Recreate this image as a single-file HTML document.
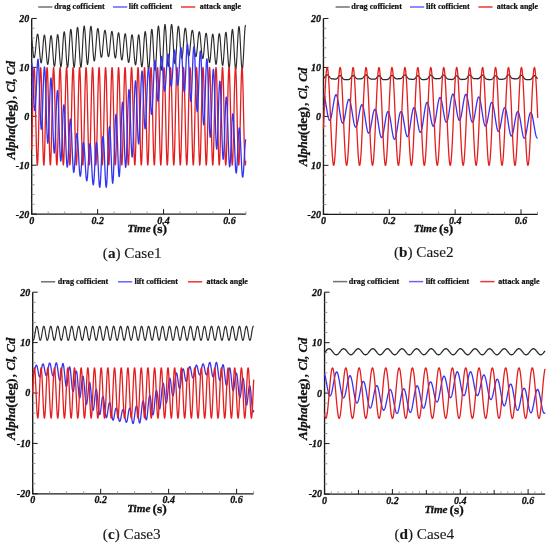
<!DOCTYPE html>
<html><head><meta charset="utf-8"><style>
html,body{margin:0;padding:0;background:#fff;width:550px;height:544px;overflow:hidden}
svg{display:block;will-change:transform}
text{font-family:"Liberation Serif", serif;fill:#111;stroke:#111;stroke-width:0.2px}
.cap{stroke-width:0.12px;stroke:#1a1a1a}
.tl{font-size:10px;font-style:italic;font-weight:bold;stroke-width:0.3px}
.lg{font-size:7.4px;font-weight:bold}
.yt{font-size:12px;font-weight:bold;stroke-width:0.3px}
.xt{font-size:11.2px}
.al{font-size:12.8px}
.upd{font-style:normal;font-size:13px}
.it{font-style:italic}
.up{font-style:normal;font-size:13.5px}
.cap{font-size:13.6px;fill:#1a1a1a}
</style></head><body>
<svg width="550" height="544" viewBox="0 0 550 544">
<rect width="550" height="544" fill="#fff"/>
<path d="M31.70,18.45 V214.10 H245.90" fill="none" stroke="#1a1a1a" stroke-width="1.35"/>
<path d="M31.70,214.10h5 M31.70,165.19h5 M31.70,116.28h5 M31.70,67.36h5 M31.70,18.45h5 M31.70,214.10v-5 M97.63,214.10v-5 M163.57,214.10v-5 M229.50,214.10v-5" fill="none" stroke="#1a1a1a" stroke-width="1"/>
<path d="M31.70,204.32h2.8 M31.70,194.53h2.8 M31.70,184.75h2.8 M31.70,174.97h2.8 M31.70,155.41h2.8 M31.70,145.62h2.8 M31.70,135.84h2.8 M31.70,126.06h2.8 M31.70,106.49h2.8 M31.70,96.71h2.8 M31.70,86.93h2.8 M31.70,77.15h2.8 M31.70,57.58h2.8 M31.70,47.80h2.8 M31.70,38.02h2.8 M31.70,28.23h2.8 M48.18,214.10v-2.5 M64.67,214.10v-2.5 M81.15,214.10v-2.5 M114.12,214.10v-2.5 M130.60,214.10v-2.5 M147.08,214.10v-2.5 M180.05,214.10v-2.5 M196.53,214.10v-2.5 M213.02,214.10v-2.5 M245.98,214.10v-2.5" fill="none" stroke="#8a8a8a" stroke-width="0.9"/>
<text x="29.20" y="21.85" text-anchor="end" class="tl">20</text>
<text x="29.20" y="70.76" text-anchor="end" class="tl">10</text>
<text x="29.20" y="119.68" text-anchor="end" class="tl">0</text>
<text x="29.20" y="168.59" text-anchor="end" class="tl">-10</text>
<text x="29.20" y="217.50" text-anchor="end" class="tl">-20</text>
<text x="31.70" y="223.60" text-anchor="middle" class="tl">0</text>
<text x="97.63" y="223.60" text-anchor="middle" class="tl">0.2</text>
<text x="163.57" y="223.60" text-anchor="middle" class="tl">0.4</text>
<text x="229.50" y="223.60" text-anchor="middle" class="tl">0.6</text>
<polyline points="31.70,38.46 31.95,40.78 32.20,43.38 32.45,46.12 32.70,48.83 32.95,51.39 33.20,53.64 33.45,55.47 33.70,56.76 33.95,57.46 34.20,57.61 34.45,57.27 34.70,56.35 34.95,54.89 35.20,52.96 35.45,50.67 35.70,48.11 35.95,45.44 36.20,42.77 36.45,40.26 36.70,38.04 36.95,36.23 37.20,34.93 37.45,34.22 37.70,34.17 37.95,34.80 38.20,36.07 38.45,37.92 38.70,40.29 38.95,43.06 39.20,46.09 39.45,49.25 39.70,52.39 39.95,55.35 40.20,57.98 40.45,60.15 40.70,61.76 40.95,62.72 41.20,62.92 41.45,62.26 41.70,60.84 41.95,58.75 42.20,56.09 42.45,53.04 42.70,49.75 42.95,46.42 43.20,43.24 43.45,40.39 43.70,38.03 43.95,36.31 44.20,35.31 44.45,35.10 44.70,35.68 44.95,37.04 45.20,39.11 45.45,41.77 45.70,44.87 45.95,48.25 46.20,51.71 46.45,55.06 46.70,58.13 46.95,60.72 47.20,62.70 47.45,63.96 47.70,64.43 47.95,64.10 48.20,63.00 48.45,61.17 48.70,58.73 48.95,55.81 49.20,52.55 49.45,49.16 49.70,45.81 49.95,42.69 50.20,39.98 50.45,37.82 50.70,36.34 50.95,35.63 51.20,35.69 51.45,36.55 51.70,38.18 51.95,40.51 52.20,43.40 52.45,46.71 52.70,50.25 52.95,53.84 53.20,57.28 53.45,60.37 53.70,62.96 53.95,64.89 54.20,66.05 54.45,66.37 54.70,65.75 54.95,64.26 55.20,61.97 55.45,59.02 55.70,55.58 55.95,51.83 56.20,48.01 56.45,44.34 56.70,41.02 56.95,38.25 57.20,36.19 57.45,34.97 57.70,34.65 57.95,35.27 58.20,36.72 58.45,38.98 58.70,41.93 58.95,45.41 59.20,49.21 59.45,53.11 59.70,56.88 59.95,60.30 60.20,63.16 60.45,65.29 60.70,66.55 60.95,66.86 61.20,66.21 61.45,64.64 61.70,62.23 61.95,59.10 62.20,55.43 62.45,51.41 62.70,47.26 62.95,43.22 63.20,39.52 63.45,36.36 63.70,33.93 63.95,32.36 64.20,31.75 64.45,32.14 64.70,33.52 64.95,35.82 65.20,38.88 65.45,42.56 65.70,46.64 65.95,50.88 66.20,55.06 66.45,58.93 66.70,62.26 66.95,64.87 67.20,66.60 67.45,67.34 67.70,67.03 67.95,65.69 68.20,63.39 68.45,60.26 68.70,56.46 68.95,52.20 69.20,47.73 69.45,43.28 69.70,39.11 69.95,35.45 70.20,32.51 70.45,30.46 70.70,29.41 70.95,29.42 71.20,30.52 71.45,32.63 71.70,35.62 71.95,39.34 72.20,43.57 72.45,48.07 72.70,52.59 72.95,56.87 73.20,60.67 73.45,63.76 73.70,65.97 73.95,67.16 74.20,67.28 74.45,66.35 74.70,64.42 74.95,61.60 75.20,58.03 75.45,53.90 75.70,49.41 75.95,44.82 76.20,40.35 76.45,36.24 76.70,32.72 76.95,29.97 77.20,28.14 77.45,27.32 77.70,27.58 77.95,28.90 78.20,31.21 78.45,34.37 78.70,38.23 78.95,42.57 79.20,47.16 79.45,51.77 79.70,56.14 79.95,60.04 80.20,63.26 80.45,65.63 80.70,67.02 80.95,67.32 81.20,66.41 81.45,64.40 81.70,61.41 81.95,57.61 82.20,53.21 82.45,48.44 82.70,43.59 82.95,38.91 83.20,34.67 83.45,31.09 83.70,28.38 83.95,26.67 84.20,26.07 84.45,26.59 84.70,28.25 84.95,30.88 85.20,34.33 85.45,38.41 85.70,42.87 85.95,47.46 86.20,51.91 86.45,55.99 86.70,59.44 86.95,62.09 87.20,63.78 87.45,64.43 87.70,64.00 87.95,62.58 88.20,60.25 88.45,57.13 88.70,53.39 88.95,49.24 89.20,44.89 89.45,40.57 89.70,36.51 89.95,32.91 90.20,29.97 90.45,27.82 90.70,26.58 90.95,26.29 91.20,27.03 91.45,28.69 91.70,31.17 91.95,34.31 92.20,37.96 92.45,41.90 92.70,45.92 92.95,49.81 93.20,53.36 93.45,56.39 93.70,58.74 93.95,60.30 94.20,60.98 94.45,60.78 94.70,59.76 94.95,58.00 95.20,55.58 95.45,52.63 95.70,49.30 95.95,45.76 96.20,42.17 96.45,38.72 96.70,35.56 96.95,32.85 97.20,30.70 97.45,29.22 97.70,28.47 97.95,28.47 98.20,29.21 98.45,30.64 98.70,32.68 98.95,35.23 99.20,38.16 99.45,41.31 99.70,44.53 99.95,47.65 100.20,50.54 100.45,53.04 100.70,55.05 100.95,56.46 101.20,57.22 101.45,57.32 101.70,56.82 101.95,55.67 102.20,53.93 102.45,51.69 102.70,49.07 102.95,46.19 103.20,43.20 103.45,40.25 103.70,37.48 103.95,35.02 104.20,32.99 104.45,31.49 104.70,30.56 104.95,30.27 105.20,30.63 105.45,31.62 105.70,33.20 105.95,35.27 106.20,37.74 106.45,40.48 106.70,43.37 106.95,46.26 107.20,49.00 107.45,51.48 107.70,53.56 107.95,55.15 108.20,56.18 108.45,56.59 108.70,56.43 108.95,55.60 109.20,54.14 109.45,52.14 109.70,49.69 109.95,46.93 110.20,44.01 110.45,41.09 110.70,38.32 110.95,35.85 111.20,33.83 111.45,32.37 111.70,31.54 111.95,31.38 112.20,31.91 112.45,33.11 112.70,34.91 112.95,37.23 113.20,39.93 113.45,42.88 113.70,45.93 113.95,48.91 114.20,51.68 114.45,54.08 114.70,55.99 114.95,57.32 115.20,57.99 115.45,57.98 115.70,57.23 115.95,55.78 116.20,53.71 116.45,51.15 116.70,48.25 116.95,45.17 117.20,42.12 117.45,39.25 117.70,36.75 117.95,34.77 118.20,33.41 118.45,32.76 118.70,32.88 118.95,33.75 119.20,35.34 119.45,37.56 119.70,40.27 119.95,43.34 120.20,46.58 120.45,49.81 120.70,52.85 120.95,55.51 121.20,57.66 121.45,59.16 121.70,59.93 121.95,59.95 122.20,59.26 122.45,57.90 122.70,55.94 122.95,53.50 123.20,50.69 123.45,47.67 123.70,44.61 123.95,41.67 124.20,39.01 124.45,36.78 124.70,35.09 124.95,34.06 125.20,33.73 125.45,34.13 125.70,35.25 125.95,37.03 126.20,39.39 126.45,42.20 126.70,45.31 126.95,48.58 127.20,51.82 127.45,54.87 127.70,57.57 127.95,59.78 128.20,61.38 128.45,62.28 128.70,62.45 128.95,61.88 129.20,60.62 129.45,58.73 129.70,56.30 129.95,53.47 130.20,50.38 130.45,47.19 130.70,44.08 130.95,41.21 131.20,38.71 131.45,36.72 131.70,35.37 131.95,34.72 132.20,34.81 132.45,35.65 132.70,37.19 132.95,39.38 133.20,42.08 133.45,45.19 133.70,48.52 133.95,51.93 134.20,55.23 134.45,58.26 134.70,60.85 134.95,62.89 135.20,64.26 135.45,64.88 135.70,64.68 135.95,63.57 136.20,61.60 136.45,58.92 136.70,55.67 136.95,52.07 137.20,48.34 137.45,44.71 137.70,41.42 137.95,38.66 138.20,36.51 138.45,35.17 138.70,34.76 138.95,35.31 139.20,36.81 139.45,39.16 139.70,42.24 139.95,45.86 140.20,49.79 140.45,53.79 140.70,57.62 140.95,61.03 141.20,63.81 141.45,65.76 141.70,66.76 141.95,66.77 142.20,65.87 142.45,64.11 142.70,61.58 142.95,58.40 143.20,54.72 143.45,50.75 143.70,46.68 143.95,42.74 144.20,39.14 144.45,36.07 144.70,33.70 144.95,32.16 145.20,31.59 145.45,31.99 145.70,33.34 145.95,35.60 146.20,38.63 146.45,42.30 146.70,46.40 146.95,50.72 147.20,55.04 147.45,59.12 147.70,62.75 147.95,65.72 148.20,67.87 148.45,69.08 148.70,69.24 148.95,68.23 149.20,66.11 149.45,62.99 149.70,59.05 149.95,54.54 150.20,49.70 150.45,44.84 150.70,40.23 150.95,36.16 151.20,32.88 151.45,30.58 151.70,29.41 151.95,29.45 152.20,30.66 152.45,33.01 152.70,36.37 152.95,40.54 153.20,45.28 153.45,50.30 153.70,55.29 153.95,59.96 154.20,64.02 154.45,67.21 154.70,69.34 154.95,70.26 155.20,69.93 155.45,68.47 155.70,65.96 155.95,62.52 156.20,58.33 156.45,53.61 156.70,48.59 156.95,43.54 157.20,38.73 157.45,34.41 157.70,30.81 157.95,28.13 158.20,26.51 158.45,26.04 158.70,26.80 158.95,28.70 159.20,31.64 159.45,35.46 159.70,39.95 159.95,44.89 160.20,50.01 160.45,55.03 160.70,59.68 160.95,63.72 161.20,66.93 161.45,69.13 161.70,70.20 161.95,69.96 162.20,68.34 162.45,65.49 162.70,61.56 162.95,56.81 163.20,51.50 163.45,45.95 163.70,40.49 163.95,35.44 164.20,31.09 164.45,27.69 164.70,25.44 164.95,24.46 165.20,24.79 165.45,26.42 165.70,29.27 165.95,33.10 166.20,37.68 166.45,42.72 166.70,47.92 166.95,52.95 167.20,57.51 167.45,61.33 167.70,64.19 167.95,65.90 168.20,66.38 168.45,65.73 168.70,63.99 168.95,61.27 169.20,57.71 169.45,53.50 169.70,48.87 169.95,44.05 170.20,39.31 170.45,34.89 170.70,31.02 170.95,27.91 171.20,25.70 171.45,24.52 171.70,24.41 171.95,25.37 172.20,27.41 172.45,30.35 172.70,34.02 172.95,38.21 173.20,42.71 173.45,47.26 173.70,51.63 173.95,55.58 174.20,58.92 174.45,61.46 174.70,63.07 174.95,63.69 175.20,63.22 175.45,61.73 175.70,59.35 175.95,56.21 176.20,52.47 176.45,48.35 176.70,44.06 176.95,39.83 177.20,35.89 177.45,32.42 177.70,29.61 177.95,27.59 178.20,26.46 178.45,26.25 178.70,26.96 178.95,28.54 179.20,30.89 179.45,33.87 179.70,37.30 179.95,41.00 180.20,44.77 180.45,48.39 180.70,51.69 180.95,54.47 181.20,56.61 181.45,58.00 181.70,58.57 181.95,58.36 182.20,57.43 182.45,55.77 182.70,53.48 182.95,50.69 183.20,47.53 183.45,44.17 183.70,40.77 183.95,37.51 184.20,34.55 184.45,32.03 184.70,30.07 184.95,28.77 185.20,28.18 185.45,28.32 185.70,29.18 185.95,30.71 186.20,32.83 186.45,35.41 186.70,38.33 186.95,41.43 187.20,44.56 187.45,47.56 187.70,50.29 187.95,52.60 188.20,54.39 188.45,55.57 188.70,56.09 188.95,56.00 189.20,55.31 189.45,54.00 189.70,52.15 189.95,49.85 190.20,47.22 190.45,44.40 190.70,41.51 190.95,38.70 191.20,36.12 191.45,33.88 191.70,32.11 191.95,30.87 192.20,30.25 192.45,30.25 192.70,30.88 192.95,32.11 193.20,33.88 193.45,36.11 193.70,38.69 193.95,41.50 194.20,44.40 194.45,47.24 194.70,49.90 194.95,52.24 195.20,54.16 195.45,55.57 195.70,56.39 195.95,56.60 196.20,56.20 196.45,55.14 196.70,53.48 196.95,51.32 197.20,48.76 197.45,45.96 197.70,43.06 197.95,40.21 198.20,37.58 198.45,35.31 198.70,33.52 198.95,32.31 199.20,31.76 199.45,31.88 199.70,32.69 199.95,34.13 200.20,36.15 200.45,38.64 200.70,41.46 200.95,44.47 201.20,47.52 201.45,50.45 201.70,53.10 201.95,55.34 202.20,57.05 202.45,58.14 202.70,58.56 202.95,58.35 203.20,57.47 203.45,55.95 203.70,53.88 203.95,51.37 204.20,48.56 204.45,45.60 204.70,42.65 204.95,39.88 205.20,37.43 205.45,35.46 205.70,34.05 205.95,33.30 206.20,33.27 206.45,33.95 206.70,35.34 206.95,37.37 207.20,39.93 207.45,42.90 207.70,46.13 207.95,49.46 208.20,52.71 208.45,55.70 208.70,58.30 208.95,60.35 209.20,61.75 209.45,62.43 209.70,62.26 209.95,61.26 210.20,59.50 210.45,57.07 210.70,54.12 210.95,50.83 211.20,47.39 211.45,44.00 211.70,40.86 211.95,38.16 212.20,36.06 212.45,34.69 212.70,34.11 212.95,34.35 213.20,35.43 213.45,37.30 213.70,39.86 213.95,42.96 214.20,46.42 214.45,50.05 214.70,53.64 214.95,56.98 215.20,59.88 215.45,62.17 215.70,63.70 215.95,64.39 216.20,64.18 216.45,63.11 216.70,61.24 216.95,58.69 217.20,55.59 217.45,52.12 217.70,48.47 217.95,44.85 218.20,41.46 218.45,38.50 218.70,36.14 218.95,34.50 219.20,33.70 219.45,33.76 219.70,34.67 219.95,36.41 220.20,38.89 220.45,41.97 220.70,45.48 220.95,49.21 221.20,52.98 221.45,56.55 221.70,59.72 221.95,62.32 222.20,64.19 222.45,65.22 222.70,65.36 222.95,64.60 223.20,62.92 223.45,60.43 223.70,57.27 223.95,53.60 224.20,49.65 224.45,45.64 224.70,41.81 224.95,38.39 225.20,35.57 225.45,33.53 225.70,32.39 225.95,32.24 226.20,33.04 226.45,34.80 226.70,37.43 226.95,40.78 227.20,44.66 227.45,48.86 227.70,53.13 227.95,57.23 228.20,60.90 228.45,63.92 228.70,66.13 228.95,67.36 229.20,67.55 229.45,66.68 229.70,64.81 229.95,62.04 230.20,58.52 230.45,54.43 230.70,50.00 230.95,45.48 231.20,41.13 231.45,37.18 231.70,33.88 231.95,31.40 232.20,29.90 232.45,29.46 232.70,30.13 232.95,31.87 233.20,34.58 233.45,38.13 233.70,42.32 233.95,46.91 234.20,51.66 234.45,56.29 234.70,60.53 234.95,64.14 235.20,66.91 235.45,68.67 235.70,69.32 235.95,68.74 236.20,66.97 236.45,64.13 236.70,60.35 236.95,55.86 237.20,50.90 237.45,45.76 237.70,40.74 237.95,36.13 238.20,32.19 238.45,29.16 238.70,27.22 238.95,26.48 239.20,27.00 239.45,28.75 239.70,31.68 239.95,35.56 240.20,40.17 240.45,45.25 240.70,50.50 240.95,55.60 241.20,60.28 241.45,64.24 241.70,67.26 241.95,69.15 242.20,69.81 242.45,69.20 242.70,67.43 242.95,64.56 243.20,60.77 243.45,56.26 243.70,51.26 243.95,46.06 244.20,40.93 244.45,36.16 244.70,32.00 244.95,28.68 245.20,26.39 245.45,25.25 245.70,25.33" fill="none" stroke="#2a2a2a" stroke-width="1.15" stroke-linejoin="round"/>
<polyline points="31.70,149.62 31.95,140.09 32.20,129.16 32.45,117.49 32.70,105.75 32.95,94.62 33.20,84.75 33.45,76.71 33.70,70.98 33.95,67.88 34.20,67.59 34.45,70.14 34.70,75.37 34.95,82.98 35.20,92.53 35.45,103.45 35.70,115.13 35.95,126.87 36.20,137.99 36.45,147.86 36.70,155.88 36.95,161.60 37.20,164.68 37.45,164.95 37.70,162.39 37.95,157.14 38.20,149.52 38.45,139.96 38.70,129.03 38.95,117.35 39.20,105.61 39.45,94.49 39.70,84.64 39.95,76.63 40.20,70.92 40.45,67.86 40.70,67.60 40.95,70.19 41.20,75.45 41.45,83.08 41.70,92.65 41.95,103.59 42.20,115.27 42.45,127.01 42.70,138.12 42.95,147.96 43.20,155.96 43.45,161.65 43.70,164.70 43.95,164.94 44.20,162.34 44.45,157.06 44.70,149.42 44.95,139.84 45.20,128.89 45.45,117.21 45.70,105.47 45.95,94.37 46.20,84.53 46.45,76.55 46.70,70.87 46.95,67.84 47.20,67.62 47.45,70.23 47.70,75.52 47.95,83.19 48.20,92.77 48.45,103.73 48.70,115.41 48.95,127.15 49.20,138.25 49.45,148.07 49.70,156.05 49.95,161.71 50.20,164.72 50.45,164.92 50.70,162.29 50.95,156.99 51.20,149.31 51.45,139.71 51.70,128.75 51.95,117.07 52.20,105.33 52.45,94.24 52.70,84.42 52.95,76.46 53.20,70.82 53.45,67.82 53.70,67.63 53.95,70.28 54.20,75.60 54.45,83.29 54.70,92.90 54.95,103.87 55.20,115.55 55.45,127.28 55.70,138.37 55.95,148.18 56.20,156.13 56.45,161.76 56.70,164.74 56.95,164.91 57.20,162.24 57.45,156.91 57.70,149.21 57.95,139.59 58.20,128.62 58.45,116.93 58.70,105.20 58.95,94.11 59.20,84.32 59.45,76.38 59.70,70.77 59.95,67.80 60.20,67.65 60.45,70.33 60.70,75.68 60.95,83.40 61.20,93.02 61.45,104.00 61.70,115.70 61.95,127.42 62.20,138.50 62.45,148.29 62.70,156.21 62.95,161.81 63.20,164.76 63.45,164.89 63.70,162.20 63.95,156.83 64.20,149.10 64.45,139.46 64.70,128.48 64.95,116.78 65.20,105.06 65.45,93.99 65.70,84.21 65.95,76.30 66.20,70.71 66.45,67.78 66.70,67.66 66.95,70.38 67.20,75.76 67.45,83.50 67.70,93.15 67.95,104.14 68.20,115.84 68.45,127.56 68.70,138.63 68.95,148.39 69.20,156.29 69.45,161.86 69.70,164.78 69.95,164.88 70.20,162.15 70.45,156.75 70.70,149.00 70.95,139.34 71.20,128.34 71.45,116.64 71.70,104.92 71.95,93.86 72.20,84.10 72.45,76.22 72.70,70.66 72.95,67.76 73.20,67.68 73.45,70.43 73.70,75.84 73.95,83.61 74.20,93.27 74.45,104.28 74.70,115.98 74.95,127.70 75.20,138.75 75.45,148.50 75.70,156.37 75.95,161.91 76.20,164.80 76.45,164.86 76.70,162.10 76.95,156.67 77.20,148.89 77.45,139.21 77.70,128.20 77.95,116.50 78.20,104.78 78.45,93.73 78.70,84.00 78.95,76.14 79.20,70.61 79.45,67.74 79.70,67.70 79.95,70.48 80.20,75.92 80.45,83.71 80.70,93.40 80.95,104.41 81.20,116.12 81.45,127.84 81.70,138.88 81.95,148.61 82.20,156.45 82.45,161.96 82.70,164.82 82.95,164.84 83.20,162.05 83.45,156.59 83.70,148.78 83.95,139.09 84.20,128.07 84.45,116.36 84.70,104.64 84.95,93.61 85.20,83.89 85.45,76.06 85.70,70.56 85.95,67.73 86.20,67.71 86.45,70.53 86.70,76.00 86.95,83.82 87.20,93.52 87.45,104.55 87.70,116.26 87.95,127.97 88.20,139.00 88.45,148.71 88.70,156.53 88.95,162.01 89.20,164.83 89.45,164.83 89.70,162.00 89.95,156.51 90.20,148.68 90.45,138.96 90.70,127.93 90.95,116.22 91.20,104.51 91.45,93.48 91.70,83.78 91.95,75.97 92.20,70.51 92.45,67.71 92.70,67.73 92.95,70.58 93.20,76.08 93.45,83.93 93.70,93.65 93.95,104.69 94.20,116.41 94.45,128.11 94.70,139.13 94.95,148.82 95.20,156.62 95.45,162.06 95.70,164.85 95.95,164.81 96.20,161.95 96.45,156.43 96.70,148.57 96.95,138.84 97.20,127.79 97.45,116.07 97.70,104.37 97.95,93.36 98.20,83.68 98.45,75.89 98.70,70.46 98.95,67.69 99.20,67.75 99.45,70.63 99.70,76.16 99.95,84.03 100.20,93.78 100.45,104.83 100.70,116.55 100.95,128.25 101.20,139.26 101.45,148.93 101.70,156.70 101.95,162.11 102.20,164.87 102.45,164.79 102.70,161.90 102.95,156.35 103.20,148.46 103.45,138.71 103.70,127.65 103.95,115.93 104.20,104.23 104.45,93.23 104.70,83.57 104.95,75.81 105.20,70.41 105.45,67.68 105.70,67.77 105.95,70.68 106.20,76.24 106.45,84.14 106.70,93.90 106.95,104.97 107.20,116.69 107.45,128.39 107.70,139.38 107.95,149.03 108.20,156.78 108.45,162.16 108.70,164.88 108.95,164.77 109.20,161.84 109.45,156.26 109.70,148.36 109.95,138.59 110.20,127.51 110.45,115.79 110.70,104.09 110.95,93.11 111.20,83.47 111.45,75.74 111.70,70.36 111.95,67.66 112.20,67.78 112.45,70.73 112.70,76.33 112.95,84.25 113.20,94.03 113.45,105.10 113.70,116.83 113.95,128.52 114.20,139.51 114.45,149.14 114.70,156.85 114.95,162.21 115.20,164.90 115.45,164.76 115.70,161.79 115.95,156.18 116.20,148.25 116.45,138.46 116.70,127.38 116.95,115.65 117.20,103.96 117.45,92.98 117.70,83.36 117.95,75.66 118.20,70.31 118.45,67.64 118.70,67.80 118.95,70.78 119.20,76.41 119.45,84.35 119.70,94.15 119.95,105.24 120.20,116.97 120.45,128.66 120.70,139.63 120.95,149.24 121.20,156.93 121.45,162.26 121.70,164.91 121.95,164.74 122.20,161.74 122.45,156.10 122.70,148.14 122.95,138.33 123.20,127.24 123.45,115.51 123.70,103.82 123.95,92.86 124.20,83.26 124.45,75.58 124.70,70.26 124.95,67.63 125.20,67.82 125.45,70.84 125.70,76.49 125.95,84.46 126.20,94.28 126.45,105.38 126.70,117.11 126.95,128.80 127.20,139.76 127.45,149.35 127.70,157.01 127.95,162.31 128.20,164.93 128.45,164.72 128.70,161.69 128.95,156.02 129.20,148.04 129.45,138.21 129.70,127.10 129.95,115.36 130.20,103.68 130.45,92.73 130.70,83.15 130.95,75.50 131.20,70.22 131.45,67.61 131.70,67.84 131.95,70.89 132.20,76.57 132.45,84.57 132.70,94.41 132.95,105.52 133.20,117.26 133.45,128.94 133.70,139.88 133.95,149.45 134.20,157.09 134.45,162.36 134.70,164.94 134.95,164.70 135.20,161.64 135.45,155.93 135.70,147.93 135.95,138.08 136.20,126.96 136.45,115.22 136.70,103.55 136.95,92.61 137.20,83.05 137.45,75.42 137.70,70.17 137.95,67.60 138.20,67.86 138.45,70.94 138.70,76.66 138.95,84.68 139.20,94.54 139.45,105.66 139.70,117.40 139.95,129.07 140.20,140.00 140.45,149.55 140.70,157.17 140.95,162.40 141.20,164.96 141.45,164.68 141.70,161.58 141.95,155.85 142.20,147.82 142.45,137.95 142.70,126.82 142.95,115.08 143.20,103.41 143.45,92.48 143.70,82.94 143.95,75.34 144.20,70.12 144.45,67.59 144.70,67.88 144.95,70.99 145.20,76.74 145.45,84.79 145.70,94.66 145.95,105.80 146.20,117.54 146.45,129.21 146.70,140.13 146.95,149.66 147.20,157.25 147.45,162.45 147.70,164.97 147.95,164.66 148.20,161.53 148.45,155.77 148.70,147.71 148.95,137.82 149.20,126.68 149.45,114.94 149.70,103.27 149.95,92.36 150.20,82.84 150.45,75.26 150.70,70.08 150.95,67.57 151.20,67.90 151.45,71.05 151.70,76.82 151.95,84.89 152.20,94.79 152.45,105.94 152.70,117.68 152.95,129.35 153.20,140.25 153.45,149.76 153.70,157.32 153.95,162.50 154.20,164.98 154.45,164.64 154.70,161.47 154.95,155.68 155.20,147.60 155.45,137.70 155.70,126.55 155.95,114.80 156.20,103.13 156.45,92.24 156.70,82.74 156.95,75.19 157.20,70.03 157.45,67.56 157.70,67.93 157.95,71.10 158.20,76.91 158.45,85.00 158.70,94.92 158.95,106.07 159.20,117.82 159.45,129.48 159.70,140.38 159.95,149.86 160.20,157.40 160.45,162.54 160.70,165.00 160.95,164.61 161.20,161.42 161.45,155.60 161.70,147.49 161.95,137.57 162.20,126.41 162.45,114.66 162.70,103.00 162.95,92.11 163.20,82.63 163.45,75.11 163.70,69.98 163.95,67.55 164.20,67.95 164.45,71.16 164.70,76.99 164.95,85.11 165.20,95.05 165.45,106.21 165.70,117.97 165.95,129.62 166.20,140.50 166.45,149.97 166.70,157.48 166.95,162.59 167.20,165.01 167.45,164.59 167.70,161.37 167.95,155.52 168.20,147.38 168.45,137.44 168.70,126.27 168.95,114.51 169.20,102.86 169.45,91.99 169.70,82.53 169.95,75.03 170.20,69.94 170.45,67.54 170.70,67.97 170.95,71.21 171.20,77.08 171.45,85.22 171.70,95.17 171.95,106.35 172.20,118.11 172.45,129.76 172.70,140.62 172.95,150.07 173.20,157.55 173.45,162.64 173.70,165.02 173.95,164.57 174.20,161.31 174.45,155.43 174.70,147.27 174.95,137.31 175.20,126.13 175.45,114.37 175.70,102.72 175.95,91.87 176.20,82.43 176.45,74.96 176.70,69.89 176.95,67.52 177.20,67.99 177.45,71.27 177.70,77.16 177.95,85.33 178.20,95.30 178.45,106.49 178.70,118.25 178.95,129.89 179.20,140.74 179.45,150.17 179.70,157.63 179.95,162.68 180.20,165.03 180.45,164.55 180.70,161.25 180.95,155.35 181.20,147.16 181.45,137.18 181.70,125.99 181.95,114.23 182.20,102.59 182.45,91.74 182.70,82.33 182.95,74.88 183.20,69.85 183.45,67.51 183.70,68.01 183.95,71.32 184.20,77.25 184.45,85.44 184.70,95.43 184.95,106.63 185.20,118.39 185.45,130.03 185.70,140.87 185.95,150.28 186.20,157.71 186.45,162.73 186.70,165.04 186.95,164.52 187.20,161.20 187.45,155.26 187.70,147.05 187.95,137.06 188.20,125.85 188.45,114.09 188.70,102.45 188.95,91.62 189.20,82.22 189.45,74.81 189.70,69.80 189.95,67.50 190.20,68.04 190.45,71.38 190.70,77.33 190.95,85.55 191.20,95.56 191.45,106.77 191.70,118.53 191.95,130.17 192.20,140.99 192.45,150.38 192.70,157.78 192.95,162.77 193.20,165.05 193.45,164.50 193.70,161.14 193.95,155.17 194.20,146.94 194.45,136.93 194.70,125.71 194.95,113.95 195.20,102.32 195.45,91.50 195.70,82.12 195.95,74.73 196.20,69.76 196.45,67.49 196.70,68.06 196.95,71.44 197.20,77.42 197.45,85.66 197.70,95.69 197.95,106.91 198.20,118.67 198.45,130.30 198.70,141.11 198.95,150.48 199.20,157.86 199.45,162.81 199.70,165.06 199.95,164.48 200.20,161.09 200.45,155.09 200.70,146.83 200.95,136.80 201.20,125.57 201.45,113.80 201.70,102.18 201.95,91.38 202.20,82.02 202.45,74.66 202.70,69.71 202.95,67.48 203.20,68.09 203.45,71.49 203.70,77.51 203.95,85.77 204.20,95.82 204.45,107.05 204.70,118.82 204.95,130.44 205.20,141.23 205.45,150.58 205.70,157.93 205.95,162.86 206.20,165.07 206.45,164.45 206.70,161.03 206.95,155.00 207.20,146.72 207.45,136.67 207.70,125.43 207.95,113.66 208.20,102.04 208.45,91.25 208.70,81.92 208.95,74.58 209.20,69.67 209.45,67.47 209.70,68.11 209.95,71.55 210.20,77.59 210.45,85.88 210.70,95.94 210.95,107.19 211.20,118.96 211.45,130.57 211.70,141.36 211.95,150.68 212.20,158.00 212.45,162.90 212.70,165.08 212.95,164.43 213.20,160.97 213.45,154.91 213.70,146.61 213.95,136.54 214.20,125.29 214.45,113.52 214.70,101.91 214.95,91.13 215.20,81.82 215.45,74.51 215.70,69.63 215.95,67.46 216.20,68.13 216.45,71.61 216.70,77.68 216.95,86.00 217.20,96.07 217.45,107.33 217.70,119.10 217.95,130.71 218.20,141.48 218.45,150.78 218.70,158.08 218.95,162.94 219.20,165.09 219.45,164.40 219.70,160.91 219.95,154.83 220.20,146.50 220.45,136.41 220.70,125.15 220.95,113.38 221.20,101.77 221.45,91.01 221.70,81.72 221.95,74.44 222.20,69.59 222.45,67.45 222.70,68.16 222.95,71.67 223.20,77.77 223.45,86.11 223.70,96.20 223.95,107.47 224.20,119.24 224.45,130.84 224.70,141.60 224.95,150.88 225.20,158.15 225.45,162.98 225.70,165.10 225.95,164.38 226.20,160.85 226.45,154.74 226.70,146.39 226.95,136.28 227.20,125.01 227.45,113.24 227.70,101.64 227.95,90.89 228.20,81.62 228.45,74.36 228.70,69.54 228.95,67.44 229.20,68.19 229.45,71.72 229.70,77.85 229.95,86.22 230.20,96.33 230.45,107.61 230.70,119.38 230.95,130.98 231.20,141.72 231.45,150.98 231.70,158.22 231.95,163.03 232.20,165.11 232.45,164.35 232.70,160.80 232.95,154.65 233.20,146.27 233.45,136.15 233.70,124.87 233.95,113.10 234.20,101.50 234.45,90.77 234.70,81.52 234.95,74.29 235.20,69.50 235.45,67.44 235.70,68.21 235.95,71.78 236.20,77.94 236.45,86.33 236.70,96.46 236.95,107.75 237.20,119.52 237.45,131.12 237.70,141.84 237.95,151.08 238.20,158.30 238.45,163.07 238.70,165.12 238.95,164.32 239.20,160.74 239.45,154.56 239.70,146.16 239.95,136.02 240.20,124.73 240.45,112.95 240.70,101.37 240.95,90.65 241.20,81.42 241.45,74.22 241.70,69.46 241.95,67.43 242.20,68.24 242.45,71.84 242.70,78.03 242.95,86.44 243.20,96.59 243.45,107.88 243.70,119.67 243.95,131.25 244.20,141.96 244.45,151.18 244.70,158.37 244.95,163.11 245.20,165.12 245.45,164.30 245.70,160.68" fill="none" stroke="#e41e1e" stroke-width="1.3" stroke-linejoin="round"/>
<polyline points="31.70,62.87 31.95,64.38 32.20,67.12 32.45,70.95 32.70,75.68 32.95,81.05 33.20,86.77 33.45,92.51 33.70,97.93 33.95,102.73 34.20,106.59 34.45,109.29 34.70,110.65 34.95,110.57 35.20,109.03 35.45,106.45 35.70,102.56 35.95,97.58 36.20,91.78 36.45,85.51 36.70,79.14 36.95,73.08 37.20,67.71 37.45,63.40 37.70,60.46 37.95,59.11 38.20,59.86 38.45,62.46 38.70,66.72 38.95,72.45 39.20,79.37 39.45,87.10 39.70,95.25 39.95,103.37 40.20,111.01 40.45,117.74 40.70,123.20 40.95,127.07 41.20,129.13 41.45,129.28 41.70,127.51 41.95,123.80 42.20,118.45 42.45,111.87 42.70,104.46 42.95,96.67 43.20,88.97 43.45,81.85 43.70,75.75 43.95,71.04 44.20,68.05 44.45,66.97 44.70,67.91 44.95,70.92 45.20,75.82 45.45,82.31 45.70,90.06 45.95,98.63 46.20,107.56 46.45,116.36 46.70,124.53 46.95,131.64 47.20,137.29 47.45,141.17 47.70,143.09 47.95,142.95 48.20,140.78 48.45,136.61 48.70,130.84 48.95,123.84 49.20,116.03 49.45,107.91 49.70,99.95 49.95,92.66 50.20,86.46 50.45,81.76 50.70,78.83 50.95,77.88 51.20,78.97 51.45,82.12 51.70,87.11 51.95,93.66 52.20,101.41 52.45,109.94 52.70,118.77 52.95,127.41 53.20,135.38 53.45,142.26 53.70,147.66 53.95,151.31 54.20,153.02 54.45,152.73 54.70,150.48 54.95,146.41 55.20,140.80 55.45,134.02 55.70,126.52 55.95,118.74 56.20,111.16 56.45,104.25 56.70,98.42 56.95,94.04 57.20,91.36 57.45,90.57 57.70,91.71 57.95,94.73 58.20,99.50 58.45,105.75 58.70,113.09 58.95,121.13 59.20,129.41 59.45,137.47 59.70,144.87 59.95,151.22 60.20,156.18 60.45,159.50 60.70,161.02 60.95,160.69 61.20,158.57 61.45,154.79 61.70,149.62 61.95,143.43 62.20,136.61 62.45,129.58 62.70,122.78 62.95,116.62 63.20,111.47 63.45,107.65 63.70,105.38 63.95,104.80 64.20,105.96 64.45,108.78 64.70,113.10 64.95,118.68 65.20,125.22 65.45,132.34 65.70,139.64 65.95,146.72 66.20,153.21 66.45,158.74 66.70,163.04 66.95,165.89 67.20,167.16 67.45,166.82 67.70,164.94 67.95,161.62 68.20,157.14 68.45,151.80 68.70,145.92 68.95,139.90 69.20,134.09 69.45,128.85 69.70,124.50 69.95,121.31 70.20,119.45 70.45,119.05 70.70,120.12 70.95,122.62 71.20,126.38 71.45,131.21 71.70,136.83 71.95,142.92 72.20,149.13 72.45,155.14 72.70,160.61 72.95,165.26 73.20,168.86 73.45,171.23 73.70,172.28 73.95,171.99 74.20,170.38 74.45,167.62 74.70,163.92 74.95,159.53 75.20,154.74 75.45,149.85 75.70,145.17 75.95,140.99 76.20,137.56 76.45,135.08 76.70,133.71 76.95,133.47 77.20,134.27 77.45,136.21 77.70,139.18 77.95,143.03 78.20,147.52 78.45,152.41 78.70,157.43 78.95,162.30 79.20,166.74 79.45,170.54 79.70,173.47 79.95,175.40 80.20,176.25 80.45,175.98 80.70,174.66 80.95,172.38 81.20,169.29 81.45,165.58 81.70,161.50 81.95,157.30 82.20,153.24 82.45,149.57 82.70,146.52 82.95,144.27 83.20,142.95 83.45,142.48 83.70,142.93 83.95,144.42 84.20,146.87 84.45,150.15 84.70,154.08 84.95,158.46 85.20,163.01 85.45,167.51 85.70,171.67 85.95,175.27 86.20,178.10 86.45,179.99 86.70,180.83 86.95,180.56 87.20,179.20 87.45,176.84 87.70,173.61 87.95,169.71 88.20,165.37 88.45,160.83 88.70,156.38 88.95,152.28 89.20,148.77 89.45,146.06 89.70,144.34 89.95,143.64 90.20,144.05 90.45,145.59 90.70,148.18 90.95,151.69 91.20,155.92 91.45,160.63 91.70,165.56 91.95,170.43 92.20,174.94 92.45,178.85 92.70,181.90 92.95,183.93 93.20,184.79 93.45,184.40 93.70,182.82 93.95,180.12 94.20,176.46 94.45,172.06 94.70,167.15 94.95,162.03 95.20,157.00 95.45,152.35 95.70,148.35 95.95,145.26 96.20,143.25 96.45,142.46 96.70,142.79 96.95,144.34 97.20,147.09 97.45,150.88 97.70,155.50 97.95,160.69 98.20,166.15 98.45,171.55 98.70,176.58 98.95,180.93 99.20,184.33 99.45,186.56 99.70,187.44 99.95,186.86 100.20,184.90 100.45,181.65 100.70,177.29 100.95,172.06 101.20,166.24 101.45,160.17 101.70,154.18 101.95,148.63 102.20,143.84 102.45,140.08 102.70,137.53 102.95,136.31 103.20,136.58 103.45,138.32 103.70,141.45 103.95,145.80 104.20,151.11 104.45,157.07 104.70,163.34 104.95,169.53 105.20,175.28 105.45,180.22 105.70,184.05 105.95,186.51 106.20,187.32 106.45,186.47 106.70,184.02 106.95,180.10 107.20,174.89 107.45,168.68 107.70,161.81 107.95,154.67 108.20,147.64 108.45,141.13 108.70,135.51 108.95,131.10 109.20,128.15 109.45,126.76 109.70,127.02 109.95,128.98 110.20,132.50 110.45,137.40 110.70,143.36 110.95,150.04 111.20,157.04 111.45,163.93 111.70,170.29 111.95,175.72 112.20,179.87 112.45,182.46 112.70,183.23 112.95,182.19 113.20,179.35 113.45,174.84 113.70,168.91 113.95,161.86 114.20,154.08 114.45,145.99 114.70,138.04 114.95,130.68 115.20,124.33 115.45,119.33 115.70,115.98 115.95,114.45 116.20,114.82 116.45,117.08 116.70,121.07 116.95,126.56 117.20,133.21 117.45,140.63 117.70,148.36 117.95,155.93 118.20,162.89 118.45,168.79 118.70,173.27 118.95,176.01 119.20,176.74 119.45,175.49 119.70,172.29 119.95,167.30 120.20,160.77 120.45,153.06 120.70,144.59 120.95,135.82 121.20,127.25 121.45,119.34 121.70,112.55 121.95,107.23 122.20,103.69 122.45,102.09 122.70,102.53 122.95,104.97 123.20,109.24 123.45,115.09 123.70,122.14 123.95,129.97 124.20,138.10 124.45,146.04 124.70,153.29 124.95,159.41 125.20,164.01 125.45,166.76 125.70,167.49 125.95,166.13 126.20,162.73 126.45,157.46 126.70,150.59 126.95,142.50 127.20,133.62 127.45,124.45 127.70,115.50 127.95,107.26 128.20,100.18 128.45,94.66 128.70,90.99 128.95,89.53 129.20,90.18 129.45,92.89 129.70,97.47 129.95,103.64 130.20,111.01 130.45,119.12 130.70,127.49 130.95,135.61 131.20,142.98 131.45,149.16 131.70,153.76 131.95,156.45 132.20,157.06 132.45,155.57 132.70,152.06 132.95,146.72 133.20,139.85 133.45,131.82 133.70,123.08 133.95,114.11 134.20,105.42 134.45,97.49 134.70,90.74 134.95,85.54 135.20,82.17 135.45,80.77 135.70,81.39 135.95,83.95 136.20,88.29 136.45,94.14 136.70,101.11 136.95,108.77 137.20,116.66 137.45,124.28 137.70,131.18 137.95,136.92 138.20,141.15 138.45,143.53 138.70,143.96 138.95,142.42 139.20,138.97 139.45,133.80 139.70,127.19 139.95,119.50 140.20,111.17 140.45,102.64 140.70,94.39 140.95,86.87 141.20,80.49 141.45,75.56 141.70,72.36 141.95,71.01 142.20,71.68 142.45,74.32 142.70,78.57 142.95,84.14 143.20,90.66 143.45,97.73 143.70,104.91 143.95,111.76 144.20,117.86 144.45,122.86 144.70,126.46 144.95,128.46 145.20,128.75 145.45,127.34 145.70,124.30 145.95,119.81 146.20,114.14 146.45,107.60 146.70,100.58 146.95,93.47 147.20,86.66 147.45,80.53 147.70,75.40 147.95,71.54 148.20,69.12 148.45,68.05 148.70,68.54 148.95,70.51 149.20,73.82 149.45,78.24 149.70,83.47 149.95,89.17 150.20,94.99 150.45,100.57 150.70,105.56 150.95,109.64 151.20,112.58 151.45,114.18 151.70,114.36 151.95,113.11 152.20,110.47 152.45,106.58 152.70,101.64 152.95,95.94 153.20,89.78 153.45,83.51 153.70,77.46 153.95,71.96 154.20,67.31 154.45,63.73 154.70,61.42 154.95,60.48 155.20,61.03 155.45,62.88 155.70,65.89 155.95,69.85 156.20,74.49 156.45,79.52 156.70,84.61 156.95,89.46 157.20,93.77 157.45,97.28 157.70,99.77 157.95,101.10 158.20,101.28 158.45,100.24 158.70,98.01 158.95,94.72 159.20,90.56 159.45,85.75 159.70,80.57 159.95,75.32 160.20,70.27 160.45,65.70 160.70,61.86 160.95,58.94 161.20,57.11 161.45,56.47 161.70,56.99 161.95,58.59 162.20,61.17 162.45,64.53 162.70,68.46 162.95,72.71 163.20,77.01 163.45,81.10 163.70,84.73 163.95,87.69 164.20,89.79 164.45,90.92 164.70,91.18 164.95,90.43 165.20,88.68 165.45,86.03 165.70,82.62 165.95,78.66 166.20,74.36 166.45,69.97 166.70,65.73 166.95,61.89 167.20,58.66 167.45,56.20 167.70,54.66 167.95,54.06 168.20,54.45 168.45,55.81 168.70,58.05 168.95,61.02 169.20,64.56 169.45,68.43 169.70,72.41 169.95,76.24 170.20,79.71 170.45,82.59 170.70,84.71 170.95,85.97 171.20,86.37 171.45,85.77 171.70,84.19 171.95,81.71 172.20,78.47 172.45,74.65 172.70,70.45 172.95,66.12 173.20,61.90 173.45,58.03 173.70,54.74 173.95,52.21 174.20,50.63 174.45,50.08 174.70,50.56 174.95,52.04 175.20,54.44 175.45,57.62 175.70,61.37 175.95,65.49 176.20,69.74 176.45,73.85 176.70,77.58 176.95,80.72 177.20,83.07 177.45,84.56 177.70,85.27 177.95,84.92 178.20,83.52 178.45,81.13 178.70,77.89 178.95,73.96 179.20,69.59 179.45,65.01 179.70,60.51 179.95,56.35 180.20,52.78 180.45,50.05 180.70,48.31 180.95,47.64 181.20,48.16 181.45,49.86 181.70,52.68 181.95,56.46 182.20,61.01 182.45,66.08 182.70,71.37 182.95,76.59 183.20,81.42 183.45,85.58 183.70,88.81 183.95,90.97 184.20,91.91 184.45,91.49 184.70,89.73 184.95,86.70 185.20,82.56 185.45,77.54 185.70,71.91 185.95,66.02 186.20,60.20 186.45,54.81 186.70,50.19 186.95,46.67 187.20,44.65 187.45,44.10 187.70,45.08 187.95,47.56 188.20,51.42 188.45,56.47 188.70,62.44 188.95,68.99 189.20,75.76 189.45,82.38 189.70,88.47 189.95,93.67 190.20,97.69 190.45,100.32 190.70,101.39 190.95,100.82 191.20,98.65 191.45,95.01 191.70,90.10 191.95,84.21 192.20,77.70 192.45,70.96 192.70,64.38 192.95,58.37 193.20,53.30 193.45,49.53 193.70,47.29 193.95,46.73 194.20,47.90 194.45,50.77 194.70,55.20 194.95,60.96 195.20,67.74 195.45,75.16 195.70,82.81 195.95,90.26 196.20,97.09 196.45,102.92 196.70,107.40 196.95,110.41 197.20,111.65 197.45,111.07 197.70,108.68 197.95,104.63 198.20,99.16 198.45,92.59 198.70,85.31 198.95,77.76 199.20,70.40 199.45,63.69 199.70,58.03 199.95,53.88 200.20,51.50 200.45,51.01 200.70,52.48 200.95,55.85 201.20,60.97 201.45,67.57 201.70,75.30 201.95,83.73 202.20,92.41 202.45,100.85 202.70,108.57 202.95,115.16 203.20,120.22 203.45,123.48 203.70,124.77 203.95,124.03 204.20,121.30 204.45,116.76 204.70,110.69 204.95,103.46 205.20,95.49 205.45,87.29 205.70,79.35 205.95,72.15 206.20,66.14 206.45,61.70 206.70,59.22 206.95,58.80 207.20,60.49 207.45,64.22 207.70,69.80 207.95,76.93 208.20,85.23 208.45,94.25 208.70,103.49 208.95,112.43 209.20,120.59 209.45,127.50 209.70,132.78 209.95,136.14 210.20,137.41 210.45,136.55 210.70,133.63 210.95,128.84 211.20,122.47 211.45,114.93 211.70,106.67 211.95,98.21 212.20,90.05 212.45,82.70 212.70,76.61 212.95,72.17 213.20,69.71 213.45,69.36 213.70,71.15 213.95,75.02 214.20,80.77 214.45,88.09 214.70,96.58 214.95,105.77 215.20,115.15 215.45,124.21 215.70,132.45 215.95,139.41 216.20,144.67 216.45,147.97 216.70,149.17 216.95,148.22 217.20,145.21 217.45,140.33 217.70,133.89 217.95,126.31 218.20,118.05 218.45,109.60 218.70,101.50 218.95,94.23 219.20,88.24 219.45,83.90 219.70,81.49 219.95,81.20 220.20,83.16 220.45,87.15 220.70,92.96 220.95,100.26 221.20,108.66 221.45,117.70 221.70,126.86 221.95,135.65 222.20,143.60 222.45,150.24 222.70,155.19 222.95,158.25 223.20,159.28 223.45,158.28 223.70,155.34 223.95,150.69 224.20,144.62 224.45,137.54 224.70,129.88 224.95,122.13 225.20,114.76 225.45,108.22 225.70,102.90 225.95,99.14 226.20,97.17 226.45,97.12 226.70,99.01 226.95,102.71 227.20,108.03 227.45,114.65 227.70,122.22 227.95,130.31 228.20,138.48 228.45,146.27 228.70,153.26 228.95,159.09 229.20,163.42 229.45,166.07 229.70,166.94 229.95,166.03 230.20,163.44 230.45,159.37 230.70,154.10 230.95,147.97 231.20,141.39 231.45,134.76 231.70,128.49 231.95,122.98 232.20,118.55 232.45,115.46 232.70,113.92 232.95,113.91 233.20,115.53 233.45,118.69 233.70,123.22 233.95,128.87 234.20,135.32 234.45,142.20 234.70,149.14 234.95,155.76 235.20,161.71 235.45,166.60 235.70,170.21 235.95,172.38 236.20,173.05 236.45,172.20 236.70,169.93 236.95,166.42 237.20,161.91 237.45,156.69 237.70,151.10 237.95,145.49 238.20,140.20 238.45,135.56 238.70,131.84 238.95,129.27 239.20,128.00 239.45,128.03 239.70,129.43 239.95,132.11 240.20,135.91 240.45,140.62 240.70,145.97 240.95,151.66 241.20,157.38 241.45,162.80 241.70,167.64 241.95,171.67 242.20,174.69 242.45,176.54 242.70,177.15 242.95,176.52 243.20,174.72 243.45,171.89 243.70,168.22 243.95,163.98 244.20,159.41 244.45,154.83 244.70,150.50 244.95,146.71 245.20,143.50 245.45,140.93 245.70,139.41" fill="none" stroke="#3434f0" stroke-width="1.3" stroke-linejoin="round"/>
<path d="M38.2,7.0h14.2" stroke="#707070" stroke-width="1.5"/>
<text x="54.2" y="9.3" class="lg" textLength="50.6" lengthAdjust="spacingAndGlyphs">drag cofficient</text>
<path d="M113.0,7.0h14.2" stroke="#6464ff" stroke-width="1.5"/>
<text x="128.7" y="9.3" class="lg" textLength="43.6" lengthAdjust="spacingAndGlyphs">lift cofficient</text>
<path d="M181.0,7.0h14.2" stroke="#f03434" stroke-width="1.5"/>
<text x="199.7" y="9.3" class="lg" textLength="41.4" lengthAdjust="spacingAndGlyphs">attack angle</text>
<text transform="translate(14.6,0) rotate(-90)" x="-159.60" y="0" class="yt it" style="font-size:12.80px" textLength="31.40" lengthAdjust="spacingAndGlyphs">Alpha</text>
<text transform="translate(14.6,0) rotate(-90)" x="-128.60" y="0" class="yt upd" style="font-size:13.00px" textLength="28.40" lengthAdjust="spacingAndGlyphs">(deg)</text>
<text transform="translate(14.6,0) rotate(-90)" x="-98.60" y="0" class="yt it" style="font-size:12.00px" textLength="37.60" lengthAdjust="spacingAndGlyphs">, Cl, Cd</text>
<text x="127.6" y="231.8" class="yt"><tspan class="it xt">Time</tspan><tspan class="up" dx="2" dy="0.8">(s)</tspan></text>
<text transform="translate(102.8,257.9) scale(1.12,1)" class="cap">(<tspan font-weight="bold">a</tspan>) Case1</text>
<path d="M323.45,18.50 V214.30 H537.70" fill="none" stroke="#1a1a1a" stroke-width="1.35"/>
<path d="M323.45,214.30h5 M323.45,165.35h5 M323.45,116.40h5 M323.45,67.45h5 M323.45,18.50h5 M323.45,214.30v-5 M389.30,214.30v-5 M455.15,214.30v-5 M521.00,214.30v-5" fill="none" stroke="#1a1a1a" stroke-width="1"/>
<path d="M323.45,204.51h2.8 M323.45,194.72h2.8 M323.45,184.93h2.8 M323.45,175.14h2.8 M323.45,155.56h2.8 M323.45,145.77h2.8 M323.45,135.98h2.8 M323.45,126.19h2.8 M323.45,106.61h2.8 M323.45,96.82h2.8 M323.45,87.03h2.8 M323.45,77.24h2.8 M323.45,57.66h2.8 M323.45,47.87h2.8 M323.45,38.08h2.8 M323.45,28.29h2.8 M339.91,214.30v-2.5 M356.38,214.30v-2.5 M372.84,214.30v-2.5 M405.76,214.30v-2.5 M422.23,214.30v-2.5 M438.69,214.30v-2.5 M471.61,214.30v-2.5 M488.08,214.30v-2.5 M504.54,214.30v-2.5 M537.46,214.30v-2.5" fill="none" stroke="#8a8a8a" stroke-width="0.9"/>
<text x="320.95" y="21.90" text-anchor="end" class="tl">20</text>
<text x="320.95" y="70.85" text-anchor="end" class="tl">10</text>
<text x="320.95" y="119.80" text-anchor="end" class="tl">0</text>
<text x="320.95" y="168.75" text-anchor="end" class="tl">10</text>
<text x="320.95" y="217.70" text-anchor="end" class="tl">-20</text>
<text x="323.45" y="223.80" text-anchor="middle" class="tl">0</text>
<text x="389.30" y="223.80" text-anchor="middle" class="tl">0.2</text>
<text x="455.15" y="223.80" text-anchor="middle" class="tl">0.4</text>
<text x="521.00" y="223.80" text-anchor="middle" class="tl">0.6</text>
<polyline points="323.45,78.46 323.70,78.30 323.95,78.10 324.20,77.86 324.45,77.59 324.70,77.29 324.95,76.96 325.20,76.62 325.45,76.27 325.70,75.93 325.95,75.62 326.20,75.34 326.45,75.11 326.70,74.94 326.95,74.83 327.20,74.79 327.45,74.83 327.70,74.94 327.95,75.11 328.20,75.34 328.45,75.62 328.70,75.93 328.95,76.27 329.20,76.62 329.45,76.96 329.70,77.29 329.95,77.59 330.20,77.86 330.45,78.10 330.70,78.30 330.95,78.46 331.20,78.59 331.45,78.69 331.70,78.76 331.95,78.82 332.20,78.85 332.45,78.88 332.70,78.90 332.95,78.92 333.20,78.94 333.45,78.96 333.70,78.98 333.95,79.00 334.20,79.02 334.45,79.03 334.70,79.05 334.95,79.06 335.20,79.07 335.45,79.07 335.70,79.04 335.95,79.00 336.20,78.93 336.45,78.83 336.70,78.69 336.95,78.52 337.20,78.30 337.45,78.05 337.70,77.77 337.95,77.47 338.20,77.15 338.45,76.83 338.70,76.53 338.95,76.24 339.20,75.99 339.45,75.79 339.70,75.65 339.95,75.58 340.20,75.57 340.45,75.64 340.70,75.78 340.95,75.97 341.20,76.23 341.45,76.52 341.70,76.85 341.95,77.20 342.20,77.55 342.45,77.89 342.70,78.22 342.95,78.52 343.20,78.78 343.45,79.01 343.70,79.20 343.95,79.35 344.20,79.47 344.45,79.55 344.70,79.61 344.95,79.65 345.20,79.67 345.45,79.68 345.70,79.69 345.95,79.69 346.20,79.69 346.45,79.68 346.70,79.68 346.95,79.68 347.20,79.67 347.45,79.66 347.70,79.66 347.95,79.64 348.20,79.62 348.45,79.58 348.70,79.52 348.95,79.44 349.20,79.34 349.45,79.19 349.70,79.01 349.95,78.80 350.20,78.54 350.45,78.25 350.70,77.93 350.95,77.59 351.20,77.23 351.45,76.88 351.70,76.54 351.95,76.22 352.20,75.95 352.45,75.72 352.70,75.56 352.95,75.46 353.20,75.43 353.45,75.48 353.70,75.59 353.95,75.76 354.20,75.99 354.45,76.26 354.70,76.56 354.95,76.87 355.20,77.19 355.45,77.50 355.70,77.79 355.95,78.05 356.20,78.28 356.45,78.47 356.70,78.63 356.95,78.74 357.20,78.83 357.45,78.88 357.70,78.91 357.95,78.93 358.20,78.93 358.45,78.92 358.70,78.91 358.95,78.89 359.20,78.87 359.45,78.86 359.70,78.84 359.95,78.83 360.20,78.82 360.45,78.80 360.70,78.79 360.95,78.77 361.20,78.74 361.45,78.70 361.70,78.64 361.95,78.56 362.20,78.45 362.45,78.30 362.70,78.12 362.95,77.91 363.20,77.65 363.45,77.37 363.70,77.05 363.95,76.72 364.20,76.38 364.45,76.05 364.70,75.73 364.95,75.44 365.20,75.20 365.45,75.01 365.70,74.88 365.95,74.82 366.20,74.83 366.45,74.92 366.70,75.07 366.95,75.29 367.20,75.56 367.45,75.86 367.70,76.20 367.95,76.55 368.20,76.90 368.45,77.24 368.70,77.56 368.95,77.85 369.20,78.11 369.45,78.33 369.70,78.51 369.95,78.66 370.20,78.77 370.45,78.86 370.70,78.92 370.95,78.97 371.20,79.00 371.45,79.03 371.70,79.05 371.95,79.07 372.20,79.09 372.45,79.12 372.70,79.14 372.95,79.16 373.20,79.18 373.45,79.20 373.70,79.21 373.95,79.22 374.20,79.22 374.45,79.21 374.70,79.17 374.95,79.12 375.20,79.03 375.45,78.90 375.70,78.74 375.95,78.54 376.20,78.30 376.45,78.03 376.70,77.73 376.95,77.42 377.20,77.10 377.45,76.78 377.70,76.48 377.95,76.21 378.20,75.99 378.45,75.82 378.70,75.71 378.95,75.68 379.20,75.71 379.45,75.81 379.70,75.98 379.95,76.21 380.20,76.49 380.45,76.80 380.70,77.13 380.95,77.48 381.20,77.82 381.45,78.15 381.70,78.45 381.95,78.72 382.20,78.96 382.45,79.16 382.70,79.32 382.95,79.44 383.20,79.53 383.45,79.59 383.70,79.63 383.95,79.65 384.20,79.66 384.45,79.66 384.70,79.66 384.95,79.65 385.20,79.64 385.45,79.64 385.70,79.63 385.95,79.61 386.20,79.60 386.45,79.59 386.70,79.57 386.95,79.54 387.20,79.51 387.45,79.46 387.70,79.38 387.95,79.28 388.20,79.15 388.45,78.98 388.70,78.77 388.95,78.53 389.20,78.25 389.45,77.93 389.70,77.59 389.95,77.24 390.20,76.88 390.45,76.53 390.70,76.20 390.95,75.91 391.20,75.66 391.45,75.47 391.70,75.34 391.95,75.28 392.20,75.30 392.45,75.38 392.70,75.53 392.95,75.74 393.20,75.99 393.45,76.28 393.70,76.59 393.95,76.91 394.20,77.23 394.45,77.53 394.70,77.81 394.95,78.05 395.20,78.26 395.45,78.43 395.70,78.57 395.95,78.67 396.20,78.73 396.45,78.78 396.70,78.80 396.95,78.81 397.20,78.81 397.45,78.80 397.70,78.79 397.95,78.78 398.20,78.77 398.45,78.76 398.70,78.75 398.95,78.74 399.20,78.74 399.45,78.73 399.70,78.71 399.95,78.70 400.20,78.67 400.45,78.62 400.70,78.56 400.95,78.46 401.20,78.34 401.45,78.18 401.70,77.99 401.95,77.75 402.20,77.49 402.45,77.19 402.70,76.87 402.95,76.54 403.20,76.21 403.45,75.89 403.70,75.59 403.95,75.34 404.20,75.13 404.45,74.98 404.70,74.90 404.95,74.89 405.20,74.95 405.45,75.09 405.70,75.28 405.95,75.54 406.20,75.83 406.45,76.16 406.70,76.51 406.95,76.87 407.20,77.22 407.45,77.55 407.70,77.86 407.95,78.14 408.20,78.37 408.45,78.58 408.70,78.74 408.95,78.87 409.20,78.97 409.45,79.04 409.70,79.10 409.95,79.14 410.20,79.17 410.45,79.20 410.70,79.22 410.95,79.24 411.20,79.26 411.45,79.28 411.70,79.30 411.95,79.32 412.20,79.34 412.45,79.36 412.70,79.37 412.95,79.37 413.20,79.36 413.45,79.33 413.70,79.28 413.95,79.20 414.20,79.09 414.45,78.94 414.70,78.75 414.95,78.53 415.20,78.27 415.45,77.97 415.70,77.66 415.95,77.33 416.20,77.01 416.45,76.70 416.70,76.41 416.95,76.16 417.20,75.97 417.45,75.83 417.70,75.76 417.95,75.76 418.20,75.83 418.45,75.96 418.70,76.16 418.95,76.41 419.20,76.71 419.45,77.03 419.70,77.36 419.95,77.70 420.20,78.03 420.45,78.34 420.70,78.62 420.95,78.86 421.20,79.07 421.45,79.24 421.70,79.37 421.95,79.46 422.20,79.53 422.45,79.57 422.70,79.59 422.95,79.60 423.20,79.60 423.45,79.59 423.70,79.58 423.95,79.57 424.20,79.55 424.45,79.54 424.70,79.52 424.95,79.51 425.20,79.49 425.45,79.47 425.70,79.44 425.95,79.40 426.20,79.35 426.45,79.29 426.70,79.19 426.95,79.07 427.20,78.91 427.45,78.72 427.70,78.49 427.95,78.22 428.20,77.91 428.45,77.58 428.70,77.23 428.95,76.87 429.20,76.52 429.45,76.18 429.70,75.87 429.95,75.60 430.20,75.38 430.45,75.23 430.70,75.14 430.95,75.13 431.20,75.19 431.45,75.32 431.70,75.50 431.95,75.74 432.20,76.02 432.45,76.33 432.70,76.65 432.95,76.97 433.20,77.28 433.45,77.57 433.70,77.83 433.95,78.06 434.20,78.25 434.45,78.41 434.70,78.52 434.95,78.61 435.20,78.67 435.45,78.70 435.70,78.72 435.95,78.73 436.20,78.73 436.45,78.73 436.70,78.72 436.95,78.72 437.20,78.72 437.45,78.71 437.70,78.71 437.95,78.71 438.20,78.71 438.45,78.70 438.70,78.69 438.95,78.67 439.20,78.64 439.45,78.59 439.70,78.52 439.95,78.41 440.20,78.28 440.45,78.10 440.70,77.89 440.95,77.64 441.20,77.37 441.45,77.06 441.70,76.74 441.95,76.41 442.20,76.09 442.45,75.79 442.70,75.52 442.95,75.30 443.20,75.13 443.45,75.03 443.70,74.99 443.95,75.03 444.20,75.14 444.45,75.32 444.70,75.55 444.95,75.84 445.20,76.16 445.45,76.51 445.70,76.87 445.95,77.22 446.20,77.57 446.45,77.89 446.70,78.18 446.95,78.43 447.20,78.65 447.45,78.83 447.70,78.97 447.95,79.08 448.20,79.17 448.45,79.23 448.70,79.28 448.95,79.31 449.20,79.34 449.45,79.36 449.70,79.38 449.95,79.40 450.20,79.42 450.45,79.44 450.70,79.45 450.95,79.47 451.20,79.49 451.45,79.50 451.70,79.50 451.95,79.49 452.20,79.47 452.45,79.43 452.70,79.35 452.95,79.25 453.20,79.11 453.45,78.93 453.70,78.72 453.95,78.46 454.20,78.18 454.45,77.87 454.70,77.54 454.95,77.21 455.20,76.88 455.45,76.58 455.70,76.31 455.95,76.08 456.20,75.91 456.45,75.81 456.70,75.77 456.95,75.81 457.20,75.91 457.45,76.08 457.70,76.31 457.95,76.58 458.20,76.88 458.45,77.21 458.70,77.54 458.95,77.87 459.20,78.18 459.45,78.46 459.70,78.72 459.95,78.93 460.20,79.11 460.45,79.25 460.70,79.35 460.95,79.43 461.20,79.47 461.45,79.49 461.70,79.50 461.95,79.50 462.20,79.49 462.45,79.47 462.70,79.45 462.95,79.44 463.20,79.42 463.45,79.40 463.70,79.38 463.95,79.36 464.20,79.34 464.45,79.31 464.70,79.28 464.95,79.23 465.20,79.17 465.45,79.08 465.70,78.97 465.95,78.83 466.20,78.65 466.45,78.43 466.70,78.18 466.95,77.89 467.20,77.57 467.45,77.22 467.70,76.87 467.95,76.51 468.20,76.16 468.45,75.84 468.70,75.55 468.95,75.32 469.20,75.14 469.45,75.03 469.70,74.99 469.95,75.03 470.20,75.13 470.45,75.30 470.70,75.52 470.95,75.79 471.20,76.09 471.45,76.41 471.70,76.74 471.95,77.06 472.20,77.37 472.45,77.64 472.70,77.89 472.95,78.10 473.20,78.28 473.45,78.41 473.70,78.52 473.95,78.59 474.20,78.64 474.45,78.67 474.70,78.69 474.95,78.70 475.20,78.71 475.45,78.71 475.70,78.71 475.95,78.71 476.20,78.72 476.45,78.72 476.70,78.72 476.95,78.73 477.20,78.73 477.45,78.73 477.70,78.72 477.95,78.70 478.20,78.67 478.45,78.61 478.70,78.52 478.95,78.41 479.20,78.25 479.45,78.06 479.70,77.83 479.95,77.57 480.20,77.28 480.45,76.97 480.70,76.65 480.95,76.33 481.20,76.02 481.45,75.74 481.70,75.50 481.95,75.32 482.20,75.19 482.45,75.13 482.70,75.14 482.95,75.23 483.20,75.38 483.45,75.60 483.70,75.87 483.95,76.18 484.20,76.52 484.45,76.87 484.70,77.23 484.95,77.58 485.20,77.91 485.45,78.22 485.70,78.49 485.95,78.72 486.20,78.91 486.45,79.07 486.70,79.19 486.95,79.29 487.20,79.35 487.45,79.40 487.70,79.44 487.95,79.47 488.20,79.49 488.45,79.51 488.70,79.52 488.95,79.54 489.20,79.55 489.45,79.57 489.70,79.58 489.95,79.59 490.20,79.60 490.45,79.60 490.70,79.59 490.95,79.57 491.20,79.53 491.45,79.46 491.70,79.37 491.95,79.24 492.20,79.07 492.45,78.86 492.70,78.62 492.95,78.34 493.20,78.03 493.45,77.70 493.70,77.36 493.95,77.03 494.20,76.71 494.45,76.41 494.70,76.16 494.95,75.96 495.20,75.83 495.45,75.76 495.70,75.76 495.95,75.83 496.20,75.97 496.45,76.16 496.70,76.41 496.95,76.70 497.20,77.01 497.45,77.33 497.70,77.66 497.95,77.97 498.20,78.27 498.45,78.53 498.70,78.75 498.95,78.94 499.20,79.09 499.45,79.20 499.70,79.28 499.95,79.33 500.20,79.36 500.45,79.37 500.70,79.37 500.95,79.36 501.20,79.34 501.45,79.32 501.70,79.30 501.95,79.28 502.20,79.26 502.45,79.24 502.70,79.22 502.95,79.20 503.20,79.17 503.45,79.14 503.70,79.10 503.95,79.04 504.20,78.97 504.45,78.87 504.70,78.74 504.95,78.58 505.20,78.37 505.45,78.14 505.70,77.86 505.95,77.55 506.20,77.22 506.45,76.87 506.70,76.51 506.95,76.16 507.20,75.83 507.45,75.54 507.70,75.28 507.95,75.09 508.20,74.95 508.45,74.89 508.70,74.90 508.95,74.98 509.20,75.13 509.45,75.34 509.70,75.59 509.95,75.89 510.20,76.21 510.45,76.54 510.70,76.87 510.95,77.19 511.20,77.49 511.45,77.75 511.70,77.99 511.95,78.18 512.20,78.34 512.45,78.46 512.70,78.56 512.95,78.62 513.20,78.67 513.45,78.70 513.70,78.71 513.95,78.73 514.20,78.74 514.45,78.74 514.70,78.75 514.95,78.76 515.20,78.77 515.45,78.78 515.70,78.79 515.95,78.80 516.20,78.81 516.45,78.81 516.70,78.80 516.95,78.78 517.20,78.73 517.45,78.67 517.70,78.57 517.95,78.43 518.20,78.26 518.45,78.05 518.70,77.81 518.95,77.53 519.20,77.23 519.45,76.91 519.70,76.59 519.95,76.28 520.20,75.99 520.45,75.74 520.70,75.53 520.95,75.38 521.20,75.30 521.45,75.28 521.70,75.34 521.95,75.47 522.20,75.66 522.45,75.91 522.70,76.20 522.95,76.53 523.20,76.88 523.45,77.24 523.70,77.59 523.95,77.93 524.20,78.25 524.45,78.53 524.70,78.77 524.95,78.98 525.20,79.15 525.45,79.28 525.70,79.38 525.95,79.46 526.20,79.51 526.45,79.54 526.70,79.57 526.95,79.59 527.20,79.60 527.45,79.61 527.70,79.63 527.95,79.64 528.20,79.64 528.45,79.65 528.70,79.66 528.95,79.66 529.20,79.66 529.45,79.65 529.70,79.63 529.95,79.59 530.20,79.53 530.45,79.44 530.70,79.32 530.95,79.16 531.20,78.96 531.45,78.72 531.70,78.45 531.95,78.15 532.20,77.82 532.45,77.48 532.70,77.13 532.95,76.80 533.20,76.49 533.45,76.21 533.70,75.98 533.95,75.81 534.20,75.71 534.45,75.68 534.70,75.71 534.95,75.82 535.20,75.99 535.45,76.21 535.70,76.48 535.95,76.78 536.20,77.10 536.45,77.42 536.70,77.73 536.95,78.03 537.20,78.30 537.45,78.54 537.70,78.74" fill="none" stroke="#2a2a2a" stroke-width="1.3" stroke-linejoin="round"/>
<polyline points="323.45,94.05 323.70,94.40 323.95,94.93 324.20,95.63 324.45,96.50 324.70,97.52 324.95,98.67 325.20,99.95 325.45,101.33 325.70,102.79 325.95,104.32 326.20,105.88 326.45,107.46 326.70,109.04 326.95,110.59 327.20,112.09 327.45,113.52 327.70,114.86 327.95,116.09 328.20,117.18 328.45,118.13 328.70,118.93 328.95,119.55 329.20,119.99 329.45,120.25 329.70,120.31 329.95,120.20 330.20,119.91 330.45,119.42 330.70,118.76 330.95,117.93 331.20,116.94 331.45,115.82 331.70,114.56 331.95,113.20 332.20,111.76 332.45,110.25 332.70,108.69 332.95,107.12 333.20,105.55 333.45,104.01 333.70,102.52 333.95,101.11 334.20,99.79 334.45,98.58 334.70,97.51 334.95,96.58 335.20,95.82 335.45,95.24 335.70,94.85 335.95,94.64 336.20,94.67 336.45,94.94 336.70,95.40 336.95,96.05 337.20,96.88 337.45,97.88 337.70,99.03 337.95,100.32 338.20,101.72 338.45,103.23 338.70,104.82 338.95,106.46 339.20,108.13 339.45,109.81 339.70,111.48 339.95,113.11 340.20,114.68 340.45,116.17 340.70,117.56 340.95,118.82 341.20,119.95 341.45,120.92 341.70,121.73 341.95,122.36 342.20,122.81 342.45,123.07 342.70,123.15 342.95,123.05 343.20,122.75 343.45,122.28 343.70,121.63 343.95,120.82 344.20,119.86 344.45,118.77 344.70,117.56 344.95,116.24 345.20,114.86 345.45,113.41 345.70,111.94 345.95,110.45 346.20,108.97 346.45,107.53 346.70,106.15 346.95,104.84 347.20,103.64 347.45,102.55 347.70,101.60 347.95,100.79 348.20,100.15 348.45,99.68 348.70,99.39 348.95,99.29 349.20,99.39 349.45,99.68 349.70,100.16 349.95,100.81 350.20,101.63 350.45,102.61 350.70,103.74 350.95,105.00 351.20,106.37 351.45,107.83 351.70,109.37 351.95,110.96 352.20,112.58 352.45,114.21 352.70,115.82 352.95,117.40 353.20,118.92 353.45,120.35 353.70,121.69 353.95,122.92 354.20,124.01 354.45,124.95 354.70,125.73 354.95,126.35 355.20,126.78 355.45,127.04 355.70,127.11 355.95,127.03 356.20,126.78 356.45,126.36 356.70,125.77 356.95,125.02 357.20,124.12 357.45,123.10 357.70,121.96 357.95,120.73 358.20,119.42 358.45,118.05 358.70,116.65 358.95,115.24 359.20,113.84 359.45,112.47 359.70,111.15 359.95,109.91 360.20,108.77 360.45,107.74 360.70,106.83 360.95,106.08 361.20,105.48 361.45,105.05 361.70,104.80 361.95,104.72 362.20,104.82 362.45,105.10 362.70,105.57 362.95,106.22 363.20,107.03 363.45,108.01 363.70,109.14 363.95,110.40 364.20,111.78 364.45,113.26 364.70,114.81 364.95,116.43 365.20,118.08 365.45,119.74 365.70,121.39 365.95,123.02 366.20,124.58 366.45,126.07 366.70,127.47 366.95,128.75 367.20,129.89 367.45,130.89 367.70,131.72 367.95,132.38 368.20,132.86 368.45,133.15 368.70,133.25 368.95,133.13 369.20,132.81 369.45,132.32 369.70,131.65 369.95,130.82 370.20,129.83 370.45,128.72 370.70,127.49 370.95,126.16 371.20,124.75 371.45,123.30 371.70,121.81 371.95,120.31 372.20,118.82 372.45,117.38 372.70,115.99 372.95,114.68 373.20,113.48 373.45,112.40 373.70,111.45 373.95,110.66 374.20,110.04 374.45,109.59 374.70,109.32 374.95,109.24 375.20,109.36 375.45,109.63 375.70,110.08 375.95,110.72 376.20,111.53 376.45,112.50 376.70,113.63 376.95,114.90 377.20,116.28 377.45,117.77 377.70,119.34 377.95,120.97 378.20,122.64 378.45,124.31 378.70,125.98 378.95,127.61 379.20,129.19 379.45,130.69 379.70,132.08 379.95,133.36 380.20,134.50 380.45,135.48 380.70,136.29 380.95,136.92 381.20,137.37 381.45,137.61 381.70,137.66 381.95,137.48 382.20,137.08 382.45,136.50 382.70,135.73 382.95,134.80 383.20,133.72 383.45,132.50 383.70,131.16 383.95,129.72 384.20,128.20 384.45,126.64 384.70,125.04 384.95,123.44 385.20,121.85 385.45,120.31 385.70,118.83 385.95,117.44 386.20,116.15 386.45,115.00 386.70,113.98 386.95,113.13 387.20,112.45 387.45,111.95 387.70,111.65 387.95,111.54 388.20,111.61 388.45,111.85 388.70,112.28 388.95,112.91 389.20,113.71 389.45,114.68 389.70,115.81 389.95,117.08 390.20,118.47 390.45,119.97 390.70,121.54 390.95,123.17 391.20,124.84 391.45,126.51 391.70,128.18 391.95,129.80 392.20,131.36 392.45,132.84 392.70,134.21 392.95,135.46 393.20,136.56 393.45,137.50 393.70,138.26 393.95,138.84 394.20,139.22 394.45,139.39 394.70,139.28 394.95,138.98 395.20,138.47 395.45,137.78 395.70,136.90 395.95,135.86 396.20,134.68 396.45,133.35 396.70,131.92 396.95,130.39 397.20,128.80 397.45,127.15 397.70,125.49 397.95,123.82 398.20,122.18 398.45,120.59 398.70,119.07 398.95,117.64 399.20,116.33 399.45,115.15 399.70,114.11 399.95,113.24 400.20,112.54 400.45,112.02 400.70,111.69 400.95,111.54 401.20,111.53 401.45,111.70 401.70,112.07 401.95,112.62 402.20,113.34 402.45,114.23 402.70,115.27 402.95,116.44 403.20,117.73 403.45,119.11 403.70,120.58 403.95,122.09 404.20,123.64 404.45,125.19 404.70,126.73 404.95,128.22 405.20,129.65 405.45,131.00 405.70,132.24 405.95,133.36 406.20,134.33 406.45,135.15 406.70,135.79 406.95,136.25 407.20,136.53 407.45,136.60 407.70,136.45 407.95,136.10 408.20,135.56 408.45,134.84 408.70,133.94 408.95,132.87 409.20,131.66 409.45,130.31 409.70,128.85 409.95,127.30 410.20,125.67 410.45,123.99 410.70,122.29 410.95,120.58 411.20,118.90 411.45,117.26 411.70,115.68 411.95,114.20 412.20,112.83 412.45,111.58 412.70,110.48 412.95,109.54 413.20,108.78 413.45,108.20 413.70,107.80 413.95,107.61 414.20,107.58 414.45,107.76 414.70,108.12 414.95,108.67 415.20,109.39 415.45,110.28 415.70,111.32 415.95,112.49 416.20,113.78 416.45,115.17 416.70,116.63 416.95,118.15 417.20,119.69 417.45,121.23 417.70,122.76 417.95,124.24 418.20,125.66 418.45,126.99 418.70,128.21 418.95,129.30 419.20,130.24 419.45,131.03 419.70,131.64 419.95,132.06 420.20,132.29 420.45,132.32 420.70,132.13 420.95,131.73 421.20,131.13 421.45,130.35 421.70,129.40 421.95,128.28 422.20,127.01 422.45,125.61 422.70,124.09 422.95,122.49 423.20,120.81 423.45,119.09 423.70,117.35 423.95,115.60 424.20,113.88 424.45,112.21 424.70,110.61 424.95,109.10 425.20,107.71 425.45,106.44 425.70,105.33 425.95,104.38 426.20,103.60 426.45,103.01 426.70,102.61 426.95,102.40 427.20,102.40 427.45,102.58 427.70,102.96 427.95,103.53 428.20,104.26 428.45,105.15 428.70,106.19 428.95,107.36 429.20,108.63 429.45,110.00 429.70,111.43 429.95,112.91 430.20,114.40 430.45,115.90 430.70,117.37 430.95,118.78 431.20,120.13 431.45,121.39 431.70,122.54 431.95,123.55 432.20,124.42 432.45,125.13 432.70,125.66 432.95,126.02 433.20,126.19 433.45,126.17 433.70,126.00 433.95,125.64 434.20,125.09 434.45,124.35 434.70,123.45 434.95,122.39 435.20,121.18 435.45,119.84 435.70,118.39 435.95,116.85 436.20,115.24 436.45,113.58 436.70,111.89 436.95,110.21 437.20,108.54 437.45,106.93 437.70,105.37 437.95,103.91 438.20,102.56 438.45,101.33 438.70,100.25 438.95,99.33 439.20,98.58 439.45,98.01 439.70,97.63 439.95,97.44 440.20,97.45 440.45,97.68 440.70,98.10 440.95,98.71 441.20,99.49 441.45,100.42 441.70,101.51 441.95,102.71 442.20,104.03 442.45,105.44 442.70,106.91 442.95,108.43 443.20,109.96 443.45,111.50 443.70,113.00 443.95,114.46 444.20,115.85 444.45,117.14 444.70,118.32 444.95,119.37 445.20,120.27 445.45,121.01 445.70,121.58 445.95,121.96 446.20,122.16 446.45,122.20 446.70,122.05 446.95,121.71 447.20,121.18 447.45,120.47 447.70,119.58 447.95,118.54 448.20,117.34 448.45,116.02 448.70,114.59 448.95,113.06 449.20,111.47 449.45,109.82 449.70,108.15 449.95,106.48 450.20,104.83 450.45,103.23 450.70,101.70 450.95,100.26 451.20,98.93 451.45,97.73 451.70,96.68 451.95,95.79 452.20,95.07 452.45,94.54 452.70,94.20 452.95,94.13 453.20,94.25 453.45,94.57 453.70,95.08 453.95,95.77 454.20,96.63 454.45,97.65 454.70,98.82 454.95,100.11 455.20,101.50 455.45,102.98 455.70,104.52 455.95,106.10 456.20,107.69 456.45,109.28 456.70,110.84 456.95,112.34 457.20,113.77 457.45,115.09 457.70,116.31 457.95,117.39 458.20,118.32 458.45,119.08 458.70,119.68 458.95,120.08 459.20,120.31 459.45,120.33 459.70,120.20 459.95,119.92 460.20,119.46 460.45,118.81 460.70,117.99 460.95,117.02 461.20,115.90 461.45,114.65 461.70,113.29 461.95,111.84 462.20,110.32 462.45,108.75 462.70,107.16 462.95,105.57 463.20,104.01 463.45,102.49 463.70,101.03 463.95,99.67 464.20,98.43 464.45,97.31 464.70,96.34 464.95,95.53 465.20,94.94 465.45,94.54 465.70,94.33 465.95,94.32 466.20,94.51 466.45,94.89 466.70,95.47 466.95,96.22 467.20,97.14 467.45,98.23 467.70,99.45 467.95,100.80 468.20,102.26 468.45,103.80 468.70,105.41 468.95,107.05 469.20,108.72 469.45,110.37 469.70,112.00 469.95,113.57 470.20,115.07 470.45,116.47 470.70,117.75 470.95,118.90 471.20,119.89 471.45,120.73 471.70,121.38 471.95,121.86 472.20,122.14 472.45,122.23 472.70,122.16 472.95,121.90 473.20,121.45 473.45,120.82 473.70,120.01 473.95,119.05 474.20,117.94 474.45,116.71 474.70,115.36 474.95,113.93 475.20,112.43 475.45,110.88 475.70,109.32 475.95,107.76 476.20,106.22 476.45,104.74 476.70,103.33 476.95,102.01 477.20,100.81 477.45,99.75 477.70,98.83 477.95,98.08 478.20,97.51 478.45,97.13 478.70,97.00 478.95,97.06 479.20,97.32 479.45,97.77 479.70,98.42 479.95,99.24 480.20,100.24 480.45,101.39 480.70,102.68 480.95,104.09 481.20,105.61 481.45,107.21 481.70,108.86 481.95,110.56 482.20,112.27 482.45,113.96 482.70,115.62 482.95,117.23 483.20,118.75 483.45,120.18 483.70,121.49 483.95,122.66 484.20,123.67 484.45,124.53 484.70,125.20 484.95,125.69 485.20,126.00 485.45,126.11 485.70,126.02 485.95,125.78 486.20,125.35 486.45,124.75 486.70,123.98 486.95,123.05 487.20,121.99 487.45,120.80 487.70,119.51 487.95,118.14 488.20,116.71 488.45,115.24 488.70,113.75 488.95,112.28 489.20,110.83 489.45,109.44 489.70,108.12 489.95,106.90 490.20,105.79 490.45,104.82 490.70,104.00 490.95,103.34 491.20,102.86 491.45,102.55 491.70,102.44 491.95,102.51 492.20,102.78 492.45,103.24 492.70,103.88 492.95,104.69 493.20,105.68 493.45,106.82 493.70,108.09 493.95,109.49 494.20,110.99 494.45,112.58 494.70,114.22 494.95,115.90 495.20,117.60 495.45,119.29 495.70,120.95 495.95,122.55 496.20,124.08 496.45,125.51 496.70,126.82 496.95,128.00 497.20,129.03 497.45,129.89 497.70,130.58 497.95,131.09 498.20,131.41 498.45,131.53 498.70,131.46 498.95,131.20 499.20,130.75 499.45,130.11 499.70,129.31 499.95,128.35 500.20,127.26 500.45,126.05 500.70,124.73 500.95,123.34 501.20,121.89 501.45,120.40 501.70,118.91 501.95,117.42 502.20,115.97 502.45,114.58 502.70,113.26 502.95,112.04 503.20,110.95 503.45,109.98 503.70,109.17 503.95,108.52 504.20,108.05 504.45,107.76 504.70,107.65 504.95,107.72 505.20,107.97 505.45,108.42 505.70,109.05 505.95,109.86 506.20,110.83 506.45,111.95 506.70,113.21 506.95,114.59 507.20,116.07 507.45,117.63 507.70,119.26 507.95,120.91 508.20,122.59 508.45,124.25 508.70,125.88 508.95,127.45 509.20,128.95 509.45,130.35 509.70,131.63 509.95,132.78 510.20,133.78 510.45,134.61 510.70,135.27 510.95,135.74 511.20,135.99 511.45,136.03 511.70,135.89 511.95,135.55 512.20,135.04 512.45,134.35 512.70,133.49 512.95,132.49 513.20,131.36 513.45,130.11 513.70,128.77 513.95,127.36 514.20,125.89 514.45,124.39 514.70,122.88 514.95,121.39 515.20,119.94 515.45,118.55 515.70,117.24 515.95,116.03 516.20,114.94 516.45,113.99 516.70,113.19 516.95,112.55 517.20,112.08 517.45,111.79 517.70,111.64 517.95,111.66 518.20,111.87 518.45,112.26 518.70,112.83 518.95,113.57 519.20,114.48 519.45,115.53 519.70,116.72 519.95,118.02 520.20,119.43 520.45,120.91 520.70,122.45 520.95,124.03 521.20,125.62 521.45,127.20 521.70,128.75 521.95,130.25 522.20,131.67 522.45,132.99 522.70,134.20 522.95,135.27 523.20,136.20 523.45,136.96 523.70,137.55 523.95,137.96 524.20,138.18 524.45,138.20 524.70,137.99 524.95,137.60 525.20,137.02 525.45,136.27 525.70,135.37 525.95,134.31 526.20,133.12 526.45,131.82 526.70,130.43 526.95,128.96 527.20,127.44 527.45,125.89 527.70,124.33 527.95,122.79 528.20,121.29 528.45,119.84 528.70,118.48 528.95,117.23 529.20,116.09 529.45,115.08 529.70,114.23 529.95,113.54 530.20,113.03 530.45,112.69 530.70,112.54 530.95,112.58 531.20,112.80 531.45,113.20 531.70,113.78 531.95,114.53 532.20,115.43 532.45,116.48 532.70,117.66 532.95,118.94 533.20,120.32 533.45,121.77 533.70,123.27 533.95,124.79 534.20,126.33 534.45,127.84 534.70,129.32 534.95,130.74 535.20,132.07 535.45,133.31 535.70,134.43 535.95,135.42 536.20,136.26 536.45,136.93 536.70,137.44 536.95,137.77 537.20,137.93 537.45,137.90 537.70,137.69" fill="none" stroke="#3434f0" stroke-width="1.3" stroke-linejoin="round"/>
<polyline points="323.45,128.45 323.70,122.62 323.95,116.70 324.20,110.77 324.45,104.93 324.70,99.26 324.95,93.83 325.20,88.74 325.45,84.06 325.70,79.85 325.95,76.18 326.20,73.10 326.45,70.66 326.70,68.88 326.95,67.81 327.20,67.45 327.45,67.81 327.70,68.88 327.95,70.66 328.20,73.10 328.45,76.18 328.70,79.85 328.95,84.06 329.20,88.74 329.45,93.83 329.70,99.26 329.95,104.93 330.20,110.77 330.45,116.70 330.70,122.62 330.95,128.45 331.20,134.10 331.45,139.49 331.70,144.54 331.95,149.18 332.20,153.34 332.45,156.96 332.70,159.97 332.95,162.35 333.20,164.06 333.45,165.06 333.70,165.35 333.95,164.91 334.20,163.77 334.45,161.93 334.70,159.42 334.95,156.28 335.20,152.55 335.45,148.29 335.70,143.56 335.95,138.44 336.20,132.99 336.45,127.29 336.70,121.44 336.95,115.51 337.20,109.59 337.45,103.78 337.70,98.15 337.95,92.79 338.20,87.77 338.45,83.18 338.70,79.07 338.95,75.51 339.20,72.56 339.45,70.25 339.70,68.61 339.95,67.68 340.20,67.46 340.45,67.97 340.70,69.18 340.95,71.09 341.20,73.67 341.45,76.87 341.70,80.65 341.95,84.96 342.20,89.73 342.45,94.89 342.70,100.37 342.95,106.09 343.20,111.95 343.45,117.88 343.70,123.79 343.95,129.59 344.20,135.20 344.45,140.53 344.70,145.51 344.95,150.06 345.20,154.11 345.45,157.61 345.70,160.50 345.95,162.75 346.20,164.31 346.45,165.17 346.70,165.32 346.95,164.74 347.20,163.46 347.45,161.48 347.70,158.84 347.95,155.58 348.20,151.74 348.45,147.38 348.70,142.57 348.95,137.37 349.20,131.86 349.45,126.13 349.70,120.26 349.95,114.32 350.20,108.42 350.45,102.64 350.70,97.05 350.95,91.75 351.20,86.82 351.45,82.32 351.70,78.32 351.95,74.87 352.20,72.04 352.45,69.86 352.70,68.37 352.95,67.58 353.20,67.51 353.45,68.15 353.70,69.51 353.95,71.55 354.20,74.26 354.45,77.58 354.70,81.47 354.95,85.88 355.20,90.74 355.45,95.97 355.70,101.50 355.95,107.25 356.20,113.14 356.45,119.07 356.70,124.97 356.95,130.73 357.20,136.29 357.45,141.56 357.70,146.45 357.95,150.91 358.20,154.86 358.45,158.24 358.70,161.00 358.95,163.12 359.20,164.54 359.45,165.26 359.70,165.26 359.95,164.54 360.20,163.12 360.45,161.00 360.70,158.24 360.95,154.86 361.20,150.91 361.45,146.45 361.70,141.56 361.95,136.29 362.20,130.73 362.45,124.97 362.70,119.07 362.95,113.14 363.20,107.25 363.45,101.50 363.70,95.97 363.95,90.74 364.20,85.88 364.45,81.47 364.70,77.58 364.95,74.26 365.20,71.55 365.45,69.51 365.70,68.15 365.95,67.51 366.20,67.58 366.45,68.37 366.70,69.86 366.95,72.04 367.20,74.87 367.45,78.32 367.70,82.32 367.95,86.82 368.20,91.75 368.45,97.05 368.70,102.64 368.95,108.42 369.20,114.32 369.45,120.26 369.70,126.13 369.95,131.86 370.20,137.37 370.45,142.57 370.70,147.38 370.95,151.74 371.20,155.58 371.45,158.84 371.70,161.48 371.95,163.46 372.20,164.74 372.45,165.32 372.70,165.17 372.95,164.31 373.20,162.75 373.45,160.50 373.70,157.61 373.95,154.11 374.20,150.06 374.45,145.51 374.70,140.53 374.95,135.20 375.20,129.59 375.45,123.79 375.70,117.88 375.95,111.95 376.20,106.09 376.45,100.37 376.70,94.89 376.95,89.73 377.20,84.96 377.45,80.65 377.70,76.87 377.95,73.67 378.20,71.09 378.45,69.18 378.70,67.97 378.95,67.46 379.20,67.68 379.45,68.61 379.70,70.25 379.95,72.56 380.20,75.51 380.45,79.07 380.70,83.18 380.95,87.77 381.20,92.79 381.45,98.15 381.70,103.78 381.95,109.59 382.20,115.51 382.45,121.44 382.70,127.29 382.95,132.99 383.20,138.44 383.45,143.56 383.70,148.29 383.95,152.55 384.20,156.28 384.45,159.42 384.70,161.93 384.95,163.77 385.20,164.91 385.45,165.35 385.70,165.06 385.95,164.06 386.20,162.35 386.45,159.97 386.70,156.96 386.95,153.34 387.20,149.18 387.45,144.54 387.70,139.49 387.95,134.10 388.20,128.45 388.45,122.62 388.70,116.70 388.95,110.77 389.20,104.93 389.45,99.26 389.70,93.83 389.95,88.74 390.20,84.06 390.45,79.85 390.70,76.18 390.95,73.10 391.20,70.66 391.45,68.88 391.70,67.81 391.95,67.45 392.20,67.81 392.45,68.88 392.70,70.66 392.95,73.10 393.20,76.18 393.45,79.85 393.70,84.06 393.95,88.74 394.20,93.83 394.45,99.26 394.70,104.93 394.95,110.77 395.20,116.70 395.45,122.62 395.70,128.45 395.95,134.10 396.20,139.49 396.45,144.54 396.70,149.18 396.95,153.34 397.20,156.96 397.45,159.97 397.70,162.35 397.95,164.06 398.20,165.06 398.45,165.35 398.70,164.91 398.95,163.77 399.20,161.93 399.45,159.42 399.70,156.28 399.95,152.55 400.20,148.29 400.45,143.56 400.70,138.44 400.95,132.99 401.20,127.29 401.45,121.44 401.70,115.51 401.95,109.59 402.20,103.78 402.45,98.15 402.70,92.79 402.95,87.77 403.20,83.18 403.45,79.07 403.70,75.51 403.95,72.56 404.20,70.25 404.45,68.61 404.70,67.68 404.95,67.46 405.20,67.97 405.45,69.18 405.70,71.09 405.95,73.67 406.20,76.87 406.45,80.65 406.70,84.96 406.95,89.73 407.20,94.89 407.45,100.37 407.70,106.09 407.95,111.95 408.20,117.88 408.45,123.79 408.70,129.59 408.95,135.20 409.20,140.53 409.45,145.51 409.70,150.06 409.95,154.11 410.20,157.61 410.45,160.50 410.70,162.75 410.95,164.31 411.20,165.17 411.45,165.32 411.70,164.74 411.95,163.46 412.20,161.48 412.45,158.84 412.70,155.58 412.95,151.74 413.20,147.38 413.45,142.57 413.70,137.37 413.95,131.86 414.20,126.13 414.45,120.26 414.70,114.32 414.95,108.42 415.20,102.64 415.45,97.05 415.70,91.75 415.95,86.82 416.20,82.32 416.45,78.32 416.70,74.87 416.95,72.04 417.20,69.86 417.45,68.37 417.70,67.58 417.95,67.51 418.20,68.15 418.45,69.51 418.70,71.55 418.95,74.26 419.20,77.58 419.45,81.47 419.70,85.88 419.95,90.74 420.20,95.97 420.45,101.50 420.70,107.25 420.95,113.14 421.20,119.07 421.45,124.97 421.70,130.73 421.95,136.29 422.20,141.56 422.45,146.45 422.70,150.91 422.95,154.86 423.20,158.24 423.45,161.00 423.70,163.12 423.95,164.54 424.20,165.26 424.45,165.26 424.70,164.54 424.95,163.12 425.20,161.00 425.45,158.24 425.70,154.86 425.95,150.91 426.20,146.45 426.45,141.56 426.70,136.29 426.95,130.73 427.20,124.97 427.45,119.07 427.70,113.14 427.95,107.25 428.20,101.50 428.45,95.97 428.70,90.74 428.95,85.88 429.20,81.47 429.45,77.58 429.70,74.26 429.95,71.55 430.20,69.51 430.45,68.15 430.70,67.51 430.95,67.58 431.20,68.37 431.45,69.86 431.70,72.04 431.95,74.87 432.20,78.32 432.45,82.32 432.70,86.82 432.95,91.75 433.20,97.05 433.45,102.64 433.70,108.42 433.95,114.32 434.20,120.26 434.45,126.13 434.70,131.86 434.95,137.37 435.20,142.57 435.45,147.38 435.70,151.74 435.95,155.58 436.20,158.84 436.45,161.48 436.70,163.46 436.95,164.74 437.20,165.32 437.45,165.17 437.70,164.31 437.95,162.75 438.20,160.50 438.45,157.61 438.70,154.11 438.95,150.06 439.20,145.51 439.45,140.53 439.70,135.20 439.95,129.59 440.20,123.79 440.45,117.88 440.70,111.95 440.95,106.09 441.20,100.37 441.45,94.89 441.70,89.73 441.95,84.96 442.20,80.65 442.45,76.87 442.70,73.67 442.95,71.09 443.20,69.18 443.45,67.97 443.70,67.46 443.95,67.68 444.20,68.61 444.45,70.25 444.70,72.56 444.95,75.51 445.20,79.07 445.45,83.18 445.70,87.77 445.95,92.79 446.20,98.15 446.45,103.78 446.70,109.59 446.95,115.51 447.20,121.44 447.45,127.29 447.70,132.99 447.95,138.44 448.20,143.56 448.45,148.29 448.70,152.55 448.95,156.28 449.20,159.42 449.45,161.93 449.70,163.77 449.95,164.91 450.20,165.35 450.45,165.06 450.70,164.06 450.95,162.35 451.20,159.97 451.45,156.96 451.70,153.34 451.95,149.18 452.20,144.54 452.45,139.49 452.70,134.10 452.95,128.45 453.20,122.62 453.45,116.70 453.70,110.77 453.95,104.93 454.20,99.26 454.45,93.83 454.70,88.74 454.95,84.06 455.20,79.85 455.45,76.18 455.70,73.10 455.95,70.66 456.20,68.88 456.45,67.81 456.70,67.45 456.95,67.81 457.20,68.88 457.45,70.66 457.70,73.10 457.95,76.18 458.20,79.85 458.45,84.06 458.70,88.74 458.95,93.83 459.20,99.26 459.45,104.93 459.70,110.77 459.95,116.70 460.20,122.62 460.45,128.45 460.70,134.10 460.95,139.49 461.20,144.54 461.45,149.18 461.70,153.34 461.95,156.96 462.20,159.97 462.45,162.35 462.70,164.06 462.95,165.06 463.20,165.35 463.45,164.91 463.70,163.77 463.95,161.93 464.20,159.42 464.45,156.28 464.70,152.55 464.95,148.29 465.20,143.56 465.45,138.44 465.70,132.99 465.95,127.29 466.20,121.44 466.45,115.51 466.70,109.59 466.95,103.78 467.20,98.15 467.45,92.79 467.70,87.77 467.95,83.18 468.20,79.07 468.45,75.51 468.70,72.56 468.95,70.25 469.20,68.61 469.45,67.68 469.70,67.46 469.95,67.97 470.20,69.18 470.45,71.09 470.70,73.67 470.95,76.87 471.20,80.65 471.45,84.96 471.70,89.73 471.95,94.89 472.20,100.37 472.45,106.09 472.70,111.95 472.95,117.88 473.20,123.79 473.45,129.59 473.70,135.20 473.95,140.53 474.20,145.51 474.45,150.06 474.70,154.11 474.95,157.61 475.20,160.50 475.45,162.75 475.70,164.31 475.95,165.17 476.20,165.32 476.45,164.74 476.70,163.46 476.95,161.48 477.20,158.84 477.45,155.58 477.70,151.74 477.95,147.38 478.20,142.57 478.45,137.37 478.70,131.86 478.95,126.13 479.20,120.26 479.45,114.32 479.70,108.42 479.95,102.64 480.20,97.05 480.45,91.75 480.70,86.82 480.95,82.32 481.20,78.32 481.45,74.87 481.70,72.04 481.95,69.86 482.20,68.37 482.45,67.58 482.70,67.51 482.95,68.15 483.20,69.51 483.45,71.55 483.70,74.26 483.95,77.58 484.20,81.47 484.45,85.88 484.70,90.74 484.95,95.97 485.20,101.50 485.45,107.25 485.70,113.14 485.95,119.07 486.20,124.97 486.45,130.73 486.70,136.29 486.95,141.56 487.20,146.45 487.45,150.91 487.70,154.86 487.95,158.24 488.20,161.00 488.45,163.12 488.70,164.54 488.95,165.26 489.20,165.26 489.45,164.54 489.70,163.12 489.95,161.00 490.20,158.24 490.45,154.86 490.70,150.91 490.95,146.45 491.20,141.56 491.45,136.29 491.70,130.73 491.95,124.97 492.20,119.07 492.45,113.14 492.70,107.25 492.95,101.50 493.20,95.97 493.45,90.74 493.70,85.88 493.95,81.47 494.20,77.58 494.45,74.26 494.70,71.55 494.95,69.51 495.20,68.15 495.45,67.51 495.70,67.58 495.95,68.37 496.20,69.86 496.45,72.04 496.70,74.87 496.95,78.32 497.20,82.32 497.45,86.82 497.70,91.75 497.95,97.05 498.20,102.64 498.45,108.42 498.70,114.32 498.95,120.26 499.20,126.13 499.45,131.86 499.70,137.37 499.95,142.57 500.20,147.38 500.45,151.74 500.70,155.58 500.95,158.84 501.20,161.48 501.45,163.46 501.70,164.74 501.95,165.32 502.20,165.17 502.45,164.31 502.70,162.75 502.95,160.50 503.20,157.61 503.45,154.11 503.70,150.06 503.95,145.51 504.20,140.53 504.45,135.20 504.70,129.59 504.95,123.79 505.20,117.88 505.45,111.95 505.70,106.09 505.95,100.37 506.20,94.89 506.45,89.73 506.70,84.96 506.95,80.65 507.20,76.87 507.45,73.67 507.70,71.09 507.95,69.18 508.20,67.97 508.45,67.46 508.70,67.68 508.95,68.61 509.20,70.25 509.45,72.56 509.70,75.51 509.95,79.07 510.20,83.18 510.45,87.77 510.70,92.79 510.95,98.15 511.20,103.78 511.45,109.59 511.70,115.51 511.95,121.44 512.20,127.29 512.45,132.99 512.70,138.44 512.95,143.56 513.20,148.29 513.45,152.55 513.70,156.28 513.95,159.42 514.20,161.93 514.45,163.77 514.70,164.91 514.95,165.35 515.20,165.06 515.45,164.06 515.70,162.35 515.95,159.97 516.20,156.96 516.45,153.34 516.70,149.18 516.95,144.54 517.20,139.49 517.45,134.10 517.70,128.45 517.95,122.62 518.20,116.70 518.45,110.77 518.70,104.93 518.95,99.26 519.20,93.83 519.45,88.74 519.70,84.06 519.95,79.85 520.20,76.18 520.45,73.10 520.70,70.66 520.95,68.88 521.20,67.81 521.45,67.45 521.70,67.81 521.95,68.88 522.20,70.66 522.45,73.10 522.70,76.18 522.95,79.85 523.20,84.06 523.45,88.74 523.70,93.83 523.95,99.26 524.20,104.93 524.45,110.77 524.70,116.70 524.95,122.62 525.20,128.45 525.45,134.10 525.70,139.49 525.95,144.54 526.20,149.18 526.45,153.34 526.70,156.96 526.95,159.97 527.20,162.35 527.45,164.06 527.70,165.06 527.95,165.35 528.20,164.91 528.45,163.77 528.70,161.93 528.95,159.42 529.20,156.28 529.45,152.55 529.70,148.29 529.95,143.56 530.20,138.44 530.45,132.99 530.70,127.29 530.95,121.44 531.20,115.51 531.45,109.59 531.70,103.78 531.95,98.15 532.20,92.79 532.45,87.77 532.70,83.18 532.95,79.07 533.20,75.51 533.45,72.56 533.70,70.25 533.95,68.61 534.20,67.68 534.45,67.46 534.70,67.97 534.95,69.18 535.20,71.09 535.45,73.67 535.70,76.87 535.95,80.65 536.20,84.96 536.45,89.73 536.70,94.89 536.95,100.37 537.20,106.09 537.45,111.95 537.70,117.88" fill="none" stroke="#e41e1e" stroke-width="1.3" stroke-linejoin="round"/>
<path d="M335.6,7.0h14.2" stroke="#707070" stroke-width="1.5"/>
<text x="351.3" y="9.3" class="lg" textLength="50.6" lengthAdjust="spacingAndGlyphs">drag cofficient</text>
<path d="M410.0,7.0h14.2" stroke="#6464ff" stroke-width="1.5"/>
<text x="426.1" y="9.3" class="lg" textLength="43.6" lengthAdjust="spacingAndGlyphs">lift cofficient</text>
<path d="M478.4,7.0h14.2" stroke="#f03434" stroke-width="1.5"/>
<text x="496.7" y="9.3" class="lg" textLength="41.4" lengthAdjust="spacingAndGlyphs">attack angle</text>
<text transform="translate(306.6,0) rotate(-90)" x="-166.30" y="0" class="yt it" style="font-size:12.80px" textLength="31.40" lengthAdjust="spacingAndGlyphs">Alpha</text>
<text transform="translate(306.6,0) rotate(-90)" x="-135.30" y="0" class="yt upd" style="font-size:13.00px" textLength="28.40" lengthAdjust="spacingAndGlyphs">(deg)</text>
<text transform="translate(306.6,0) rotate(-90)" x="-105.30" y="0" class="yt it" style="font-size:12.00px" textLength="37.60" lengthAdjust="spacingAndGlyphs">, Cl, Cd</text>
<text x="413.8" y="232.3" class="yt"><tspan class="it xt">Time</tspan><tspan class="up" dx="2" dy="0.8">(s)</tspan></text>
<text transform="translate(393.9,257.4) scale(1.12,1)" class="cap">(<tspan font-weight="bold">b</tspan>) Case2</text>
<path d="M32.70,292.20 V493.80 H253.70" fill="none" stroke="#1a1a1a" stroke-width="1.35"/>
<path d="M32.70,493.80h5 M32.70,443.40h5 M32.70,393.00h5 M32.70,342.60h5 M32.70,292.20h5 M32.70,493.80v-5 M100.67,493.80v-5 M168.63,493.80v-5 M236.60,493.80v-5" fill="none" stroke="#1a1a1a" stroke-width="1"/>
<path d="M32.70,483.72h2.8 M32.70,473.64h2.8 M32.70,463.56h2.8 M32.70,453.48h2.8 M32.70,433.32h2.8 M32.70,423.24h2.8 M32.70,413.16h2.8 M32.70,403.08h2.8 M32.70,382.92h2.8 M32.70,372.84h2.8 M32.70,362.76h2.8 M32.70,352.68h2.8 M32.70,332.52h2.8 M32.70,322.44h2.8 M32.70,312.36h2.8 M32.70,302.28h2.8 M49.69,493.80v-2.5 M66.68,493.80v-2.5 M83.68,493.80v-2.5 M117.66,493.80v-2.5 M134.65,493.80v-2.5 M151.64,493.80v-2.5 M185.62,493.80v-2.5 M202.62,493.80v-2.5 M219.61,493.80v-2.5 M253.59,493.80v-2.5" fill="none" stroke="#8a8a8a" stroke-width="0.9"/>
<text x="30.20" y="295.60" text-anchor="end" class="tl">20</text>
<text x="30.20" y="346.00" text-anchor="end" class="tl">10</text>
<text x="30.20" y="396.40" text-anchor="end" class="tl">0</text>
<text x="30.20" y="446.80" text-anchor="end" class="tl">-10</text>
<text x="30.20" y="497.20" text-anchor="end" class="tl">-20</text>
<text x="32.70" y="503.30" text-anchor="middle" class="tl">0</text>
<text x="100.67" y="503.30" text-anchor="middle" class="tl">0.2</text>
<text x="168.63" y="503.30" text-anchor="middle" class="tl">0.4</text>
<text x="236.60" y="503.30" text-anchor="middle" class="tl">0.6</text>
<polyline points="32.70,339.31 32.95,339.97 33.20,340.30 33.45,340.27 33.70,339.89 33.95,339.18 34.20,338.17 34.45,336.92 34.70,335.48 34.95,333.93 35.20,332.35 35.45,330.81 35.70,329.40 35.95,328.18 36.20,327.22 36.45,326.57 36.70,326.25 36.95,326.28 37.20,326.67 37.45,327.39 37.70,328.41 37.95,329.67 38.20,331.11 38.45,332.66 38.70,334.25 38.95,335.78 39.20,337.19 39.45,338.40 39.70,339.35 39.95,340.00 40.20,340.31 40.45,340.26 40.70,339.87 40.95,339.14 41.20,338.11 41.45,336.85 41.70,335.40 41.95,333.85 42.20,332.27 42.45,330.73 42.70,329.33 42.95,328.13 43.20,327.18 43.45,326.54 43.70,326.24 43.95,326.30 44.20,326.70 44.45,327.44 44.70,328.47 44.95,329.74 45.20,331.19 45.45,332.75 45.70,334.33 45.95,335.86 46.20,337.26 46.45,338.45 46.70,339.39 46.95,340.02 47.20,340.31 47.45,340.25 47.70,339.84 47.95,339.09 48.20,338.05 48.45,336.78 48.70,335.32 48.95,333.77 49.20,332.18 49.45,330.66 49.70,329.26 49.95,328.07 50.20,327.14 50.45,326.52 50.70,326.24 50.95,326.31 51.20,326.73 51.45,327.48 51.70,328.53 51.95,329.81 52.20,331.27 52.45,332.83 52.70,334.41 52.95,335.93 53.20,337.32 53.45,338.51 53.70,339.43 53.95,340.05 54.20,340.32 54.45,340.24 54.70,339.81 54.95,339.04 55.20,337.99 55.45,336.70 55.70,335.24 55.95,333.68 56.20,332.10 56.45,330.58 56.70,329.20 56.95,328.01 57.20,327.10 57.45,326.49 57.70,326.23 57.95,326.32 58.20,326.76 58.45,327.53 58.70,328.59 58.95,329.88 59.20,331.35 59.45,332.91 59.70,334.49 59.95,336.01 60.20,337.39 60.45,338.56 60.70,339.47 60.95,340.07 61.20,340.32 61.45,340.22 61.70,339.77 61.95,339.00 62.20,337.93 62.45,336.63 62.70,335.16 62.95,333.60 63.20,332.02 63.45,330.51 63.70,329.13 63.95,327.96 64.20,327.06 64.45,326.47 64.70,326.23 64.95,326.34 65.20,326.79 65.45,327.58 65.70,328.65 65.95,329.96 66.20,331.43 66.45,332.99 66.70,334.57 66.95,336.08 67.20,337.46 67.45,338.62 67.70,339.51 67.95,340.09 68.20,340.33 68.45,340.21 68.70,339.74 68.95,338.95 69.20,337.87 69.45,336.56 69.70,335.08 69.95,333.52 70.20,331.94 70.45,330.43 70.70,329.06 70.95,327.91 71.20,327.02 71.45,326.45 71.70,326.22 71.95,326.35 72.20,326.83 72.45,327.63 72.70,328.71 72.95,330.03 73.20,331.51 73.45,333.07 73.70,334.65 73.95,336.16 74.20,337.52 74.45,338.67 74.70,339.55 74.95,340.11 75.20,340.33 75.45,340.19 75.70,339.71 75.95,338.90 76.20,337.81 76.45,336.49 76.70,335.00 76.95,333.44 77.20,331.86 77.45,330.35 77.70,329.00 77.95,327.85 78.20,326.98 78.45,326.43 78.70,326.22 78.95,326.37 79.20,326.86 79.45,327.68 79.70,328.78 79.95,330.10 80.20,331.59 80.45,333.16 80.70,334.73 80.95,336.24 81.20,337.59 81.45,338.73 81.70,339.59 81.95,340.13 82.20,340.33 82.45,340.18 82.70,339.67 82.95,338.85 83.20,337.74 83.45,336.41 83.70,334.92 83.95,333.35 84.20,331.78 84.45,330.28 84.70,328.93 84.95,327.80 85.20,326.95 85.45,326.41 85.70,326.22 85.95,326.39 86.20,326.90 86.45,327.73 86.70,328.84 86.95,330.18 87.20,331.67 87.45,333.24 87.70,334.81 87.95,336.31 88.20,337.65 88.45,338.78 88.70,339.62 88.95,340.15 89.20,340.33 89.45,340.16 89.70,339.64 89.95,338.80 90.20,337.68 90.45,336.34 90.70,334.84 90.95,333.27 91.20,331.70 91.45,330.20 91.70,328.87 91.95,327.75 92.20,326.91 92.45,326.39 92.70,326.22 92.95,326.40 93.20,326.93 93.45,327.78 93.70,328.91 93.95,330.25 94.20,331.75 94.45,333.32 94.70,334.89 94.95,336.38 95.20,337.72 95.45,338.83 95.70,339.66 95.95,340.17 96.20,340.33 96.45,340.14 96.70,339.60 96.95,338.75 97.20,337.61 97.45,336.26 97.70,334.76 97.95,333.19 98.20,331.62 98.45,330.13 98.70,328.80 98.95,327.70 99.20,326.88 99.45,326.37 99.70,326.22 99.95,326.42 100.20,326.97 100.45,327.83 100.70,328.97 100.95,330.33 101.20,331.83 101.45,333.40 101.70,334.97 101.95,336.46 102.20,337.78 102.45,338.88 102.70,339.69 102.95,340.19 103.20,340.33 103.45,340.12 103.70,339.56 103.95,338.69 104.20,337.55 104.45,336.19 104.70,334.68 104.95,333.11 105.20,331.54 105.45,330.06 105.70,328.74 105.95,327.65 106.20,326.84 106.45,326.36 106.70,326.22 106.95,326.44 107.20,327.01 107.45,327.89 107.70,329.04 107.95,330.40 108.20,331.91 108.45,333.49 108.70,335.05 108.95,336.53 109.20,337.85 109.45,338.93 109.70,339.73 109.95,340.20 110.20,340.33 110.45,340.10 110.70,339.53 110.95,338.64 111.20,337.48 111.45,336.11 111.70,334.60 111.95,333.02 112.20,331.46 112.45,329.98 112.70,328.68 112.95,327.60 113.20,326.81 113.45,326.34 113.70,326.23 113.95,326.46 114.20,327.04 114.45,327.94 114.70,329.10 114.95,330.48 115.20,331.99 115.45,333.57 115.70,335.13 115.95,336.60 116.20,337.91 116.45,338.98 116.70,339.76 116.95,340.22 117.20,340.33 117.45,340.08 117.70,339.49 117.95,338.59 118.20,337.42 118.45,336.04 118.70,334.52 118.95,332.94 119.20,331.38 119.45,329.91 119.70,328.61 119.95,327.55 120.20,326.78 120.45,326.33 120.70,326.23 120.95,326.49 121.20,327.08 121.45,327.99 121.70,329.17 121.95,330.55 122.20,332.07 122.45,333.65 122.70,335.21 122.95,336.68 123.20,337.97 123.45,339.03 123.70,339.79 123.95,340.23 124.20,340.32 124.45,340.06 124.70,339.45 124.95,338.53 125.20,337.35 125.45,335.96 125.70,334.44 125.95,332.86 126.20,331.30 126.45,329.84 126.70,328.55 126.95,327.50 127.20,326.74 127.45,326.31 127.70,326.23 127.95,326.51 128.20,327.12 128.45,328.05 128.70,329.24 128.95,330.63 129.20,332.15 129.45,333.73 129.70,335.29 129.95,336.75 130.20,338.03 130.45,339.07 130.70,339.82 130.95,340.25 131.20,340.32 131.45,340.03 131.70,339.41 131.95,338.48 132.20,337.28 132.45,335.89 132.70,334.36 132.95,332.78 133.20,331.22 133.45,329.77 133.70,328.49 133.95,327.46 134.20,326.71 134.45,326.30 134.70,326.24 134.95,326.53 135.20,327.16 135.45,328.10 135.70,329.30 135.95,330.70 136.20,332.23 136.45,333.82 136.70,335.37 136.95,336.82 137.20,338.09 137.45,339.12 137.70,339.85 137.95,340.26 138.20,340.31 138.45,340.01 138.70,339.37 138.95,338.42 139.20,337.21 139.45,335.81 139.70,334.28 139.95,332.69 140.20,331.14 140.45,329.70 140.70,328.43 140.95,327.41 141.20,326.68 141.45,326.29 141.70,326.25 141.95,326.56 142.20,327.21 142.45,328.16 142.70,329.37 142.95,330.78 143.20,332.32 143.45,333.90 143.70,335.45 143.95,336.89 144.20,338.15 144.45,339.17 144.70,339.88 144.95,340.27 145.20,340.30 145.45,339.98 145.70,339.32 145.95,338.36 146.20,337.14 146.45,335.73 146.70,334.20 146.95,332.61 147.20,331.06 147.45,329.63 147.70,328.37 147.95,327.36 148.20,326.65 148.45,326.28 148.70,326.25 148.95,326.58 149.20,327.25 149.45,328.22 149.70,329.44 149.95,330.86 150.20,332.40 150.45,333.98 150.70,335.53 150.95,336.96 151.20,338.21 151.45,339.21 151.70,339.91 151.95,340.28 152.20,340.29 152.45,339.96 152.70,339.28 152.95,338.31 153.20,337.08 153.45,335.65 153.70,334.11 153.95,332.53 154.20,330.98 154.45,329.55 154.70,328.31 154.95,327.32 155.20,326.63 155.45,326.27 155.70,326.26 155.95,326.61 156.20,327.29 156.45,328.28 156.70,329.51 156.95,330.94 157.20,332.48 157.45,334.06 157.70,335.61 157.95,337.03 158.20,338.27 158.45,339.26 158.70,339.94 158.95,340.29 159.20,340.29 159.45,339.93 159.70,339.24 159.95,338.25 160.20,337.01 160.45,335.58 160.70,334.03 160.95,332.45 161.20,330.91 161.45,329.48 161.70,328.25 161.95,327.28 162.20,326.60 162.45,326.26 162.70,326.27 162.95,326.64 163.20,327.34 163.45,328.33 163.70,329.58 163.95,331.01 164.20,332.56 164.45,334.14 164.70,335.68 164.95,337.10 165.20,338.33 165.45,339.30 165.70,339.97 165.95,340.30 166.20,340.28 166.45,339.90 166.70,339.19 166.95,338.19 167.20,336.94 167.45,335.50 167.70,333.95 167.95,332.37 168.20,330.83 168.45,329.42 168.70,328.20 168.95,327.23 169.20,326.57 169.45,326.25 169.70,326.28 169.95,326.66 170.20,327.38 170.45,328.39 170.70,329.65 170.95,331.09 171.20,332.64 171.45,334.23 171.70,335.76 171.95,337.17 172.20,338.38 172.45,339.34 172.70,339.99 172.95,340.31 173.20,340.26 173.45,339.87 173.70,339.15 173.95,338.13 174.20,336.86 174.45,335.42 174.70,333.87 174.95,332.28 175.20,330.75 175.45,329.35 175.70,328.14 175.95,327.19 176.20,326.55 176.45,326.24 176.70,326.29 176.95,326.69 177.20,327.43 177.45,328.45 177.70,329.72 177.95,331.17 178.20,332.73 178.45,334.31 178.70,335.84 178.95,337.24 179.20,338.44 179.45,339.38 179.70,340.02 179.95,340.31 180.20,340.25 180.45,339.84 180.70,339.10 180.95,338.07 181.20,336.79 181.45,335.34 181.70,333.78 181.95,332.20 182.20,330.68 182.45,329.28 182.70,328.08 182.95,327.15 183.20,326.52 183.45,326.24 183.70,326.31 183.95,326.72 184.20,327.47 184.45,328.51 184.70,329.79 184.95,331.25 185.20,332.81 185.45,334.39 185.70,335.91 185.95,337.31 186.20,338.50 186.45,339.42 186.70,340.04 186.95,340.32 187.20,340.24 187.45,339.81 187.70,339.06 187.95,338.01 188.20,336.72 188.45,335.26 188.70,333.70 188.95,332.12 189.20,330.60 189.45,329.21 189.70,328.03 189.95,327.11 190.20,326.50 190.45,326.23 190.70,326.32 190.95,326.76 191.20,327.52 191.45,328.58 191.70,329.87 191.95,331.33 192.20,332.89 192.45,334.47 192.70,335.99 192.95,337.37 193.20,338.55 193.45,339.46 193.70,340.06 193.95,340.32 194.20,340.23 194.45,339.78 194.70,339.01 194.95,337.95 195.20,336.65 195.45,335.18 195.70,333.62 195.95,332.04 196.20,330.52 196.45,329.14 196.70,327.97 196.95,327.07 197.20,326.48 197.45,326.23 197.70,326.33 197.95,326.79 198.20,327.57 198.45,328.64 198.70,329.94 198.95,331.41 199.20,332.97 199.45,334.55 199.70,336.07 199.95,337.44 200.20,338.61 200.45,339.50 200.70,340.09 200.95,340.33 201.20,340.21 201.45,339.75 201.70,338.96 201.95,337.88 202.20,336.58 202.45,335.10 202.70,333.54 202.95,331.96 203.20,330.45 203.45,329.08 203.70,327.92 203.95,327.03 204.20,326.46 204.45,326.22 204.70,326.35 204.95,326.82 205.20,327.62 205.45,328.70 205.70,330.01 205.95,331.49 206.20,333.06 206.45,334.63 206.70,336.14 206.95,337.51 207.20,338.66 207.45,339.54 207.70,340.11 207.95,340.33 208.20,340.20 208.45,339.71 208.70,338.91 208.95,337.82 209.20,336.50 209.45,335.02 209.70,333.46 209.95,331.88 210.20,330.37 210.45,329.01 210.70,327.87 210.95,326.99 211.20,326.43 211.45,326.22 211.70,326.36 211.95,326.85 212.20,327.67 212.45,328.76 212.70,330.09 212.95,331.57 213.20,333.14 213.45,334.71 213.70,336.22 213.95,337.57 214.20,338.71 214.45,339.58 214.70,340.13 214.95,340.33 215.20,340.18 215.45,339.68 215.70,338.86 215.95,337.76 216.20,336.43 216.45,334.94 216.70,333.37 216.95,331.80 217.20,330.30 217.45,328.95 217.70,327.81 217.95,326.95 218.20,326.41 218.45,326.22 218.70,326.38 218.95,326.89 219.20,327.72 219.45,328.83 219.70,330.16 219.95,331.65 220.20,333.22 220.45,334.79 220.70,336.29 220.95,337.64 221.20,338.77 221.45,339.62 221.70,340.15 221.95,340.33 222.20,340.16 222.45,339.65 222.70,338.81 222.95,337.69 223.20,336.36 223.45,334.86 223.70,333.29 223.95,331.72 224.20,330.22 224.45,328.88 224.70,327.76 224.95,326.92 225.20,326.40 225.45,326.22 225.70,326.40 225.95,326.92 226.20,327.77 226.45,328.89 226.70,330.23 226.95,331.73 227.20,333.30 227.45,334.88 227.70,336.37 227.95,337.70 228.20,338.82 228.45,339.65 228.70,340.16 228.95,340.33 229.20,340.14 229.45,339.61 229.70,338.76 229.95,337.63 230.20,336.28 230.45,334.78 230.70,333.21 230.95,331.64 231.20,330.15 231.45,328.82 231.70,327.71 231.95,326.88 232.20,326.38 232.45,326.22 232.70,326.42 232.95,326.96 233.20,327.82 233.45,328.96 233.70,330.31 233.95,331.81 234.20,333.39 234.45,334.96 234.70,336.44 234.95,337.77 235.20,338.87 235.45,339.69 235.70,340.18 235.95,340.33 236.20,340.12 236.45,339.57 236.70,338.70 236.95,337.56 237.20,336.21 237.45,334.70 237.70,333.13 237.95,331.56 238.20,330.07 238.45,328.75 238.70,327.66 238.95,326.85 239.20,326.36 239.45,326.22 239.70,326.44 239.95,327.00 240.20,327.87 240.45,329.02 240.70,330.38 240.95,331.89 241.20,333.47 241.45,335.04 241.70,336.51 241.95,337.83 242.20,338.92 242.45,339.72 242.70,340.20 242.95,340.33 243.20,340.10 243.45,339.54 243.70,338.65 243.95,337.50 244.20,336.13 244.45,334.62 244.70,333.04 244.95,331.48 245.20,330.00 245.45,328.69 245.70,327.61 245.95,326.82 246.20,326.35 246.45,326.22 246.70,326.46 246.95,327.04 247.20,327.93 247.45,329.09 247.70,330.46 247.95,331.97 248.20,333.55 248.45,335.12 248.70,336.59 248.95,337.89 249.20,338.97 249.45,339.75 249.70,340.21 249.95,340.33 250.20,340.08 250.45,339.50 250.70,338.60 250.95,337.43 251.20,336.06 251.45,334.54 251.70,332.96 251.95,331.40 252.20,329.93 252.45,328.63 252.70,327.56 252.95,326.78 253.20,326.33 253.45,326.23 253.70,326.48" fill="none" stroke="#2a2a2a" stroke-width="1.15" stroke-linejoin="round"/>
<polyline points="32.70,372.73 32.95,373.00 33.20,373.06 33.45,372.91 33.70,372.56 33.95,372.00 34.20,371.27 34.45,370.41 34.70,369.46 34.95,368.48 35.20,367.53 35.45,366.66 35.70,365.94 35.95,365.41 36.20,365.12 36.45,365.10 36.70,365.37 36.95,365.92 37.20,366.73 37.45,367.78 37.70,369.01 37.95,370.36 38.20,371.76 38.45,373.14 38.70,374.42 38.95,375.52 39.20,376.39 39.45,376.92 39.70,376.95 39.95,376.63 40.20,375.99 40.45,375.05 40.70,373.87 40.95,372.50 41.20,371.02 41.45,369.51 41.70,368.05 41.95,366.71 42.20,365.58 42.45,364.70 42.70,364.12 42.95,363.88 43.20,363.99 43.45,364.43 43.70,365.18 43.95,366.19 44.20,367.40 44.45,368.74 44.70,370.14 44.95,371.51 45.20,372.78 45.45,373.87 45.70,374.73 45.95,375.30 46.20,375.55 46.45,375.51 46.70,375.16 46.95,374.50 47.20,373.55 47.45,372.37 47.70,371.02 47.95,369.58 48.20,368.11 48.45,366.72 48.70,365.46 48.95,364.41 49.20,363.63 49.45,363.17 49.70,363.06 49.95,363.31 50.20,363.89 50.45,364.78 50.70,365.93 50.95,367.27 51.20,368.74 51.45,370.24 51.70,371.70 51.95,373.04 52.20,374.19 52.45,375.07 52.70,375.63 52.95,375.86 53.20,375.85 53.45,375.52 53.70,374.83 53.95,373.83 54.20,372.56 54.45,371.11 54.70,369.54 54.95,367.95 55.20,366.43 55.45,365.08 55.70,363.98 55.95,363.20 56.20,362.80 56.45,362.85 56.70,363.33 56.95,364.22 57.20,365.49 57.45,367.08 57.70,368.90 57.95,370.88 58.20,372.90 58.45,374.85 58.70,376.64 58.95,378.17 59.20,379.34 59.45,380.14 59.70,380.51 59.95,380.40 60.20,379.80 60.45,378.76 60.70,377.32 60.95,375.57 61.20,373.60 61.45,371.53 61.70,369.47 61.95,367.56 62.20,365.91 62.45,364.63 62.70,363.80 62.95,363.54 63.20,363.87 63.45,364.75 63.70,366.15 63.95,368.00 64.20,370.22 64.45,372.70 64.70,375.31 64.95,377.92 65.20,380.39 65.45,382.60 65.70,384.43 65.95,385.77 66.20,386.53 66.45,386.70 66.70,386.27 66.95,385.27 67.20,383.77 67.45,381.85 67.70,379.63 67.95,377.24 68.20,374.81 68.45,372.49 68.70,370.41 68.95,368.71 69.20,367.48 69.45,366.83 69.70,366.80 69.95,367.39 70.20,368.58 70.45,370.30 70.70,372.49 70.95,375.02 71.20,377.78 71.45,380.60 71.70,383.36 71.95,385.90 72.20,388.10 72.45,389.84 72.70,391.03 72.95,391.63 73.20,391.64 73.45,391.02 73.70,389.82 73.95,388.12 74.20,386.00 74.45,383.61 74.70,381.07 74.95,378.55 75.20,376.19 75.45,374.13 75.70,372.50 75.95,371.41 76.20,370.95 76.45,371.16 76.70,372.02 76.95,373.50 77.20,375.53 77.45,378.02 77.70,380.84 77.95,383.85 78.20,386.89 78.45,389.81 78.70,392.46 78.95,394.70 79.20,396.41 79.45,397.52 79.70,397.97 79.95,397.75 80.20,396.88 80.45,395.41 80.70,393.44 80.95,391.09 81.20,388.49 81.45,385.80 81.70,383.18 81.95,380.79 82.20,378.77 82.45,377.25 82.70,376.33 82.95,376.10 83.20,376.57 83.45,377.71 83.70,379.48 83.95,381.79 84.20,384.53 84.45,387.56 84.70,390.73 84.95,393.87 85.20,396.83 85.45,399.45 85.70,401.60 85.95,403.17 86.20,404.10 86.45,404.33 86.70,403.88 86.95,402.77 87.20,401.09 87.45,398.94 87.70,396.45 87.95,393.76 88.20,391.05 88.45,388.48 88.70,386.19 88.95,384.33 89.20,383.01 89.45,382.32 89.70,382.33 89.95,383.05 90.20,384.43 90.45,386.42 90.70,388.91 90.95,391.79 91.20,394.89 91.45,398.08 91.70,401.17 91.95,404.03 92.20,406.50 92.45,408.46 92.70,409.82 92.95,410.47 93.20,410.41 93.45,409.68 93.70,408.35 93.95,406.51 94.20,404.26 94.45,401.76 94.70,399.15 94.95,396.59 95.20,394.23 95.45,392.21 95.70,390.64 95.95,389.64 96.20,389.24 96.45,389.49 96.70,390.39 96.95,391.87 97.20,393.87 97.45,396.28 97.70,398.97 97.95,401.82 98.20,404.66 98.45,407.36 98.70,409.78 98.95,411.80 99.20,413.33 99.45,414.29 99.70,414.67 99.95,414.40 100.20,413.57 100.45,412.24 100.70,410.50 100.95,408.47 101.20,406.27 101.45,404.03 101.70,401.89 101.95,399.98 102.20,398.41 102.45,397.27 102.70,396.63 102.95,396.52 103.20,396.95 103.45,397.86 103.70,399.25 103.95,401.05 104.20,403.15 104.45,405.45 104.70,407.83 104.95,410.16 105.20,412.34 105.45,414.25 105.70,415.79 105.95,416.90 106.20,417.53 106.45,417.66 106.70,417.29 106.95,416.46 107.20,415.24 107.45,413.71 107.70,411.97 107.95,410.12 108.20,408.28 108.45,406.56 108.70,405.06 108.95,403.87 109.20,403.05 109.45,402.66 109.70,402.72 109.95,403.22 110.20,404.13 110.45,405.41 110.70,406.99 110.95,408.79 111.20,410.73 111.45,412.69 111.70,414.59 111.95,416.32 112.20,417.81 112.45,418.97 112.70,419.76 112.95,420.15 113.20,420.11 113.45,419.65 113.70,418.84 113.95,417.74 114.20,416.41 114.45,414.96 114.70,413.46 114.95,412.00 115.20,410.68 115.45,409.56 115.70,408.72 115.95,408.19 116.20,408.02 116.45,408.17 116.70,408.55 116.95,409.26 117.20,410.27 117.45,411.51 117.70,412.93 117.95,414.44 118.20,415.97 118.45,417.44 118.70,418.76 118.95,419.87 119.20,420.71 119.45,421.23 119.70,421.42 119.95,421.26 120.20,420.75 120.45,419.94 120.70,418.87 120.95,417.62 121.20,416.24 121.45,414.83 121.70,413.46 121.95,412.20 122.20,411.14 122.45,410.32 122.70,409.80 122.95,409.61 123.20,409.71 123.45,410.08 123.70,410.76 123.95,411.74 124.20,412.95 124.45,414.32 124.70,415.80 124.95,417.28 125.20,418.69 125.45,419.96 125.70,421.00 125.95,421.75 126.20,422.17 126.45,422.25 126.70,421.95 126.95,421.30 127.20,420.32 127.45,419.05 127.70,417.58 127.95,415.96 128.20,414.30 128.45,412.69 128.70,411.21 128.95,409.95 129.20,408.99 129.45,408.37 129.70,408.14 129.95,408.31 130.20,408.88 130.45,409.82 130.70,411.10 130.95,412.64 131.20,414.36 131.45,416.17 131.70,417.97 131.95,419.65 132.20,421.13 132.45,422.30 132.70,423.11 132.95,423.50 133.20,423.41 133.45,422.83 133.70,421.82 133.95,420.44 134.20,418.76 134.45,416.87 134.70,414.86 134.95,412.85 135.20,410.94 135.45,409.24 135.70,407.84 135.95,406.81 136.20,406.22 136.45,406.02 136.70,406.26 136.95,406.96 137.20,408.09 137.45,409.60 137.70,411.39 137.95,413.37 138.20,415.42 138.45,417.43 138.70,419.27 138.95,420.83 139.20,422.01 139.45,422.73 139.70,422.95 139.95,422.57 140.20,421.63 140.45,420.20 140.70,418.35 140.95,416.16 141.20,413.74 141.45,411.22 141.70,408.74 141.95,406.41 142.20,404.36 142.45,402.70 142.70,401.52 142.95,400.88 143.20,400.81 143.45,401.31 143.70,402.36 143.95,403.88 144.20,405.79 144.45,407.98 144.70,410.33 144.95,412.69 145.20,414.92 145.45,416.84 145.70,418.36 145.95,419.39 146.20,419.87 146.45,419.76 146.70,419.06 146.95,417.78 147.20,415.99 147.45,413.78 147.70,411.26 147.95,408.56 148.20,405.81 148.45,403.16 148.70,400.74 148.95,398.68 149.20,397.07 149.45,396.01 149.70,395.55 149.95,395.68 150.20,396.41 150.45,397.67 150.70,399.39 150.95,401.46 151.20,403.76 151.45,406.15 151.70,408.48 151.95,410.63 152.20,412.44 152.45,413.80 152.70,414.64 152.95,414.90 153.20,414.56 153.45,413.62 153.70,412.14 153.95,410.18 154.20,407.83 154.45,405.23 154.70,402.50 154.95,399.79 155.20,397.22 155.45,394.93 155.70,393.04 155.95,391.63 156.20,390.78 156.45,390.45 156.70,390.69 156.95,391.49 157.20,392.80 157.45,394.53 157.70,396.59 157.95,398.84 158.20,401.14 158.45,403.36 158.70,405.36 158.95,407.01 159.20,408.21 159.45,408.86 159.70,408.93 159.95,408.39 160.20,407.25 160.45,405.56 160.70,403.40 160.95,400.87 161.20,398.10 161.45,395.22 161.70,392.38 161.95,389.72 162.20,387.38 162.45,385.47 162.70,384.10 162.95,383.31 163.20,383.22 163.45,383.76 163.70,384.88 163.95,386.49 164.20,388.50 164.45,390.79 164.70,393.21 164.95,395.62 165.20,397.88 165.45,399.85 165.70,401.41 165.95,402.46 166.20,402.95 166.45,402.78 166.70,402.00 166.95,400.65 167.20,398.80 167.45,396.52 167.70,393.95 167.95,391.21 168.20,388.43 168.45,385.78 168.70,383.36 168.95,381.31 169.20,379.72 169.45,378.66 169.70,378.18 169.95,378.28 170.20,378.94 170.45,380.12 170.70,381.72 170.95,383.64 171.20,385.77 171.45,387.98 171.70,390.12 171.95,392.08 172.20,393.72 172.45,394.95 172.70,395.69 172.95,395.90 173.20,395.54 173.45,394.63 173.70,393.21 173.95,391.35 174.20,389.15 174.45,386.72 174.70,384.18 174.95,381.66 175.20,379.28 175.45,377.16 175.70,375.40 175.95,374.09 176.20,373.27 176.45,372.98 176.70,373.23 176.95,374.00 177.20,375.19 177.45,376.73 177.70,378.52 177.95,380.44 178.20,382.38 178.45,384.21 178.70,385.82 178.95,387.12 179.20,388.03 179.45,388.49 179.70,388.46 179.95,387.96 180.20,387.00 180.45,385.62 180.70,383.89 180.95,381.91 181.20,379.77 181.45,377.58 181.70,375.45 181.95,373.49 182.20,371.78 182.45,370.41 182.70,369.44 182.95,368.90 183.20,368.81 183.45,369.19 183.70,369.99 183.95,371.11 184.20,372.47 184.45,373.99 184.70,375.57 184.95,377.11 185.20,378.51 185.45,379.69 185.70,380.59 185.95,381.14 186.20,381.33 186.45,381.17 186.70,380.75 186.95,379.97 187.20,378.89 187.45,377.54 187.70,376.01 187.95,374.37 188.20,372.71 188.45,371.12 188.70,369.66 188.95,368.43 189.20,367.48 189.45,366.85 189.70,366.57 189.95,366.67 190.20,367.13 190.45,367.89 190.70,368.92 190.95,370.15 191.20,371.50 191.45,372.89 191.70,374.24 191.95,375.47 192.20,376.52 192.45,377.31 192.70,377.81 192.95,377.98 193.20,377.82 193.45,377.34 193.70,376.55 193.95,375.50 194.20,374.24 194.45,372.85 194.70,371.39 194.95,369.95 195.20,368.59 195.45,367.38 195.70,366.39 195.95,365.66 196.20,365.23 196.45,365.10 196.70,365.29 196.95,365.78 197.20,366.52 197.45,367.46 197.70,368.56 197.95,369.73 198.20,370.91 198.45,372.04 198.70,373.04 198.95,373.86 199.20,374.44 199.45,374.77 199.70,374.86 199.95,374.73 200.20,374.32 200.45,373.65 200.70,372.75 200.95,371.66 201.20,370.45 201.45,369.18 201.70,367.92 201.95,366.73 202.20,365.69 202.45,364.85 202.70,364.25 202.95,363.94 203.20,363.92 203.45,364.20 203.70,364.76 203.95,365.59 204.20,366.62 204.45,367.82 204.70,369.10 204.95,370.40 205.20,371.65 205.45,372.77 205.70,373.69 205.95,374.38 206.20,374.77 206.45,374.85 206.70,374.66 206.95,374.17 207.20,373.38 207.45,372.33 207.70,371.07 207.95,369.67 208.20,368.20 208.45,366.75 208.70,365.39 208.95,364.22 209.20,363.30 209.45,362.68 209.70,362.41 209.95,362.57 210.20,363.09 210.45,363.97 210.70,365.15 210.95,366.57 211.20,368.16 211.45,369.85 211.70,371.52 211.95,373.10 212.20,374.50 212.45,375.64 212.70,376.46 212.95,376.91 213.20,376.96 213.45,376.64 213.70,375.94 213.95,374.89 214.20,373.53 214.45,371.96 214.70,370.25 214.95,368.50 215.20,366.82 215.45,365.29 215.70,364.02 215.95,363.08 216.20,362.54 216.45,362.44 216.70,362.85 216.95,363.70 217.20,364.94 217.45,366.51 217.70,368.34 217.95,370.32 218.20,372.36 218.45,374.35 218.70,376.18 218.95,377.76 219.20,379.00 219.45,379.84 219.70,380.30 219.95,380.31 220.20,379.85 220.45,378.96 220.70,377.69 220.95,376.11 221.20,374.31 221.45,372.40 221.70,370.49 221.95,368.69 222.20,367.12 222.45,365.87 222.70,365.04 222.95,364.69 223.20,364.84 223.45,365.49 223.70,366.62 223.95,368.18 224.20,370.09 224.45,372.26 224.70,374.58 224.95,376.93 225.20,379.19 225.45,381.25 225.70,382.99 225.95,384.32 226.20,385.18 226.45,385.52 226.70,385.33 226.95,384.63 227.20,383.45 227.45,381.88 227.70,379.99 227.95,377.90 228.20,375.74 228.45,373.63 228.70,371.70 228.95,370.06 229.20,368.83 229.45,368.11 229.70,367.95 229.95,368.35 230.20,369.30 230.45,370.74 230.70,372.62 230.95,374.85 231.20,377.30 231.45,379.86 231.70,382.39 231.95,384.76 232.20,386.86 232.45,388.58 232.70,389.83 232.95,390.57 233.20,390.82 233.45,390.50 233.70,389.65 233.95,388.33 234.20,386.60 234.45,384.59 234.70,382.42 234.95,380.20 235.20,378.09 235.45,376.21 235.70,374.67 235.95,373.59 236.20,373.03 236.45,373.05 236.70,373.65 236.95,374.83 237.20,376.53 237.45,378.67 237.70,381.16 237.95,383.86 238.20,386.65 238.45,389.38 238.70,391.91 238.95,394.11 239.20,395.88 239.45,397.12 239.70,397.78 239.95,397.83 240.20,397.28 240.45,396.16 240.70,394.54 240.95,392.52 241.20,390.23 241.45,387.80 241.70,385.38 241.95,383.12 242.20,381.15 242.45,379.60 242.70,378.57 242.95,378.16 243.20,378.46 243.45,379.39 243.70,380.92 243.95,382.99 244.20,385.49 244.45,388.30 244.70,391.28 244.95,394.28 245.20,397.15 245.45,399.76 245.70,401.96 245.95,403.66 246.20,404.77 246.45,405.24 246.70,405.07 246.95,404.29 247.20,402.94 247.45,401.14 247.70,398.98 247.95,396.60 248.20,394.16 248.45,391.80 248.70,389.66 248.95,387.88 249.20,386.57 249.45,385.81 249.70,385.60 249.95,386.03 250.20,387.09 250.45,388.73 250.70,390.88 250.95,393.44 251.20,396.29 251.45,399.26 251.70,402.23 251.95,405.03 252.20,407.52 252.45,409.58 252.70,411.10 252.95,412.02 253.20,412.07 253.45,411.43 253.70,410.20" fill="none" stroke="#3434f0" stroke-width="1.3" stroke-linejoin="round"/>
<polyline points="32.70,393.72 32.95,387.83 33.20,382.23 33.45,377.21 33.70,373.07 33.95,370.03 34.20,368.24 34.45,367.83 34.70,368.80 34.95,371.10 35.20,374.61 35.45,379.13 35.70,384.41 35.95,390.17 36.20,396.09 36.45,401.83 36.70,407.09 36.95,411.57 37.20,415.03 37.45,417.27 37.70,418.18 37.95,417.71 38.20,415.87 38.45,412.77 38.70,408.58 38.95,403.54 39.20,397.91 39.45,392.02 39.70,386.17 39.95,380.71 40.20,375.92 40.45,372.07 40.70,369.38 40.95,367.98 41.20,367.97 41.45,369.33 41.70,371.99 41.95,375.82 42.20,380.59 42.45,386.04 42.70,391.87 42.95,397.77 43.20,403.41 43.45,408.47 43.70,412.68 43.95,415.81 44.20,417.68 44.45,418.19 44.70,417.31 44.95,415.10 45.20,411.67 45.45,407.21 45.70,401.96 45.95,396.23 46.20,390.31 46.45,384.55 46.70,379.25 46.95,374.71 47.20,371.17 47.45,368.84 47.70,367.83 47.95,368.22 48.20,369.97 48.45,372.98 48.70,377.10 48.95,382.10 49.20,387.69 49.45,393.58 49.70,399.44 49.95,404.94 50.20,409.78 50.45,413.70 50.70,416.48 50.95,417.97 51.20,418.08 51.45,416.81 51.70,414.23 51.95,410.48 52.20,405.76 52.45,400.35 52.70,394.53 52.95,388.62 53.20,382.96 53.45,377.85 53.70,373.57 53.95,370.37 54.20,368.41 54.45,367.80 54.70,368.59 54.95,370.71 55.20,374.07 55.45,378.46 55.70,383.66 55.95,389.37 56.20,395.28 56.45,401.07 56.70,406.41 56.95,411.01 57.20,414.63 57.45,417.05 57.70,418.14 57.95,417.85 58.20,416.19 58.45,413.26 58.70,409.21 58.95,404.26 59.20,398.70 59.45,392.82 59.70,386.95 59.95,381.42 60.20,376.52 60.45,372.53 60.70,369.67 60.95,368.09 61.20,367.89 61.45,369.06 61.70,371.56 61.95,375.24 62.20,379.89 62.45,385.27 62.70,391.07 62.95,396.98 63.20,402.67 63.45,407.83 63.70,412.17 63.95,415.45 64.20,417.50 64.45,418.20 64.70,417.51 64.95,415.47 65.20,412.20 65.45,407.86 65.70,402.71 65.95,397.03 66.20,391.12 66.45,385.31 66.70,379.93 66.95,375.27 67.20,371.58 67.45,369.08 67.70,367.89 67.95,368.09 68.20,369.65 68.45,372.50 68.70,376.49 68.95,381.38 69.20,386.91 69.45,392.77 69.70,398.65 69.95,404.22 70.20,409.17 70.45,413.23 70.70,416.17 70.95,417.84 71.20,418.14 71.45,417.06 71.70,414.65 71.95,411.05 72.20,406.45 72.45,401.12 72.70,395.33 72.95,389.42 73.20,383.71 73.45,378.50 73.70,374.10 73.95,370.73 74.20,368.60 74.45,367.80 74.70,368.40 74.95,370.35 75.20,373.54 75.45,377.81 75.70,382.92 75.95,388.58 76.20,394.48 76.45,400.30 76.70,405.72 76.95,410.44 77.20,414.20 77.45,416.79 77.70,418.07 77.95,417.97 78.20,416.50 78.45,413.73 78.70,409.82 78.95,404.98 79.20,399.48 79.45,393.63 79.70,387.74 79.95,382.14 80.20,377.14 80.45,373.01 80.70,369.99 80.95,368.23 81.20,367.83 81.45,368.82 81.70,371.15 81.95,374.67 82.20,379.21 82.45,384.50 82.70,390.27 82.95,396.18 83.20,401.92 83.45,407.17 83.70,411.63 83.95,415.07 84.20,417.30 84.45,418.19 84.70,417.69 84.95,415.83 85.20,412.71 85.45,408.51 85.70,403.45 85.95,397.82 86.20,391.92 86.45,386.08 86.70,380.63 86.95,375.85 87.20,372.02 87.45,369.34 87.70,367.97 87.95,367.98 88.20,369.36 88.45,372.05 88.70,375.89 88.95,380.67 89.20,386.13 89.45,391.97 89.70,397.87 89.95,403.49 90.20,408.54 90.45,412.74 90.70,415.85 90.95,417.70 91.20,418.18 91.45,417.29 91.70,415.05 91.95,411.60 92.20,407.13 92.45,401.87 92.70,396.13 92.95,390.22 93.20,384.46 93.45,379.17 93.70,374.64 93.95,371.12 94.20,368.81 94.45,367.83 94.70,368.24 94.95,370.01 95.20,373.04 95.45,377.18 95.70,382.18 95.95,387.79 96.20,393.68 96.45,399.53 96.70,405.02 96.95,409.85 97.20,413.75 97.45,416.51 97.70,417.98 97.95,418.07 98.20,416.78 98.45,414.18 98.70,410.41 98.95,405.68 99.20,400.26 99.45,394.43 99.70,388.53 99.95,382.87 100.20,377.77 100.45,373.51 100.70,370.33 100.95,368.39 101.20,367.80 101.45,368.61 101.70,370.76 101.95,374.13 102.20,378.54 102.45,383.75 102.70,389.47 102.95,395.38 103.20,401.16 103.45,406.49 103.70,411.08 103.95,414.67 104.20,417.07 104.45,418.15 104.70,417.84 104.95,416.16 105.20,413.20 105.45,409.13 105.70,404.18 105.95,398.61 106.20,392.73 106.45,386.86 106.70,381.34 106.95,376.45 107.20,372.48 107.45,369.63 107.70,368.08 107.95,367.89 108.20,369.09 108.45,371.61 108.70,375.30 108.95,379.97 109.20,385.36 109.45,391.16 109.70,397.07 109.95,402.76 110.20,407.90 110.45,412.23 110.70,415.49 110.95,417.52 111.20,418.20 111.45,417.49 111.70,415.43 111.95,412.14 112.20,407.79 112.45,402.62 112.70,396.93 112.95,391.02 113.20,385.22 113.45,379.85 113.70,375.20 113.95,371.53 114.20,369.05 114.45,367.88 114.70,368.10 114.95,369.69 115.20,372.56 115.45,376.56 115.70,381.46 115.95,387.00 116.20,392.87 116.45,398.75 116.70,404.31 116.95,409.24 117.20,413.29 117.45,416.21 117.70,417.86 117.95,418.14 118.20,417.03 118.45,414.60 118.70,410.98 118.95,406.37 119.20,401.03 119.45,395.24 119.70,389.33 119.95,383.62 120.20,378.42 120.45,374.04 120.70,370.69 120.95,368.57 121.20,367.80 121.45,368.42 121.70,370.39 121.95,373.60 122.20,377.89 122.45,383.00 122.70,388.67 122.95,394.58 123.20,400.39 123.45,405.80 123.70,410.51 123.95,414.25 124.20,416.82 124.45,418.08 124.70,417.96 124.95,416.46 125.20,413.67 125.45,409.75 125.70,404.90 125.95,399.39 126.20,393.53 126.45,387.65 126.70,382.06 126.95,377.07 127.20,372.96 127.45,369.95 127.70,368.21 127.95,367.84 128.20,368.85 128.45,371.19 128.70,374.74 128.95,379.29 129.20,384.59 129.45,390.36 129.70,396.27 129.95,402.01 130.20,407.24 130.45,411.70 130.70,415.12 130.95,417.32 131.20,418.19 131.45,417.67 131.70,415.79 131.95,412.65 132.20,408.43 132.45,403.36 132.70,397.73 132.95,391.83 133.20,385.99 133.45,380.54 133.70,375.78 133.95,371.97 134.20,369.31 134.45,367.96 134.70,367.99 134.95,369.39 135.20,372.10 135.45,375.96 135.70,380.75 135.95,386.22 136.20,392.06 136.45,397.96 136.70,403.58 136.95,408.62 137.20,412.80 137.45,415.89 137.70,417.71 137.95,418.18 138.20,417.26 138.45,415.01 138.70,411.54 138.95,407.05 139.20,401.79 139.45,396.04 139.70,390.13 139.95,384.37 140.20,379.09 140.45,374.58 140.70,371.08 140.95,368.78 141.20,367.83 141.45,368.25 141.70,370.04 141.95,373.10 142.20,377.25 142.45,382.27 142.70,387.88 142.95,393.77 143.20,399.62 143.45,405.10 143.70,409.92 143.95,413.81 144.20,416.55 144.45,417.99 144.70,418.06 144.95,416.74 145.20,414.12 145.45,410.34 145.70,405.60 145.95,400.17 146.20,394.34 146.45,388.44 146.70,382.79 146.95,377.70 147.20,373.45 147.45,370.29 147.70,368.37 147.95,367.81 148.20,368.63 148.45,370.80 148.70,374.19 148.95,378.62 149.20,383.84 149.45,389.56 149.70,395.47 149.95,401.25 150.20,406.57 150.45,411.15 150.70,414.72 150.95,417.10 151.20,418.15 151.45,417.82 151.70,416.12 151.95,413.14 152.20,409.06 152.45,404.09 152.70,398.52 152.95,392.63 153.20,386.77 153.45,381.25 153.70,376.38 153.95,372.42 154.20,369.60 154.45,368.06 154.70,367.90 154.95,369.12 155.20,371.66 155.45,375.37 155.70,380.05 155.95,385.45 156.20,391.26 156.45,397.17 156.70,402.84 156.95,407.98 157.20,412.29 157.45,415.54 157.70,417.54 157.95,418.20 158.20,417.47 158.45,415.39 158.70,412.07 158.95,407.71 159.20,402.54 159.45,396.84 159.70,390.93 159.95,385.13 160.20,379.77 160.45,375.13 160.70,371.48 160.95,369.02 161.20,367.87 161.45,368.11 161.70,369.72 161.95,372.62 162.20,376.63 162.45,381.55 162.70,387.09 162.95,392.96 163.20,398.84 163.45,404.39 163.70,409.32 163.95,413.34 164.20,416.25 164.45,417.87 164.70,418.13 164.95,417.00 165.20,414.55 165.45,410.92 165.70,406.29 165.95,400.94 166.20,395.14 166.45,389.23 166.70,383.53 166.95,378.35 167.20,373.97 167.45,370.65 167.70,368.55 167.95,367.80 168.20,368.44 168.45,370.43 168.70,373.67 168.95,377.96 169.20,383.09 169.45,388.76 169.70,394.67 169.95,400.48 170.20,405.89 170.45,410.58 170.70,414.30 170.95,416.85 171.20,418.09 171.45,417.95 171.70,416.43 171.95,413.62 172.20,409.67 172.45,404.81 172.70,399.30 172.95,393.44 173.20,387.55 173.45,381.97 173.70,376.99 173.95,372.90 174.20,369.91 174.45,368.19 174.70,367.84 174.95,368.88 175.20,371.24 175.45,374.80 175.70,379.37 175.95,384.68 176.20,390.46 176.45,396.37 176.70,402.10 176.95,407.32 177.20,411.76 177.45,415.17 177.70,417.35 177.95,418.19 178.20,417.65 178.45,415.75 178.70,412.59 178.95,408.36 179.20,403.28 179.45,397.63 179.70,391.73 179.95,385.90 180.20,380.46 180.45,375.71 180.70,371.92 180.95,369.28 181.20,367.95 181.45,368.00 181.70,369.43 181.95,372.15 182.20,376.03 182.45,380.83 182.70,386.31 182.95,392.16 183.20,398.05 183.45,403.67 183.70,408.69 183.95,412.86 184.20,415.93 184.45,417.73 184.70,418.18 184.95,417.24 185.20,414.96 185.45,411.47 185.70,406.97 185.95,401.70 186.20,395.95 186.45,390.03 186.70,384.28 186.95,379.01 187.20,374.51 187.45,371.03 187.70,368.76 187.95,367.82 188.20,368.27 188.45,370.08 188.70,373.16 188.95,377.33 189.20,382.36 189.45,387.97 189.70,393.87 189.95,399.71 190.20,405.19 190.45,409.99 190.70,413.86 190.95,416.58 191.20,418.00 191.45,418.05 191.70,416.71 191.95,414.07 192.20,410.27 192.45,405.52 192.70,400.08 192.95,394.24 193.20,388.34 193.45,382.70 193.70,377.62 193.95,373.39 194.20,370.24 194.45,368.35 194.70,367.81 194.95,368.66 195.20,370.85 195.45,374.26 195.70,378.70 195.95,383.93 196.20,389.65 196.45,395.57 196.70,401.34 196.95,406.65 197.20,411.21 197.45,414.77 197.70,417.13 197.95,418.16 198.20,417.80 198.45,416.08 198.70,413.09 198.95,408.99 199.20,404.01 199.45,398.42 199.70,392.54 199.95,386.68 200.20,381.17 200.45,376.31 200.70,372.37 200.95,369.56 201.20,368.05 201.45,367.91 201.70,369.15 201.95,371.71 202.20,375.44 202.45,380.13 202.70,385.54 202.95,391.35 203.20,397.26 203.45,402.93 203.70,408.05 203.95,412.35 204.20,415.58 204.45,417.57 204.70,418.20 204.95,417.44 205.20,415.34 205.45,412.01 205.70,407.63 205.95,402.45 206.20,396.74 206.45,390.83 206.70,385.04 206.95,379.69 207.20,375.07 207.45,371.44 207.70,368.99 207.95,367.87 208.20,368.13 208.45,369.76 208.70,372.67 208.95,376.70 209.20,381.63 209.45,387.18 209.70,393.06 209.95,398.93 210.20,404.48 210.45,409.39 210.70,413.40 210.95,416.29 211.20,417.89 211.45,418.12 211.70,416.97 211.95,414.50 212.20,410.85 212.45,406.21 212.70,400.85 212.95,395.05 213.20,389.14 213.45,383.44 213.70,378.27 213.95,373.91 214.20,370.60 214.45,368.53 214.70,367.80 214.95,368.46 215.20,370.47 215.45,373.73 215.70,378.04 215.95,383.18 216.20,388.86 216.45,394.76 216.70,400.57 216.95,405.97 217.20,410.65 217.45,414.35 217.70,416.88 217.95,418.10 218.20,417.93 218.45,416.39 218.70,413.56 218.95,409.60 219.20,404.73 219.45,399.21 219.70,393.34 219.95,387.46 220.20,381.88 220.45,376.92 220.70,372.84 220.95,369.87 221.20,368.18 221.45,367.85 221.70,368.91 221.95,371.29 222.20,374.87 222.45,379.45 222.70,384.77 222.95,390.55 223.20,396.46 223.45,402.18 223.70,407.40 223.95,411.82 224.20,415.21 224.45,417.37 224.70,418.19 224.95,417.63 225.20,415.70 225.45,412.53 225.70,408.28 225.95,403.19 226.20,397.54 226.45,391.64 226.70,385.81 226.95,380.38 227.20,375.64 227.45,371.86 227.70,369.25 227.95,367.94 228.20,368.01 228.45,369.46 228.70,372.21 228.95,376.10 229.20,380.92 229.45,386.40 229.70,392.25 229.95,398.14 230.20,403.75 230.45,408.77 230.70,412.91 230.95,415.97 231.20,417.75 231.45,418.17 231.70,417.21 231.95,414.91 232.20,411.41 232.45,406.89 232.70,401.61 232.95,395.85 233.20,389.94 233.45,384.19 233.70,378.93 233.95,374.45 234.20,370.98 234.45,368.73 234.70,367.82 234.95,368.29 235.20,370.12 235.45,373.22 235.70,377.40 235.95,382.44 236.20,388.06 236.45,393.96 236.70,399.80 236.95,405.27 237.20,410.06 237.45,413.91 237.70,416.61 237.95,418.01 238.20,418.04 238.45,416.68 238.70,414.02 238.95,410.20 239.20,405.44 239.45,399.98 239.70,394.15 239.95,388.25 240.20,382.61 240.45,377.55 240.70,373.33 240.95,370.20 241.20,368.33 241.45,367.81 241.70,368.68 241.95,370.89 242.20,374.32 242.45,378.77 242.70,384.01 242.95,389.75 243.20,395.66 243.45,401.43 243.70,406.73 243.95,411.28 244.20,414.82 244.45,417.16 244.70,418.16 244.95,417.79 245.20,416.04 245.45,413.03 245.70,408.92 245.95,403.92 246.20,398.33 246.45,392.44 246.70,386.59 246.95,381.08 247.20,376.24 247.45,372.31 247.70,369.53 247.95,368.04 248.20,367.92 248.45,369.18 248.70,371.76 248.95,375.51 249.20,380.22 249.45,385.63 249.70,391.45 249.95,397.35 250.20,403.02 250.45,408.13 250.70,412.41 250.95,415.62 251.20,417.59 251.45,418.20 251.70,417.42 251.95,415.30 252.20,411.95 252.45,407.56 252.70,402.36 252.95,396.65 253.20,390.74 253.45,384.95 253.70,379.61" fill="none" stroke="#e41e1e" stroke-width="1.3" stroke-linejoin="round"/>
<path d="M41.0,281.8h14.2" stroke="#707070" stroke-width="1.5"/>
<text x="57.7" y="284.1" class="lg" textLength="50.6" lengthAdjust="spacingAndGlyphs">drag cofficient</text>
<path d="M118.0,281.8h14.2" stroke="#6464ff" stroke-width="1.5"/>
<text x="134.4" y="284.1" class="lg" textLength="43.6" lengthAdjust="spacingAndGlyphs">lift cofficient</text>
<path d="M188.0,281.8h14.2" stroke="#f03434" stroke-width="1.5"/>
<text x="206.5" y="284.1" class="lg" textLength="41.4" lengthAdjust="spacingAndGlyphs">attack angle</text>
<text transform="translate(14.7,0) rotate(-90)" x="-439.91" y="0" class="yt it" style="font-size:13.25px" textLength="32.50" lengthAdjust="spacingAndGlyphs">Alpha</text>
<text transform="translate(14.7,0) rotate(-90)" x="-407.83" y="0" class="yt upd" style="font-size:13.45px" textLength="29.39" lengthAdjust="spacingAndGlyphs">(deg)</text>
<text transform="translate(14.7,0) rotate(-90)" x="-376.78" y="0" class="yt it" style="font-size:12.42px" textLength="38.92" lengthAdjust="spacingAndGlyphs">, Cl, Cd</text>
<text x="127.2" y="512.0" class="yt"><tspan class="it xt">Time</tspan><tspan class="up" dx="2" dy="0.8">(s)</tspan></text>
<text transform="translate(102.8,538.7) scale(1.12,1)" class="cap">(<tspan font-weight="bold">c</tspan>) Case3</text>
<path d="M324.55,292.20 V494.05 H545.20" fill="none" stroke="#1a1a1a" stroke-width="1.35"/>
<path d="M324.55,494.05h5 M324.55,443.59h5 M324.55,393.12h5 M324.55,342.66h5 M324.55,292.20h5 M324.55,494.05v-5 M358.48,494.05v-4 M392.40,494.05v-5 M426.33,494.05v-4 M460.25,494.05v-5 M494.18,494.05v-4 M528.10,494.05v-5" fill="none" stroke="#1a1a1a" stroke-width="1"/>
<path d="M324.55,483.96h2.8 M324.55,473.87h2.8 M324.55,463.77h2.8 M324.55,453.68h2.8 M324.55,433.50h2.8 M324.55,423.40h2.8 M324.55,413.31h2.8 M324.55,403.22h2.8 M324.55,383.03h2.8 M324.55,372.94h2.8 M324.55,362.85h2.8 M324.55,352.75h2.8 M324.55,332.57h2.8 M324.55,322.48h2.8 M324.55,312.38h2.8 M324.55,302.29h2.8 M331.34,494.05v-2.5 M338.12,494.05v-2.5 M344.91,494.05v-2.5 M351.69,494.05v-2.5 M365.26,494.05v-2.5 M372.05,494.05v-2.5 M378.83,494.05v-2.5 M385.62,494.05v-2.5 M399.19,494.05v-2.5 M405.97,494.05v-2.5 M412.75,494.05v-2.5 M419.54,494.05v-2.5 M433.11,494.05v-2.5 M439.90,494.05v-2.5 M446.68,494.05v-2.5 M453.47,494.05v-2.5 M467.04,494.05v-2.5 M473.82,494.05v-2.5 M480.61,494.05v-2.5 M487.39,494.05v-2.5 M500.96,494.05v-2.5 M507.75,494.05v-2.5 M514.53,494.05v-2.5 M521.32,494.05v-2.5 M534.88,494.05v-2.5 M541.67,494.05v-2.5" fill="none" stroke="#8a8a8a" stroke-width="0.9"/>
<text x="322.05" y="295.60" text-anchor="end" class="tl">20</text>
<text x="322.05" y="346.06" text-anchor="end" class="tl">10</text>
<text x="322.05" y="396.52" text-anchor="end" class="tl">0</text>
<text x="322.05" y="446.99" text-anchor="end" class="tl">-10</text>
<text x="322.05" y="497.45" text-anchor="end" class="tl">-20</text>
<text x="324.55" y="503.55" text-anchor="middle" class="tl">0</text>
<text x="392.40" y="503.55" text-anchor="middle" class="tl">0.2</text>
<text x="460.25" y="503.55" text-anchor="middle" class="tl">0.4</text>
<text x="528.10" y="503.55" text-anchor="middle" class="tl">0.6</text>
<polyline points="324.55,352.77 324.80,352.46 325.05,352.14 325.30,351.81 325.55,351.49 325.80,351.16 326.05,350.85 326.30,350.54 326.55,350.25 326.80,349.98 327.05,349.72 327.30,349.49 327.55,349.29 327.80,349.11 328.05,348.97 328.30,348.85 328.55,348.77 328.80,348.73 329.05,348.72 329.30,348.74 329.55,348.80 329.80,348.90 330.05,349.02 330.30,349.18 330.55,349.37 330.80,349.58 331.05,349.82 331.30,350.08 331.55,350.37 331.80,350.66 332.05,350.97 332.30,351.29 332.55,351.62 332.80,351.94 333.05,352.26 333.30,352.58 333.55,352.89 333.80,353.18 334.05,353.46 334.30,353.72 334.55,353.95 334.80,354.16 335.05,354.35 335.30,354.50 335.55,354.62 335.80,354.70 336.05,354.76 336.30,354.77 336.55,354.76 336.80,354.70 337.05,354.62 337.30,354.50 337.55,354.35 337.80,354.16 338.05,353.95 338.30,353.72 338.55,353.46 338.80,353.18 339.05,352.89 339.30,352.58 339.55,352.26 339.80,351.94 340.05,351.62 340.30,351.29 340.55,350.97 340.80,350.66 341.05,350.37 341.30,350.08 341.55,349.82 341.80,349.58 342.05,349.37 342.30,349.18 342.55,349.02 342.80,348.90 343.05,348.80 343.30,348.74 343.55,348.72 343.80,348.73 344.05,348.77 344.30,348.85 344.55,348.97 344.80,349.11 345.05,349.29 345.30,349.49 345.55,349.72 345.80,349.98 346.05,350.25 346.30,350.54 346.55,350.85 346.80,351.16 347.05,351.49 347.30,351.81 347.55,352.14 347.80,352.46 348.05,352.77 348.30,353.07 348.55,353.35 348.80,353.62 349.05,353.86 349.30,354.08 349.55,354.28 349.80,354.44 350.05,354.57 350.30,354.67 350.55,354.74 350.80,354.77 351.05,354.77 351.30,354.73 351.55,354.66 351.80,354.55 352.05,354.41 352.30,354.24 352.55,354.04 352.80,353.82 353.05,353.57 353.30,353.30 353.55,353.01 353.80,352.71 354.05,352.39 354.30,352.07 354.55,351.75 354.80,351.42 355.05,351.10 355.30,350.79 355.55,350.48 355.80,350.19 356.05,349.92 356.30,349.68 356.55,349.45 356.80,349.25 357.05,349.08 357.30,348.94 357.55,348.84 357.80,348.76 358.05,348.72 358.30,348.72 358.55,348.75 358.80,348.82 359.05,348.92 359.30,349.05 359.55,349.21 359.80,349.41 360.05,349.63 360.30,349.87 360.55,350.14 360.80,350.42 361.05,350.72 361.30,351.04 361.55,351.36 361.80,351.68 362.05,352.01 362.30,352.33 362.55,352.64 362.80,352.95 363.05,353.24 363.30,353.51 363.55,353.77 363.80,354.00 364.05,354.20 364.30,354.38 364.55,354.52 364.80,354.64 365.05,354.72 365.30,354.76 365.55,354.77 365.80,354.75 366.05,354.69 366.30,354.60 366.55,354.47 366.80,354.31 367.05,354.12 367.30,353.91 367.55,353.67 367.80,353.41 368.05,353.13 368.30,352.83 368.55,352.52 368.80,352.20 369.05,351.88 369.30,351.55 369.55,351.23 369.80,350.91 370.05,350.60 370.30,350.31 370.55,350.03 370.80,349.77 371.05,349.54 371.30,349.33 371.55,349.15 371.80,348.99 372.05,348.87 372.30,348.79 372.55,348.74 372.80,348.72 373.05,348.74 373.30,348.79 373.55,348.87 373.80,348.99 374.05,349.15 374.30,349.33 374.55,349.54 374.80,349.77 375.05,350.03 375.30,350.31 375.55,350.60 375.80,350.91 376.05,351.23 376.30,351.55 376.55,351.88 376.80,352.20 377.05,352.52 377.30,352.83 377.55,353.13 377.80,353.41 378.05,353.67 378.30,353.91 378.55,354.12 378.80,354.31 379.05,354.47 379.30,354.60 379.55,354.69 379.80,354.75 380.05,354.77 380.30,354.76 380.55,354.72 380.80,354.64 381.05,354.52 381.30,354.38 381.55,354.20 381.80,354.00 382.05,353.77 382.30,353.51 382.55,353.24 382.80,352.95 383.05,352.64 383.30,352.33 383.55,352.01 383.80,351.68 384.05,351.36 384.30,351.04 384.55,350.72 384.80,350.42 385.05,350.14 385.30,349.87 385.55,349.63 385.80,349.41 386.05,349.21 386.30,349.05 386.55,348.92 386.80,348.82 387.05,348.75 387.30,348.72 387.55,348.72 387.80,348.76 388.05,348.84 388.30,348.94 388.55,349.08 388.80,349.25 389.05,349.45 389.30,349.68 389.55,349.92 389.80,350.19 390.05,350.48 390.30,350.79 390.55,351.10 390.80,351.42 391.05,351.75 391.30,352.07 391.55,352.39 391.80,352.71 392.05,353.01 392.30,353.30 392.55,353.57 392.80,353.82 393.05,354.04 393.30,354.24 393.55,354.41 393.80,354.55 394.05,354.66 394.30,354.73 394.55,354.77 394.80,354.77 395.05,354.74 395.30,354.67 395.55,354.57 395.80,354.44 396.05,354.28 396.30,354.08 396.55,353.86 396.80,353.62 397.05,353.35 397.30,353.07 397.55,352.77 397.80,352.46 398.05,352.14 398.30,351.81 398.55,351.49 398.80,351.16 399.05,350.85 399.30,350.54 399.55,350.25 399.80,349.98 400.05,349.72 400.30,349.49 400.55,349.29 400.80,349.11 401.05,348.97 401.30,348.85 401.55,348.77 401.80,348.73 402.05,348.72 402.30,348.74 402.55,348.80 402.80,348.90 403.05,349.02 403.30,349.18 403.55,349.37 403.80,349.58 404.05,349.82 404.30,350.08 404.55,350.37 404.80,350.66 405.05,350.97 405.30,351.29 405.55,351.62 405.80,351.94 406.05,352.26 406.30,352.58 406.55,352.89 406.80,353.18 407.05,353.46 407.30,353.72 407.55,353.95 407.80,354.16 408.05,354.35 408.30,354.50 408.55,354.62 408.80,354.70 409.05,354.76 409.30,354.77 409.55,354.76 409.80,354.70 410.05,354.62 410.30,354.50 410.55,354.35 410.80,354.16 411.05,353.95 411.30,353.72 411.55,353.46 411.80,353.18 412.05,352.89 412.30,352.58 412.55,352.26 412.80,351.94 413.05,351.62 413.30,351.29 413.55,350.97 413.80,350.66 414.05,350.37 414.30,350.08 414.55,349.82 414.80,349.58 415.05,349.37 415.30,349.18 415.55,349.02 415.80,348.90 416.05,348.80 416.30,348.74 416.55,348.72 416.80,348.73 417.05,348.77 417.30,348.85 417.55,348.97 417.80,349.11 418.05,349.29 418.30,349.49 418.55,349.72 418.80,349.98 419.05,350.25 419.30,350.54 419.55,350.85 419.80,351.16 420.05,351.49 420.30,351.81 420.55,352.14 420.80,352.46 421.05,352.77 421.30,353.07 421.55,353.35 421.80,353.62 422.05,353.86 422.30,354.08 422.55,354.28 422.80,354.44 423.05,354.57 423.30,354.67 423.55,354.74 423.80,354.77 424.05,354.77 424.30,354.73 424.55,354.66 424.80,354.55 425.05,354.41 425.30,354.24 425.55,354.04 425.80,353.82 426.05,353.57 426.30,353.30 426.55,353.01 426.80,352.71 427.05,352.39 427.30,352.07 427.55,351.75 427.80,351.42 428.05,351.10 428.30,350.79 428.55,350.48 428.80,350.19 429.05,349.92 429.30,349.68 429.55,349.45 429.80,349.25 430.05,349.08 430.30,348.94 430.55,348.84 430.80,348.76 431.05,348.72 431.30,348.72 431.55,348.75 431.80,348.82 432.05,348.92 432.30,349.05 432.55,349.21 432.80,349.41 433.05,349.63 433.30,349.87 433.55,350.14 433.80,350.42 434.05,350.72 434.30,351.04 434.55,351.36 434.80,351.68 435.05,352.01 435.30,352.33 435.55,352.64 435.80,352.95 436.05,353.24 436.30,353.51 436.55,353.77 436.80,354.00 437.05,354.20 437.30,354.38 437.55,354.52 437.80,354.64 438.05,354.72 438.30,354.76 438.55,354.77 438.80,354.75 439.05,354.69 439.30,354.60 439.55,354.47 439.80,354.31 440.05,354.12 440.30,353.91 440.55,353.67 440.80,353.41 441.05,353.13 441.30,352.83 441.55,352.52 441.80,352.20 442.05,351.88 442.30,351.55 442.55,351.23 442.80,350.91 443.05,350.60 443.30,350.31 443.55,350.03 443.80,349.77 444.05,349.54 444.30,349.33 444.55,349.15 444.80,348.99 445.05,348.87 445.30,348.79 445.55,348.74 445.80,348.72 446.05,348.74 446.30,348.79 446.55,348.87 446.80,348.99 447.05,349.15 447.30,349.33 447.55,349.54 447.80,349.77 448.05,350.03 448.30,350.31 448.55,350.60 448.80,350.91 449.05,351.23 449.30,351.55 449.55,351.88 449.80,352.20 450.05,352.52 450.30,352.83 450.55,353.13 450.80,353.41 451.05,353.67 451.30,353.91 451.55,354.12 451.80,354.31 452.05,354.47 452.30,354.60 452.55,354.69 452.80,354.75 453.05,354.77 453.30,354.76 453.55,354.72 453.80,354.64 454.05,354.52 454.30,354.38 454.55,354.20 454.80,354.00 455.05,353.77 455.30,353.51 455.55,353.24 455.80,352.95 456.05,352.64 456.30,352.33 456.55,352.01 456.80,351.68 457.05,351.36 457.30,351.04 457.55,350.72 457.80,350.42 458.05,350.14 458.30,349.87 458.55,349.63 458.80,349.41 459.05,349.21 459.30,349.05 459.55,348.92 459.80,348.82 460.05,348.75 460.30,348.72 460.55,348.72 460.80,348.76 461.05,348.84 461.30,348.94 461.55,349.08 461.80,349.25 462.05,349.45 462.30,349.68 462.55,349.92 462.80,350.19 463.05,350.48 463.30,350.79 463.55,351.10 463.80,351.42 464.05,351.75 464.30,352.07 464.55,352.39 464.80,352.71 465.05,353.01 465.30,353.30 465.55,353.57 465.80,353.82 466.05,354.04 466.30,354.24 466.55,354.41 466.80,354.55 467.05,354.66 467.30,354.73 467.55,354.77 467.80,354.77 468.05,354.74 468.30,354.67 468.55,354.57 468.80,354.44 469.05,354.28 469.30,354.08 469.55,353.86 469.80,353.62 470.05,353.35 470.30,353.07 470.55,352.77 470.80,352.46 471.05,352.14 471.30,351.81 471.55,351.49 471.80,351.16 472.05,350.85 472.30,350.54 472.55,350.25 472.80,349.98 473.05,349.72 473.30,349.49 473.55,349.29 473.80,349.11 474.05,348.97 474.30,348.85 474.55,348.77 474.80,348.73 475.05,348.72 475.30,348.74 475.55,348.80 475.80,348.90 476.05,349.02 476.30,349.18 476.55,349.37 476.80,349.58 477.05,349.82 477.30,350.08 477.55,350.37 477.80,350.66 478.05,350.97 478.30,351.29 478.55,351.62 478.80,351.94 479.05,352.26 479.30,352.58 479.55,352.89 479.80,353.18 480.05,353.46 480.30,353.72 480.55,353.95 480.80,354.16 481.05,354.35 481.30,354.50 481.55,354.62 481.80,354.70 482.05,354.76 482.30,354.77 482.55,354.76 482.80,354.70 483.05,354.62 483.30,354.50 483.55,354.35 483.80,354.16 484.05,353.95 484.30,353.72 484.55,353.46 484.80,353.18 485.05,352.89 485.30,352.58 485.55,352.26 485.80,351.94 486.05,351.62 486.30,351.29 486.55,350.97 486.80,350.66 487.05,350.37 487.30,350.08 487.55,349.82 487.80,349.58 488.05,349.37 488.30,349.18 488.55,349.02 488.80,348.90 489.05,348.80 489.30,348.74 489.55,348.72 489.80,348.73 490.05,348.77 490.30,348.85 490.55,348.97 490.80,349.11 491.05,349.29 491.30,349.49 491.55,349.72 491.80,349.98 492.05,350.25 492.30,350.54 492.55,350.85 492.80,351.16 493.05,351.49 493.30,351.81 493.55,352.14 493.80,352.46 494.05,352.77 494.30,353.07 494.55,353.35 494.80,353.62 495.05,353.86 495.30,354.08 495.55,354.28 495.80,354.44 496.05,354.57 496.30,354.67 496.55,354.74 496.80,354.77 497.05,354.77 497.30,354.73 497.55,354.66 497.80,354.55 498.05,354.41 498.30,354.24 498.55,354.04 498.80,353.82 499.05,353.57 499.30,353.30 499.55,353.01 499.80,352.71 500.05,352.39 500.30,352.07 500.55,351.75 500.80,351.42 501.05,351.10 501.30,350.79 501.55,350.48 501.80,350.19 502.05,349.92 502.30,349.68 502.55,349.45 502.80,349.25 503.05,349.08 503.30,348.94 503.55,348.84 503.80,348.76 504.05,348.72 504.30,348.72 504.55,348.75 504.80,348.82 505.05,348.92 505.30,349.05 505.55,349.21 505.80,349.41 506.05,349.63 506.30,349.87 506.55,350.14 506.80,350.42 507.05,350.72 507.30,351.04 507.55,351.36 507.80,351.68 508.05,352.01 508.30,352.33 508.55,352.64 508.80,352.95 509.05,353.24 509.30,353.51 509.55,353.77 509.80,354.00 510.05,354.20 510.30,354.38 510.55,354.52 510.80,354.64 511.05,354.72 511.30,354.76 511.55,354.77 511.80,354.75 512.05,354.69 512.30,354.60 512.55,354.47 512.80,354.31 513.05,354.12 513.30,353.91 513.55,353.67 513.80,353.41 514.05,353.13 514.30,352.83 514.55,352.52 514.80,352.20 515.05,351.88 515.30,351.55 515.55,351.23 515.80,350.91 516.05,350.60 516.30,350.31 516.55,350.03 516.80,349.77 517.05,349.54 517.30,349.33 517.55,349.15 517.80,348.99 518.05,348.87 518.30,348.79 518.55,348.74 518.80,348.72 519.05,348.74 519.30,348.79 519.55,348.87 519.80,348.99 520.05,349.15 520.30,349.33 520.55,349.54 520.80,349.77 521.05,350.03 521.30,350.31 521.55,350.60 521.80,350.91 522.05,351.23 522.30,351.55 522.55,351.88 522.80,352.20 523.05,352.52 523.30,352.83 523.55,353.13 523.80,353.41 524.05,353.67 524.30,353.91 524.55,354.12 524.80,354.31 525.05,354.47 525.30,354.60 525.55,354.69 525.80,354.75 526.05,354.77 526.30,354.76 526.55,354.72 526.80,354.64 527.05,354.52 527.30,354.38 527.55,354.20 527.80,354.00 528.05,353.77 528.30,353.51 528.55,353.24 528.80,352.95 529.05,352.64 529.30,352.33 529.55,352.01 529.80,351.68 530.05,351.36 530.30,351.04 530.55,350.72 530.80,350.42 531.05,350.14 531.30,349.87 531.55,349.63 531.80,349.41 532.05,349.21 532.30,349.05 532.55,348.92 532.80,348.82 533.05,348.75 533.30,348.72 533.55,348.72 533.80,348.76 534.05,348.84 534.30,348.94 534.55,349.08 534.80,349.25 535.05,349.45 535.30,349.68 535.55,349.92 535.80,350.19 536.05,350.48 536.30,350.79 536.55,351.10 536.80,351.42 537.05,351.75 537.30,352.07 537.55,352.39 537.80,352.71 538.05,353.01 538.30,353.30 538.55,353.57 538.80,353.82 539.05,354.04 539.30,354.24 539.55,354.41 539.80,354.55 540.05,354.66 540.30,354.73 540.55,354.77 540.80,354.77 541.05,354.74 541.30,354.67 541.55,354.57 541.80,354.44 542.05,354.28 542.30,354.08 542.55,353.86 542.80,353.62 543.05,353.35 543.30,353.07 543.55,352.77 543.80,352.46 544.05,352.14 544.30,351.81 544.55,351.49 544.80,351.16 545.05,350.85" fill="none" stroke="#2a2a2a" stroke-width="1.3" stroke-linejoin="round"/>
<polyline points="324.55,373.88 324.80,374.71 325.05,375.67 325.30,376.74 325.55,377.91 325.80,379.16 326.05,380.48 326.30,381.84 326.55,383.23 326.80,384.63 327.05,386.02 327.30,387.39 327.55,388.70 327.80,389.95 328.05,391.12 328.30,392.19 328.55,393.14 328.80,393.97 329.05,394.66 329.30,395.20 329.55,395.59 329.80,395.82 330.05,395.88 330.30,395.78 330.55,395.52 330.80,395.12 331.05,394.57 331.30,393.87 331.55,393.03 331.80,392.06 332.05,390.98 332.30,389.80 332.55,388.54 332.80,387.21 333.05,385.84 333.30,384.43 333.55,383.02 333.80,381.62 334.05,380.25 334.30,378.93 334.55,377.68 334.80,376.51 335.05,375.45 335.30,374.50 335.55,373.69 335.80,373.02 336.05,372.50 336.30,372.15 336.55,371.96 336.80,371.97 337.05,372.20 337.30,372.59 337.55,373.14 337.80,373.85 338.05,374.71 338.30,375.70 338.55,376.82 338.80,378.04 339.05,379.35 339.30,380.73 339.55,382.17 339.80,383.65 340.05,385.14 340.30,386.63 340.55,388.09 340.80,389.51 341.05,390.87 341.30,392.15 341.55,393.34 341.80,394.41 342.05,395.36 342.30,396.17 342.55,396.84 342.80,397.35 343.05,397.70 343.30,397.88 343.55,397.90 343.80,397.76 344.05,397.45 344.30,397.03 344.55,396.47 344.80,395.77 345.05,394.94 345.30,393.98 345.55,392.92 345.80,391.76 346.05,390.54 346.30,389.25 346.55,387.93 346.80,386.59 347.05,385.25 347.30,383.93 347.55,382.65 347.80,381.43 348.05,380.29 348.30,379.24 348.55,378.30 348.80,377.48 349.05,376.80 349.30,376.27 349.55,375.90 349.80,375.69 350.05,375.65 350.30,375.78 350.55,376.11 350.80,376.61 351.05,377.27 351.30,378.08 351.55,379.04 351.80,380.13 352.05,381.33 352.30,382.64 352.55,384.03 352.80,385.49 353.05,387.00 353.30,388.54 353.55,390.09 353.80,391.63 354.05,393.14 354.30,394.60 354.55,395.99 354.80,397.30 355.05,398.50 355.30,399.59 355.55,400.55 355.80,401.37 356.05,402.04 356.30,402.54 356.55,402.88 356.80,403.06 357.05,403.06 357.30,402.90 357.55,402.57 357.80,402.08 358.05,401.44 358.30,400.66 358.55,399.75 358.80,398.74 359.05,397.62 359.30,396.43 359.55,395.17 359.80,393.87 360.05,392.55 360.30,391.22 360.55,389.90 360.80,388.62 361.05,387.39 361.30,386.24 361.55,385.17 361.80,384.21 362.05,383.36 362.30,382.65 362.55,382.08 362.80,381.66 363.05,381.40 363.30,381.31 363.55,381.38 363.80,381.61 364.05,382.00 364.30,382.53 364.55,383.22 364.80,384.05 365.05,385.02 365.30,386.12 365.55,387.32 365.80,388.62 366.05,390.01 366.30,391.45 366.55,392.93 366.80,394.44 367.05,395.95 367.30,397.45 367.55,398.91 367.80,400.32 368.05,401.66 368.30,402.90 368.55,404.04 368.80,405.06 369.05,405.95 369.30,406.69 369.55,407.28 369.80,407.70 370.05,407.96 370.30,408.06 370.55,407.98 370.80,407.74 371.05,407.28 371.30,406.67 371.55,405.92 371.80,405.03 372.05,404.03 372.30,402.92 372.55,401.73 372.80,400.47 373.05,399.15 373.30,397.81 373.55,396.45 373.80,395.09 374.05,393.77 374.30,392.49 374.55,391.27 374.80,390.13 375.05,389.09 375.30,388.16 375.55,387.35 375.80,386.68 376.05,386.16 376.30,385.79 376.55,385.58 376.80,385.53 377.05,385.64 377.30,385.91 377.55,386.34 377.80,386.92 378.05,387.65 378.30,388.51 378.55,389.50 378.80,390.59 379.05,391.79 379.30,393.06 379.55,394.39 379.80,395.77 380.05,397.18 380.30,398.60 380.55,400.00 380.80,401.38 381.05,402.71 381.30,403.98 381.55,405.16 381.80,406.25 382.05,407.23 382.30,408.09 382.55,408.82 382.80,409.40 383.05,409.83 383.30,410.12 383.55,410.24 383.80,410.21 384.05,410.05 384.30,409.74 384.55,409.27 384.80,408.68 385.05,407.95 385.30,407.10 385.55,406.15 385.80,405.10 386.05,403.98 386.30,402.80 386.55,401.58 386.80,400.34 387.05,399.08 387.30,397.84 387.55,396.63 387.80,395.46 388.05,394.36 388.30,393.34 388.55,392.41 388.80,391.60 389.05,390.90 389.30,390.33 389.55,389.90 389.80,389.62 390.05,389.49 390.30,389.51 390.55,389.68 390.80,390.01 391.05,390.49 391.30,391.03 391.55,391.70 391.80,392.51 392.05,393.43 392.30,394.47 392.55,395.60 392.80,396.81 393.05,398.09 393.30,399.42 393.55,400.79 393.80,402.16 394.05,403.53 394.30,404.88 394.55,406.19 394.80,407.43 395.05,408.60 395.30,409.67 395.55,410.63 395.80,411.47 396.05,412.18 396.30,412.74 396.55,413.14 396.80,413.39 397.05,413.47 397.30,413.38 397.55,413.08 397.80,412.59 398.05,411.94 398.30,411.15 398.55,410.22 398.80,409.18 399.05,408.02 399.30,406.77 399.55,405.45 399.80,404.07 400.05,402.65 400.30,401.21 400.55,399.77 400.80,398.35 401.05,396.97 401.30,395.64 401.55,394.40 401.80,393.24 402.05,392.19 402.30,391.27 402.55,390.47 402.80,389.83 403.05,389.33 403.30,389.00 403.55,388.83 403.80,388.83 404.05,389.00 404.30,389.32 404.55,389.81 404.80,390.43 405.05,391.18 405.30,392.06 405.55,393.06 405.80,394.17 406.05,395.38 406.30,396.66 406.55,398.00 406.80,399.38 407.05,400.78 407.30,402.18 407.55,403.56 407.80,404.90 408.05,406.18 408.30,407.39 408.55,408.50 408.80,409.50 409.05,410.38 409.30,411.12 409.55,411.71 409.80,412.14 410.05,412.41 410.30,412.51 410.55,412.40 410.80,412.09 411.05,411.61 411.30,410.98 411.55,410.18 411.80,409.25 412.05,408.18 412.30,406.99 412.55,405.70 412.80,404.33 413.05,402.89 413.30,401.40 413.55,399.88 413.80,398.35 414.05,396.83 414.30,395.35 414.55,393.91 414.80,392.54 415.05,391.26 415.30,390.08 415.55,389.02 415.80,388.09 416.05,387.31 416.30,386.68 416.55,386.21 416.80,385.90 417.05,385.76 417.30,385.79 417.55,385.99 417.80,386.35 418.05,386.86 418.30,387.52 418.55,388.31 418.80,389.24 419.05,390.27 419.30,391.41 419.55,392.62 419.80,393.90 420.05,395.23 420.30,396.58 420.55,397.94 420.80,399.28 421.05,400.59 421.30,401.85 421.55,403.04 421.80,404.14 422.05,405.14 422.30,406.01 422.55,406.76 422.80,407.36 423.05,407.82 423.30,408.11 423.55,408.23 423.80,408.16 424.05,407.92 424.30,407.51 424.55,406.94 424.80,406.22 425.05,405.36 425.30,404.36 425.55,403.24 425.80,402.02 426.05,400.71 426.30,399.33 426.55,397.89 426.80,396.41 427.05,394.92 427.30,393.44 427.55,391.97 427.80,390.54 428.05,389.18 428.30,387.89 428.55,386.69 428.80,385.59 429.05,384.62 429.30,383.78 429.55,383.08 429.80,382.53 430.05,382.13 430.30,381.90 430.55,381.82 430.80,381.90 431.05,382.14 431.30,382.53 431.55,383.05 431.80,383.69 432.05,384.45 432.30,385.32 432.55,386.30 432.80,387.36 433.05,388.49 433.30,389.67 433.55,390.88 433.80,392.12 434.05,393.34 434.30,394.55 434.55,395.72 434.80,396.83 435.05,397.87 435.30,398.82 435.55,399.67 435.80,400.39 436.05,400.99 436.30,401.46 436.55,401.78 436.80,401.98 437.05,402.03 437.30,401.91 437.55,401.64 437.80,401.22 438.05,400.64 438.30,399.92 438.55,399.06 438.80,398.08 439.05,396.98 439.30,395.78 439.55,394.49 439.80,393.13 440.05,391.72 440.30,390.28 440.55,388.81 440.80,387.35 441.05,385.92 441.30,384.52 441.55,383.18 441.80,381.91 442.05,380.74 442.30,379.67 442.55,378.72 442.80,377.91 443.05,377.23 443.30,376.71 443.55,376.35 443.80,376.14 444.05,376.10 444.30,376.24 444.55,376.54 444.80,377.01 445.05,377.62 445.30,378.36 445.55,379.23 445.80,380.22 446.05,381.30 446.30,382.47 446.55,383.70 446.80,384.97 447.05,386.28 447.30,387.59 447.55,388.90 447.80,390.17 448.05,391.40 448.30,392.56 448.55,393.64 448.80,394.62 449.05,395.49 449.30,396.23 449.55,396.83 449.80,397.29 450.05,397.59 450.30,397.73 450.55,397.71 450.80,397.54 451.05,397.24 451.30,396.77 451.55,396.15 451.80,395.38 452.05,394.47 452.30,393.43 452.55,392.28 452.80,391.03 453.05,389.70 453.30,388.29 453.55,386.84 453.80,385.36 454.05,383.87 454.30,382.39 454.55,380.94 454.80,379.54 455.05,378.21 455.30,376.96 455.55,375.81 455.80,374.78 456.05,373.88 456.30,373.12 456.55,372.51 456.80,372.07 457.05,371.80 457.30,371.69 457.55,371.84 457.80,372.15 458.05,372.63 458.30,373.27 458.55,374.05 458.80,374.96 459.05,376.00 459.30,377.15 459.55,378.38 459.80,379.69 460.05,381.06 460.30,382.46 460.55,383.87 460.80,385.28 461.05,386.67 461.30,388.01 461.55,389.30 461.80,390.50 462.05,391.61 462.30,392.61 462.55,393.48 462.80,394.22 463.05,394.81 463.30,395.24 463.55,395.52 463.80,395.63 464.05,395.62 464.30,395.44 464.55,395.10 464.80,394.61 465.05,393.96 465.30,393.17 465.55,392.25 465.80,391.21 466.05,390.07 466.30,388.84 466.55,387.54 466.80,386.19 467.05,384.80 467.30,383.40 467.55,382.00 467.80,380.62 468.05,379.28 468.30,378.01 468.55,376.81 468.80,375.71 469.05,374.71 469.30,373.84 469.55,373.10 469.80,372.51 470.05,372.08 470.30,371.80 470.55,371.72 470.80,371.83 471.05,372.10 471.30,372.53 471.55,373.11 471.80,373.84 472.05,374.70 472.30,375.68 472.55,376.77 472.80,377.95 473.05,379.21 473.30,380.53 473.55,381.89 473.80,383.27 474.05,384.66 474.30,386.03 474.55,387.36 474.80,388.65 475.05,389.87 475.30,391.01 475.55,392.05 475.80,392.97 476.05,393.77 476.30,394.44 476.55,394.97 476.80,395.35 477.05,395.57 477.30,395.65 477.55,395.57 477.80,395.40 478.05,395.09 478.30,394.64 478.55,394.05 478.80,393.34 479.05,392.50 479.30,391.57 479.55,390.53 479.80,389.43 480.05,388.26 480.30,387.04 480.55,385.81 480.80,384.56 481.05,383.32 481.30,382.11 481.55,380.95 481.80,379.84 482.05,378.82 482.30,377.89 482.55,377.06 482.80,376.36 483.05,375.79 483.30,375.35 483.55,375.07 483.80,374.93 484.05,374.95 484.30,375.14 484.55,375.49 484.80,375.99 485.05,376.63 485.30,377.41 485.55,378.31 485.80,379.34 486.05,380.46 486.30,381.67 486.55,382.95 486.80,384.29 487.05,385.67 487.30,387.06 487.55,388.46 487.80,389.85 488.05,391.19 488.30,392.49 488.55,393.72 488.80,394.87 489.05,395.91 489.30,396.85 489.55,397.66 489.80,398.34 490.05,398.87 490.30,399.26 490.55,399.50 490.80,399.58 491.05,399.51 491.30,399.31 491.55,398.98 491.80,398.50 492.05,397.89 492.30,397.15 492.55,396.29 492.80,395.33 493.05,394.27 493.30,393.15 493.55,391.97 493.80,390.75 494.05,389.50 494.30,388.26 494.55,387.03 494.80,385.83 495.05,384.68 495.30,383.61 495.55,382.61 495.80,381.72 496.05,380.95 496.30,380.30 496.55,379.79 496.80,379.42 497.05,379.21 497.30,379.16 497.55,379.27 497.80,379.55 498.05,379.99 498.30,380.59 498.55,381.33 498.80,382.21 499.05,383.23 499.30,384.36 499.55,385.59 499.80,386.91 500.05,388.31 500.30,389.76 500.55,391.24 500.80,392.74 501.05,394.24 501.30,395.71 501.55,397.15 501.80,398.53 502.05,399.83 502.30,401.03 502.55,402.13 502.80,403.10 503.05,403.95 503.30,404.64 503.55,405.18 503.80,405.56 504.05,405.78 504.30,405.83 504.55,405.71 504.80,405.40 505.05,404.94 505.30,404.32 505.55,403.57 505.80,402.69 506.05,401.69 506.30,400.60 506.55,399.42 506.80,398.18 507.05,396.89 507.30,395.57 507.55,394.24 507.80,392.93 508.05,391.64 508.30,390.40 508.55,389.23 508.80,388.14 509.05,387.16 509.30,386.29 509.55,385.54 509.80,384.94 510.05,384.49 510.30,384.19 510.55,384.05 510.80,384.07 511.05,384.25 511.30,384.60 511.55,385.11 511.80,385.77 512.05,386.58 512.30,387.52 512.55,388.59 512.80,389.77 513.05,391.05 513.30,392.42 513.55,393.84 513.80,395.31 514.05,396.80 514.30,398.30 514.55,399.79 514.80,401.24 515.05,402.64 515.30,403.98 515.55,405.22 515.80,406.37 516.05,407.39 516.30,408.28 516.55,409.04 516.80,409.64 517.05,410.08 517.30,410.36 517.55,410.47 517.80,410.40 518.05,410.14 518.30,409.72 518.55,409.15 518.80,408.43 519.05,407.58 519.30,406.62 519.55,405.54 519.80,404.38 520.05,403.15 520.30,401.86 520.55,400.54 520.80,399.20 521.05,397.87 521.30,396.56 521.55,395.28 521.80,394.07 522.05,392.94 522.30,391.89 522.55,390.96 522.80,390.15 523.05,389.46 523.30,388.92 523.55,388.54 523.80,388.30 524.05,388.23 524.30,388.27 524.55,388.47 524.80,388.82 525.05,389.33 525.30,389.98 525.55,390.78 525.80,391.70 526.05,392.74 526.30,393.89 526.55,395.13 526.80,396.44 527.05,397.80 527.30,399.20 527.55,400.62 527.80,402.04 528.05,403.44 528.30,404.80 528.55,406.10 528.80,407.33 529.05,408.47 529.30,409.50 529.55,410.41 529.80,411.18 530.05,411.82 530.30,412.30 530.55,412.62 530.80,412.78 531.05,412.76 531.30,412.56 531.55,412.20 531.80,411.68 532.05,411.02 532.30,410.22 532.55,409.29 532.80,408.24 533.05,407.10 533.30,405.88 533.55,404.58 533.80,403.24 534.05,401.88 534.30,400.50 534.55,399.13 534.80,397.79 535.05,396.49 535.30,395.26 535.55,394.11 535.80,393.06 536.05,392.12 536.30,391.31 536.55,390.63 536.80,390.10 537.05,389.72 537.30,389.50 537.55,389.44 537.80,389.53 538.05,389.78 538.30,390.18 538.55,390.74 538.80,391.44 539.05,392.28 539.30,393.24 539.55,394.32 539.80,395.49 540.05,396.74 540.30,398.05 540.55,399.41 540.80,400.80 541.05,402.19 541.30,403.58 541.55,404.93 541.80,406.23 542.05,407.47 542.30,408.63 542.55,409.68 542.80,410.63 543.05,411.44 543.30,412.12 543.55,412.65 543.80,413.03 544.05,413.24 544.30,413.30 544.55,413.19 544.80,412.91 545.05,412.47" fill="none" stroke="#3434f0" stroke-width="1.3" stroke-linejoin="round"/>
<polyline points="324.55,413.83 324.80,415.38 325.05,416.62 325.30,417.54 325.55,418.12 325.80,418.35 326.05,418.23 326.30,417.76 326.55,416.95 326.80,415.81 327.05,414.36 327.30,412.61 327.55,410.58 327.80,408.32 328.05,405.84 328.30,403.19 328.55,400.40 328.80,397.51 329.05,394.55 329.30,391.58 329.55,388.63 329.80,385.74 330.05,382.95 330.30,380.30 330.55,377.84 330.80,375.58 331.05,373.57 331.30,371.83 331.55,370.39 331.80,369.26 332.05,368.46 332.30,368.01 332.55,367.90 332.80,368.15 333.05,368.74 333.30,369.67 333.55,370.93 333.80,372.49 334.05,374.34 334.30,376.46 334.55,378.80 334.80,381.34 335.05,384.05 335.30,386.88 335.55,389.80 335.80,392.77 336.05,395.74 336.30,398.67 336.55,401.53 336.80,404.27 337.05,406.86 337.30,409.25 337.55,411.42 337.80,413.34 338.05,414.98 338.30,416.31 338.55,417.32 338.80,417.99 339.05,418.32 339.30,418.30 339.55,417.93 339.80,417.22 340.05,416.17 340.30,414.80 340.55,413.12 340.80,411.18 341.05,408.98 341.30,406.56 341.55,403.95 341.80,401.19 342.05,398.32 342.30,395.38 342.55,392.41 342.80,389.45 343.05,386.54 343.30,383.72 343.55,381.03 343.80,378.51 344.05,376.19 344.30,374.11 344.55,372.29 344.80,370.76 345.05,369.54 345.30,368.65 345.55,368.10 345.80,367.89 346.05,368.04 346.30,368.54 346.55,369.37 346.80,370.54 347.05,372.02 347.30,373.80 347.55,375.84 347.80,378.12 348.05,380.61 348.30,383.28 348.55,386.08 348.80,388.98 349.05,391.94 349.30,394.91 349.55,397.86 349.80,400.74 350.05,403.52 350.30,406.15 350.55,408.60 350.80,410.84 351.05,412.83 351.30,414.55 351.55,415.97 351.80,417.07 352.05,417.84 352.30,418.27 352.55,418.34 352.80,418.07 353.05,417.45 353.30,416.49 353.55,415.21 353.80,413.62 354.05,411.75 354.30,409.62 354.55,407.25 354.80,404.70 355.05,401.98 355.30,399.14 355.55,396.21 355.80,393.24 356.05,390.27 356.30,387.34 356.55,384.50 356.80,381.77 357.05,379.19 357.30,376.82 357.55,374.66 357.80,372.77 358.05,371.16 358.30,369.85 358.55,368.86 358.80,368.22 359.05,367.92 359.30,367.97 359.55,368.36 359.80,369.11 360.05,370.18 360.30,371.58 360.55,373.27 360.80,375.24 361.05,377.46 361.30,379.90 361.55,382.52 361.80,385.28 362.05,388.16 362.30,391.10 362.55,394.08 362.80,397.04 363.05,399.94 363.30,402.75 363.55,405.43 363.80,407.94 364.05,410.24 364.30,412.30 364.55,414.10 364.80,415.60 365.05,416.79 365.30,417.66 365.55,418.18 365.80,418.36 366.05,418.18 366.30,417.66 366.55,416.79 366.80,415.60 367.05,414.10 367.30,412.30 367.55,410.24 367.80,407.94 368.05,405.43 368.30,402.75 368.55,399.94 368.80,397.04 369.05,394.08 369.30,391.10 369.55,388.16 369.80,385.28 370.05,382.52 370.30,379.90 370.55,377.46 370.80,375.24 371.05,373.27 371.30,371.58 371.55,370.18 371.80,369.11 372.05,368.36 372.30,367.97 372.55,367.92 372.80,368.22 373.05,368.86 373.30,369.85 373.55,371.16 373.80,372.77 374.05,374.66 374.30,376.82 374.55,379.19 374.80,381.77 375.05,384.50 375.30,387.34 375.55,390.27 375.80,393.24 376.05,396.21 376.30,399.14 376.55,401.98 376.80,404.70 377.05,407.25 377.30,409.62 377.55,411.75 377.80,413.62 378.05,415.21 378.30,416.49 378.55,417.45 378.80,418.07 379.05,418.34 379.30,418.27 379.55,417.84 379.80,417.07 380.05,415.97 380.30,414.55 380.55,412.83 380.80,410.84 381.05,408.60 381.30,406.15 381.55,403.52 381.80,400.74 382.05,397.86 382.30,394.91 382.55,391.94 382.80,388.98 383.05,386.08 383.30,383.28 383.55,380.61 383.80,378.12 384.05,375.84 384.30,373.80 384.55,372.02 384.80,370.54 385.05,369.37 385.30,368.54 385.55,368.04 385.80,367.89 386.05,368.10 386.30,368.65 386.55,369.54 386.80,370.76 387.05,372.29 387.30,374.11 387.55,376.19 387.80,378.51 388.05,381.03 388.30,383.72 388.55,386.54 388.80,389.45 389.05,392.41 389.30,395.38 389.55,398.32 389.80,401.19 390.05,403.95 390.30,406.56 390.55,408.98 390.80,411.18 391.05,413.12 391.30,414.80 391.55,416.17 391.80,417.22 392.05,417.93 392.30,418.30 392.55,418.32 392.80,417.99 393.05,417.32 393.30,416.31 393.55,414.98 393.80,413.34 394.05,411.42 394.30,409.25 394.55,406.86 394.80,404.27 395.05,401.53 395.30,398.67 395.55,395.74 395.80,392.77 396.05,389.80 396.30,386.88 396.55,384.05 396.80,381.34 397.05,378.80 397.30,376.46 397.55,374.34 397.80,372.49 398.05,370.93 398.30,369.67 398.55,368.74 398.80,368.15 399.05,367.90 399.30,368.01 399.55,368.46 399.80,369.26 400.05,370.39 400.30,371.83 400.55,373.57 400.80,375.58 401.05,377.84 401.30,380.30 401.55,382.95 401.80,385.74 402.05,388.63 402.30,391.58 402.55,394.55 402.80,397.51 403.05,400.40 403.30,403.19 403.55,405.84 403.80,408.32 404.05,410.58 404.30,412.61 404.55,414.36 404.80,415.81 405.05,416.95 405.30,417.76 405.55,418.23 405.80,418.35 406.05,418.12 406.30,417.54 406.55,416.62 406.80,415.38 407.05,413.83 407.30,411.99 407.55,409.88 407.80,407.55 408.05,405.01 408.30,402.31 408.55,399.48 408.80,396.57 409.05,393.60 409.30,390.63 409.55,387.69 409.80,384.83 410.05,382.09 410.30,379.49 410.55,377.09 410.80,374.91 411.05,372.98 411.30,371.33 411.55,369.99 411.80,368.97 412.05,368.28 412.30,367.93 412.55,367.94 412.80,368.30 413.05,369.00 413.30,370.04 413.55,371.39 413.80,373.05 414.05,374.99 414.30,377.18 414.55,379.59 414.80,382.19 415.05,384.94 415.30,387.81 415.55,390.75 415.80,393.72 416.05,396.68 416.30,399.60 416.55,402.42 416.80,405.12 417.05,407.65 417.30,409.97 417.55,412.07 417.80,413.90 418.05,415.44 418.30,416.67 418.55,417.57 418.80,418.14 419.05,418.35 419.30,418.22 419.55,417.74 419.80,416.91 420.05,415.76 420.30,414.29 420.55,412.53 420.80,410.50 421.05,408.22 421.30,405.74 421.55,403.08 421.80,400.29 422.05,397.39 422.30,394.43 422.55,391.46 422.80,388.51 423.05,385.62 423.30,382.84 423.55,380.20 423.80,377.74 424.05,375.50 424.30,373.49 424.55,371.77 424.80,370.33 425.05,369.22 425.30,368.44 425.55,368.00 425.80,367.90 426.05,368.16 426.30,368.77 426.55,369.71 426.80,370.98 427.05,372.56 427.30,374.42 427.55,376.54 427.80,378.90 428.05,381.45 428.30,384.16 428.55,387.00 428.80,389.92 429.05,392.89 429.30,395.86 429.55,398.79 429.80,401.64 430.05,404.38 430.30,406.96 430.55,409.34 430.80,411.50 431.05,413.41 431.30,415.04 431.55,416.36 431.80,417.35 432.05,418.01 432.30,418.33 432.55,418.29 432.80,417.91 433.05,417.18 433.30,416.12 433.55,414.73 433.80,413.05 434.05,411.09 434.30,408.88 434.55,406.46 434.80,403.84 435.05,401.08 435.30,398.21 435.55,395.26 435.80,392.29 436.05,389.33 436.30,386.42 436.55,383.61 436.80,380.92 437.05,378.41 437.30,376.10 437.55,374.03 437.80,372.22 438.05,370.70 438.30,369.50 438.55,368.62 438.80,368.08 439.05,367.89 439.30,368.06 439.55,368.56 439.80,369.42 440.05,370.60 440.30,372.09 440.55,373.87 440.80,375.93 441.05,378.22 441.30,380.72 441.55,383.39 441.80,386.19 442.05,389.10 442.30,392.05 442.55,395.03 442.80,397.97 443.05,400.85 443.30,403.63 443.55,406.25 443.80,408.70 444.05,410.92 444.30,412.90 444.55,414.61 444.80,416.02 445.05,417.11 445.30,417.86 445.55,418.28 445.80,418.34 446.05,418.05 446.30,417.42 446.55,416.45 446.80,415.15 447.05,413.55 447.30,411.67 447.55,409.52 447.80,407.16 448.05,404.59 448.30,401.87 448.55,399.02 448.80,396.09 449.05,393.12 449.30,390.16 449.55,387.23 449.80,384.38 450.05,381.66 450.30,379.09 450.55,376.73 450.80,374.58 451.05,372.70 451.30,371.10 451.55,369.80 451.80,368.83 452.05,368.20 452.30,367.91 452.55,367.97 452.80,368.39 453.05,369.14 453.30,370.23 453.55,371.64 453.80,373.35 454.05,375.33 454.30,377.55 454.55,380.00 454.80,382.62 455.05,385.40 455.30,388.28 455.55,391.22 455.80,394.20 456.05,397.15 456.30,400.06 456.55,402.86 456.80,405.53 457.05,408.03 457.30,410.32 457.55,412.38 457.80,414.16 458.05,415.65 458.30,416.83 458.55,417.69 458.80,418.19 459.05,418.36 459.30,418.17 459.55,417.63 459.80,416.75 460.05,415.55 460.30,414.03 460.55,412.22 460.80,410.15 461.05,407.84 461.30,405.33 461.55,402.64 461.80,399.83 462.05,396.92 462.30,393.96 462.55,390.99 462.80,388.04 463.05,385.17 463.30,382.41 463.55,379.79 463.80,377.37 464.05,375.16 464.30,373.20 464.55,371.52 464.80,370.13 465.05,369.07 465.30,368.34 465.55,367.96 465.80,367.92 466.05,368.24 466.30,368.90 466.55,369.89 466.80,371.21 467.05,372.84 467.30,374.75 467.55,376.91 467.80,379.29 468.05,381.87 468.30,384.61 468.55,387.46 468.80,390.39 469.05,393.36 469.30,396.33 469.55,399.25 469.80,402.09 470.05,404.80 470.30,407.35 470.55,409.71 470.80,411.83 471.05,413.69 471.30,415.27 471.55,416.54 471.80,417.48 472.05,418.09 472.30,418.35 472.55,418.25 472.80,417.81 473.05,417.03 473.30,415.92 473.55,414.48 473.80,412.76 474.05,410.75 474.30,408.51 474.55,406.05 474.80,403.41 475.05,400.63 475.30,397.74 475.55,394.79 475.80,391.82 476.05,388.86 476.30,385.96 476.55,383.17 476.80,380.51 477.05,378.03 477.30,375.75 477.55,373.72 477.80,371.96 478.05,370.49 478.30,369.34 478.55,368.51 478.80,368.03 479.05,367.90 479.30,368.11 479.55,368.68 479.80,369.58 480.05,370.81 480.30,372.35 480.55,374.18 480.80,376.28 481.05,378.60 481.30,381.13 481.55,383.83 481.80,386.65 482.05,389.57 482.30,392.53 482.55,395.50 482.80,398.44 483.05,401.31 483.30,404.06 483.55,406.66 483.80,409.07 484.05,411.26 484.30,413.20 484.55,414.86 484.80,416.21 485.05,417.25 485.30,417.95 485.55,418.31 485.80,418.32 486.05,417.97 486.30,417.28 486.55,416.26 486.80,414.92 487.05,413.27 487.30,411.34 487.55,409.16 487.80,406.76 488.05,404.16 488.30,401.42 488.55,398.56 488.80,395.62 489.05,392.65 489.30,389.68 489.55,386.77 489.80,383.94 490.05,381.24 490.30,378.70 490.55,376.37 490.80,374.26 491.05,372.42 491.30,370.87 491.55,369.63 491.80,368.71 492.05,368.13 492.30,367.90 492.55,368.02 492.80,368.49 493.05,369.30 493.30,370.44 493.55,371.89 493.80,373.64 494.05,375.67 494.30,377.93 494.55,380.41 494.80,383.06 495.05,385.85 495.30,388.74 495.55,391.70 495.80,394.67 496.05,397.62 496.30,400.51 496.55,403.30 496.80,405.95 497.05,408.41 497.30,410.67 497.55,412.68 497.80,414.42 498.05,415.86 498.30,416.99 498.55,417.79 498.80,418.24 499.05,418.35 499.30,418.10 499.55,417.51 499.80,416.58 500.05,415.32 500.30,413.76 500.55,411.91 500.80,409.79 501.05,407.45 501.30,404.91 501.55,402.20 501.80,399.37 502.05,396.45 502.30,393.48 502.55,390.51 502.80,387.58 503.05,384.72 503.30,381.98 503.55,379.39 503.80,377.00 504.05,374.83 504.30,372.91 504.55,371.27 504.80,369.94 505.05,368.93 505.30,368.26 505.55,367.93 505.80,367.95 506.05,368.32 506.30,369.03 506.55,370.08 506.80,371.45 507.05,373.13 507.30,375.07 507.55,377.27 507.80,379.69 508.05,382.30 508.30,385.06 508.55,387.93 508.80,390.87 509.05,393.84 509.30,396.80 509.55,399.71 509.80,402.53 510.05,405.22 510.30,407.74 510.55,410.06 510.80,412.14 511.05,413.96 511.30,415.49 511.55,416.71 511.80,417.60 512.05,418.15 512.30,418.36 512.55,418.21 512.80,417.71 513.05,416.88 513.30,415.71 513.55,414.23 513.80,412.45 514.05,410.41 514.30,408.13 514.55,405.64 514.80,402.97 515.05,400.17 515.30,397.27 515.55,394.31 515.80,391.34 516.05,388.39 516.30,385.51 516.55,382.73 516.80,380.10 517.05,377.65 517.30,375.41 517.55,373.42 517.80,371.70 518.05,370.28 518.30,369.18 518.55,368.41 518.80,367.98 519.05,367.91 519.30,368.18 519.55,368.80 519.80,369.76 520.05,371.04 520.30,372.63 520.55,374.50 520.80,376.63 521.05,379.00 521.30,381.55 521.55,384.27 521.80,387.11 522.05,390.04 522.30,393.01 522.55,395.98 522.80,398.91 523.05,401.75 523.30,404.48 523.55,407.06 523.80,409.43 524.05,411.59 524.30,413.48 524.55,415.09 524.80,416.40 525.05,417.39 525.30,418.03 525.55,418.33 525.80,418.28 526.05,417.89 526.30,417.14 526.55,416.07 526.80,414.67 527.05,412.98 527.30,411.01 527.55,408.79 527.80,406.35 528.05,403.73 528.30,400.97 528.55,398.09 528.80,395.15 529.05,392.17 529.30,389.21 529.55,386.31 529.80,383.50 530.05,380.82 530.30,378.31 530.55,376.01 530.80,373.95 531.05,372.15 531.30,370.65 531.55,369.46 531.80,368.59 532.05,368.07 532.30,367.89 532.55,368.07 532.80,368.59 533.05,369.46 533.30,370.65 533.55,372.15 533.80,373.95 534.05,376.01 534.30,378.31 534.55,380.82 534.80,383.50 535.05,386.31 535.30,389.21 535.55,392.17 535.80,395.15 536.05,398.09 536.30,400.97 536.55,403.73 536.80,406.35 537.05,408.79 537.30,411.01 537.55,412.98 537.80,414.67 538.05,416.07 538.30,417.14 538.55,417.89 538.80,418.28 539.05,418.33 539.30,418.03 539.55,417.39 539.80,416.40 540.05,415.09 540.30,413.48 540.55,411.59 540.80,409.43 541.05,407.06 541.30,404.48 541.55,401.75 541.80,398.91 542.05,395.98 542.30,393.01 542.55,390.04 542.80,387.11 543.05,384.27 543.30,381.55 543.55,379.00 543.80,376.63 544.05,374.50 544.30,372.63 544.55,371.04 544.80,369.76 545.05,368.80" fill="none" stroke="#e41e1e" stroke-width="1.3" stroke-linejoin="round"/>
<path d="M333.0,281.6h14.2" stroke="#707070" stroke-width="1.5"/>
<text x="348.7" y="283.9" class="lg" textLength="50.6" lengthAdjust="spacingAndGlyphs">drag cofficient</text>
<path d="M409.0,281.6h14.2" stroke="#6464ff" stroke-width="1.5"/>
<text x="425.7" y="283.9" class="lg" textLength="43.6" lengthAdjust="spacingAndGlyphs">lift cofficient</text>
<path d="M480.3,281.6h14.2" stroke="#f03434" stroke-width="1.5"/>
<text x="498.2" y="283.9" class="lg" textLength="41.4" lengthAdjust="spacingAndGlyphs">attack angle</text>
<text transform="translate(306.8,0) rotate(-90)" x="-439.91" y="0" class="yt it" style="font-size:13.25px" textLength="32.50" lengthAdjust="spacingAndGlyphs">Alpha</text>
<text transform="translate(306.8,0) rotate(-90)" x="-407.83" y="0" class="yt upd" style="font-size:13.45px" textLength="29.39" lengthAdjust="spacingAndGlyphs">(deg)</text>
<text transform="translate(306.8,0) rotate(-90)" x="-376.78" y="0" class="yt it" style="font-size:12.42px" textLength="38.92" lengthAdjust="spacingAndGlyphs">, Cl, Cd</text>
<text x="424.4" y="513.4" class="yt"><tspan class="it xt">Time</tspan><tspan class="up" dx="2" dy="0.8">(s)</tspan></text>
<text transform="translate(394.4,538.7) scale(1.12,1)" class="cap">(<tspan font-weight="bold">d</tspan>) Case4</text>
</svg>
</body></html>
